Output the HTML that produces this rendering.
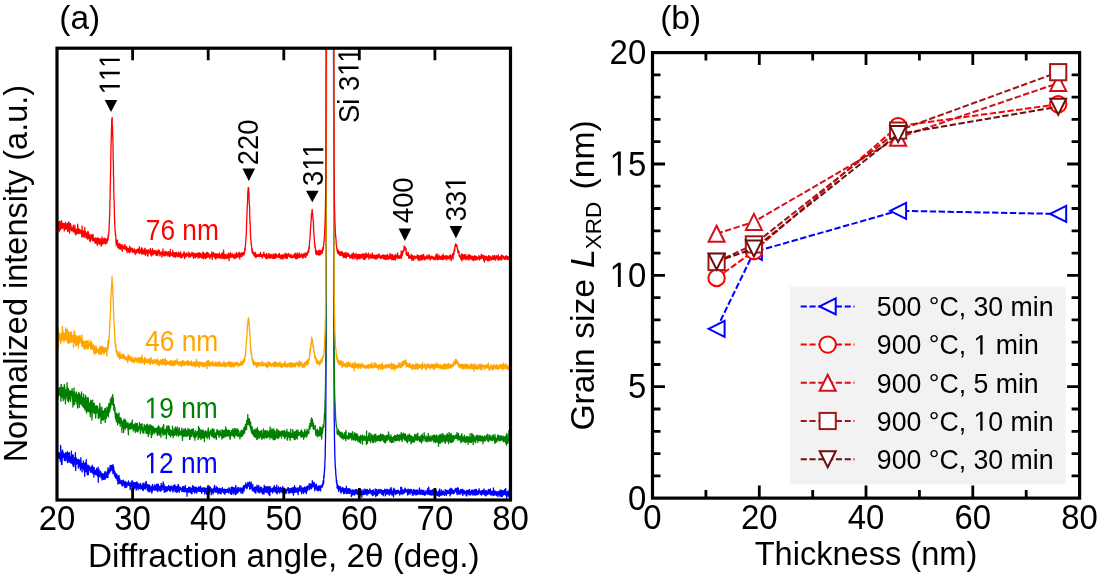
<!DOCTYPE html>
<html><head><meta charset="utf-8"><style>
html,body{margin:0;padding:0;background:#fff;width:1100px;height:577px;overflow:hidden}
svg{display:block;will-change:transform;font-family:"Liberation Sans", sans-serif}
</style></head><body>
<svg width="1100" height="577" viewBox="0 0 1100 577">
<defs><path id="one" d="M515 0H696V1409H530L197 1180V1010L515 1237Z"/><clipPath id="ca"><rect x="57.0" y="48.2" width="453.5" height="451.8"/></clipPath></defs>
<g clip-path="url(#ca)" fill="none" stroke-width="1.3" stroke-linejoin="round">
<path stroke="#0000ff" d="M57.0 457.0L57.2 458.9 57.3 457.0 57.5 450.5 57.6 459.3 57.8 457.5 57.9 453.6 58.1 458.0 58.2 457.2 58.4 456.9 58.5 455.9 58.7 458.0 58.8 452.9 59.0 455.2 59.1 454.0 59.3 458.3 59.4 456.1 59.6 454.8 59.7 452.9 59.9 455.0 60.0 456.1 60.2 455.0 60.3 461.2 60.5 460.1 60.6 445.5 60.8 448.8 60.9 455.5 61.1 454.6 61.2 457.1 61.4 457.2 61.5 464.6 61.7 452.0 61.8 454.9 62.0 464.4 62.1 459.0 62.3 459.1 62.4 454.5 62.6 450.1 62.7 457.2 62.9 457.0 63.0 451.9 63.2 454.0 63.3 456.4 63.5 453.1 63.7 456.4 63.8 457.2 64.0 457.0 64.1 454.9 64.3 459.2 64.4 460.4 64.6 458.3 64.7 453.9 64.9 459.9 65.0 455.2 65.2 460.6 65.3 453.1 65.5 460.8 65.6 457.3 65.8 452.6 65.9 456.2 66.1 457.7 66.2 458.6 66.4 453.8 66.5 453.4 66.7 458.4 66.8 456.0 67.0 458.7 67.1 460.7 67.3 451.6 67.4 458.9 67.6 462.6 67.7 456.9 67.9 455.1 68.0 461.0 68.2 459.2 68.3 461.7 68.5 457.1 68.6 452.9 68.8 458.1 68.9 456.9 69.1 461.5 69.2 459.4 69.4 452.6 69.5 454.3 69.7 462.1 69.8 461.4 70.0 456.6 70.2 459.0 70.3 460.7 70.5 460.9 70.6 462.5 70.8 460.2 70.9 459.0 71.1 458.4 71.2 463.3 71.4 451.2 71.5 459.1 71.7 459.8 71.8 454.5 72.0 461.0 72.1 457.4 72.3 463.0 72.4 459.5 72.6 462.4 72.7 464.5 72.9 461.5 73.0 457.0 73.2 454.8 73.3 466.7 73.5 460.0 73.6 458.0 73.8 461.1 73.9 459.9 74.1 463.8 74.2 460.9 74.4 460.9 74.5 458.4 74.7 462.7 74.8 457.4 75.0 463.5 75.1 466.7 75.3 455.9 75.4 452.7 75.6 463.7 75.7 470.6 75.9 458.1 76.0 457.3 76.2 463.9 76.3 459.0 76.5 460.2 76.7 460.9 76.8 464.0 77.0 460.8 77.1 463.3 77.3 461.8 77.4 459.6 77.6 461.5 77.7 459.4 77.9 462.8 78.0 459.1 78.2 459.3 78.3 468.1 78.5 463.0 78.6 463.1 78.8 465.2 78.9 462.1 79.1 462.8 79.2 465.1 79.4 464.8 79.5 460.0 79.7 466.8 79.8 462.1 80.0 460.7 80.1 461.3 80.3 463.1 80.4 469.9 80.6 460.7 80.7 465.2 80.9 457.7 81.0 464.9 81.2 467.9 81.3 464.3 81.5 463.1 81.6 466.0 81.8 467.7 81.9 467.6 82.1 472.0 82.2 466.3 82.4 463.8 82.5 465.4 82.7 465.7 82.8 466.4 83.0 466.0 83.2 466.8 83.3 461.0 83.5 469.1 83.6 464.7 83.8 462.9 83.9 468.7 84.1 471.0 84.2 468.4 84.4 467.5 84.5 464.1 84.7 476.2 84.8 470.0 85.0 463.7 85.1 465.0 85.3 467.8 85.4 462.7 85.6 468.2 85.7 466.3 85.9 471.6 86.0 470.9 86.2 459.6 86.3 468.2 86.5 463.2 86.6 471.6 86.8 468.8 86.9 470.1 87.1 465.2 87.2 474.1 87.4 474.8 87.5 465.5 87.7 469.9 87.8 466.8 88.0 468.9 88.1 465.2 88.3 474.7 88.4 466.2 88.6 468.3 88.7 470.8 88.9 467.4 89.0 468.7 89.2 467.8 89.3 469.2 89.5 466.2 89.7 468.4 89.8 469.2 90.0 468.9 90.1 470.1 90.3 469.2 90.4 472.3 90.6 469.2 90.7 469.9 90.9 468.4 91.0 468.9 91.2 466.8 91.3 472.1 91.5 467.3 91.6 468.5 91.8 471.8 91.9 472.0 92.1 469.8 92.2 465.2 92.4 472.3 92.5 471.9 92.7 467.2 92.8 473.5 93.0 469.4 93.1 468.2 93.3 471.8 93.4 471.1 93.6 472.3 93.7 467.2 93.9 477.0 94.0 470.2 94.2 467.6 94.3 473.8 94.5 471.1 94.6 473.1 94.8 471.3 94.9 472.2 95.1 473.1 95.2 470.4 95.4 474.5 95.5 471.3 95.7 470.3 95.8 473.0 96.0 474.1 96.2 472.3 96.3 470.6 96.5 474.8 96.6 468.3 96.8 470.4 96.9 473.4 97.1 469.6 97.2 473.5 97.4 473.4 97.5 476.0 97.7 471.2 97.8 472.0 98.0 474.7 98.1 467.2 98.3 482.3 98.4 472.1 98.6 472.1 98.7 476.4 98.9 474.1 99.0 469.5 99.2 476.0 99.3 476.6 99.5 473.2 99.6 473.7 99.8 475.8 99.9 472.2 100.1 475.8 100.2 475.2 100.4 473.0 100.5 471.2 100.7 474.3 100.8 472.6 101.0 477.6 101.1 475.4 101.3 477.1 101.4 475.5 101.6 475.9 101.7 473.2 101.9 477.0 102.0 480.0 102.2 474.6 102.3 473.9 102.5 475.0 102.7 474.2 102.8 473.7 103.0 475.9 103.1 474.8 103.3 479.3 103.4 475.6 103.6 476.5 103.7 478.1 103.9 474.9 104.0 479.4 104.2 474.1 104.3 473.7 104.5 474.8 104.6 475.5 104.8 472.2 104.9 475.7 105.1 471.5 105.2 479.2 105.4 475.5 105.5 474.0 105.7 473.3 105.8 474.6 106.0 474.9 106.1 472.8 106.3 473.0 106.4 474.8 106.6 473.8 106.7 477.4 106.9 477.7 107.0 474.8 107.2 475.8 107.3 471.1 107.5 475.8 107.6 474.0 107.8 475.0 107.9 477.6 108.1 467.7 108.2 473.8 108.4 470.1 108.5 474.1 108.7 469.1 108.9 470.8 109.0 472.2 109.2 472.9 109.3 471.3 109.5 468.9 109.6 469.1 109.8 472.3 109.9 469.9 110.1 465.5 110.2 471.3 110.4 470.0 110.5 470.9 110.7 467.7 110.8 470.3 111.0 465.5 111.1 469.3 111.3 466.6 111.4 469.3 111.6 470.0 111.7 465.7 111.9 467.4 112.0 467.6 112.2 470.5 112.3 469.4 112.5 465.0 112.6 469.1 112.8 470.0 112.9 473.6 113.1 464.8 113.2 467.9 113.4 472.6 113.5 466.6 113.7 467.4 113.8 471.8 114.0 473.4 114.1 469.8 114.3 473.1 114.4 472.5 114.6 476.2 114.7 473.0 114.9 475.8 115.0 471.8 115.2 473.8 115.4 474.4 115.5 477.7 115.7 476.8 115.8 474.1 116.0 477.7 116.1 478.3 116.3 476.6 116.4 476.5 116.6 477.0 116.7 473.8 116.9 478.4 117.0 478.8 117.2 476.5 117.3 480.4 117.5 475.9 117.6 477.9 117.8 478.3 117.9 484.1 118.1 476.1 118.2 481.2 118.4 482.2 118.5 481.1 118.7 483.0 118.8 478.2 119.0 475.5 119.1 482.4 119.3 478.2 119.4 480.2 119.6 478.4 119.7 483.5 119.9 483.1 120.0 479.7 120.2 483.4 120.3 481.7 120.5 481.2 120.6 481.7 120.8 481.2 120.9 483.1 121.1 482.5 121.2 481.1 121.4 484.1 121.5 480.6 121.7 482.7 121.9 483.0 122.0 485.4 122.2 481.1 122.3 486.1 122.5 482.7 122.6 481.9 122.8 480.9 122.9 483.7 123.1 482.6 123.2 480.1 123.4 480.1 123.5 481.4 123.7 481.2 123.8 485.1 124.0 485.7 124.1 484.7 124.3 483.6 124.4 481.9 124.6 483.0 124.7 484.9 124.9 487.6 125.0 485.0 125.2 482.5 125.3 483.2 125.5 482.1 125.6 481.5 125.8 482.9 125.9 483.7 126.1 487.3 126.2 483.5 126.4 486.3 126.5 487.2 126.7 483.7 126.8 487.0 127.0 485.1 127.1 482.7 127.3 484.2 127.4 483.8 127.6 483.3 127.7 483.4 127.9 484.1 128.0 484.8 128.2 482.0 128.4 483.9 128.5 480.8 128.7 484.6 128.8 485.4 129.0 484.5 129.1 484.7 129.3 485.4 129.4 482.8 129.6 483.8 129.7 485.4 129.9 486.4 130.0 485.2 130.2 489.7 130.3 484.3 130.5 486.6 130.6 487.2 130.8 484.3 130.9 482.9 131.1 482.2 131.2 485.0 131.4 487.0 131.5 485.3 131.7 485.1 131.8 484.0 132.0 486.0 132.1 480.5 132.3 485.4 132.4 485.0 132.6 482.1 132.7 489.5 132.9 482.2 133.0 482.8 133.2 482.6 133.3 487.4 133.5 483.3 133.6 486.5 133.8 486.4 133.9 485.8 134.1 482.6 134.2 484.0 134.4 488.7 134.5 482.7 134.7 483.7 134.9 485.1 135.0 487.1 135.2 486.0 135.3 487.0 135.5 483.3 135.6 487.4 135.8 486.7 135.9 482.4 136.1 488.7 136.2 490.3 136.4 484.1 136.5 485.8 136.7 488.5 136.8 482.8 137.0 481.8 137.1 483.2 137.3 484.7 137.4 484.7 137.6 487.1 137.7 486.4 137.9 483.4 138.0 487.1 138.2 489.7 138.3 488.4 138.5 488.0 138.6 486.1 138.8 488.0 138.9 484.2 139.1 487.6 139.2 486.0 139.4 488.4 139.5 487.1 139.7 484.1 139.8 486.5 140.0 488.7 140.1 484.1 140.3 485.2 140.4 484.8 140.6 483.4 140.7 488.3 140.9 489.0 141.0 488.0 141.2 487.0 141.4 486.4 141.5 487.0 141.7 485.1 141.8 488.3 142.0 488.7 142.1 488.5 142.3 485.6 142.4 486.8 142.6 486.4 142.7 490.2 142.9 487.1 143.0 483.1 143.2 487.6 143.3 490.5 143.5 488.2 143.6 488.6 143.8 487.0 143.9 483.1 144.1 483.4 144.2 484.6 144.4 486.8 144.5 487.6 144.7 488.4 144.8 486.4 145.0 489.0 145.1 486.6 145.3 485.8 145.4 488.8 145.6 485.5 145.7 482.0 145.9 485.2 146.0 487.5 146.2 481.4 146.3 486.7 146.5 486.7 146.6 484.7 146.8 484.6 146.9 486.6 147.1 486.4 147.2 489.9 147.4 488.2 147.5 484.5 147.7 485.9 147.9 488.9 148.0 491.2 148.2 488.4 148.3 488.3 148.5 491.2 148.6 487.7 148.8 487.1 148.9 485.0 149.1 486.8 149.2 491.9 149.4 485.1 149.5 487.8 149.7 485.1 149.8 488.1 150.0 489.5 150.1 487.4 150.3 489.3 150.4 489.3 150.6 488.8 150.7 491.2 150.9 489.4 151.0 487.4 151.2 486.7 151.3 486.4 151.5 488.9 151.6 487.4 151.8 493.2 151.9 491.5 152.1 487.6 152.2 487.4 152.4 491.3 152.5 484.5 152.7 487.2 152.8 489.9 153.0 486.4 153.1 487.2 153.3 487.4 153.4 489.4 153.6 488.4 153.7 488.9 153.9 489.2 154.0 488.2 154.2 490.2 154.4 486.8 154.5 485.4 154.7 484.8 154.8 485.1 155.0 487.1 155.1 490.1 155.3 488.5 155.4 487.1 155.6 486.2 155.7 487.2 155.9 487.4 156.0 487.1 156.2 485.5 156.3 487.3 156.5 490.1 156.6 484.1 156.8 487.8 156.9 484.3 157.1 488.6 157.2 486.9 157.4 484.3 157.5 488.5 157.7 491.7 157.8 488.5 158.0 490.5 158.1 488.2 158.3 484.2 158.4 489.2 158.6 487.5 158.7 485.6 158.9 489.8 159.0 488.9 159.2 487.4 159.3 490.0 159.5 486.7 159.6 489.6 159.8 486.6 159.9 489.4 160.1 486.3 160.2 491.2 160.4 488.9 160.5 491.1 160.7 486.9 160.9 487.5 161.0 490.0 161.2 483.3 161.3 486.4 161.5 490.4 161.6 489.3 161.8 490.3 161.9 487.9 162.1 489.5 162.2 487.1 162.4 485.9 162.5 485.3 162.7 487.4 162.8 487.5 163.0 487.3 163.1 481.9 163.3 484.8 163.4 487.5 163.6 489.1 163.7 487.4 163.9 486.9 164.0 484.2 164.2 492.3 164.3 486.5 164.5 491.7 164.6 491.5 164.8 489.1 164.9 487.5 165.1 488.8 165.2 486.4 165.4 489.1 165.5 488.6 165.7 489.6 165.8 490.4 166.0 491.8 166.1 487.9 166.3 490.6 166.4 487.2 166.6 487.0 166.7 487.5 166.9 486.8 167.0 490.5 167.2 490.4 167.4 491.0 167.5 488.6 167.7 489.2 167.8 487.6 168.0 486.6 168.1 489.5 168.3 489.2 168.4 486.7 168.6 489.8 168.7 485.5 168.9 488.4 169.0 487.6 169.2 487.8 169.3 486.7 169.5 490.5 169.6 489.8 169.8 491.0 169.9 489.0 170.1 486.4 170.2 488.1 170.4 486.6 170.5 489.6 170.7 491.0 170.8 489.4 171.0 487.7 171.1 488.1 171.3 489.2 171.4 486.1 171.6 489.1 171.7 489.2 171.9 487.8 172.0 488.1 172.2 489.1 172.3 487.3 172.5 487.3 172.6 490.3 172.8 489.3 172.9 492.0 173.1 487.0 173.2 485.6 173.4 490.6 173.5 490.6 173.7 487.5 173.9 486.2 174.0 488.8 174.2 485.7 174.3 488.3 174.5 484.9 174.6 488.5 174.8 485.0 174.9 488.5 175.1 491.7 175.2 488.4 175.4 490.3 175.5 487.7 175.7 487.3 175.8 486.2 176.0 490.9 176.1 488.8 176.3 491.9 176.4 486.8 176.6 488.5 176.7 489.1 176.9 491.6 177.0 492.3 177.2 487.8 177.3 486.9 177.5 485.8 177.6 491.5 177.8 488.8 177.9 487.8 178.1 488.9 178.2 484.3 178.4 485.8 178.5 490.7 178.7 489.8 178.8 489.3 179.0 487.2 179.1 490.1 179.3 492.3 179.4 486.8 179.6 489.1 179.7 488.3 179.9 489.7 180.0 489.1 180.2 488.8 180.4 487.5 180.5 489.1 180.7 488.0 180.8 488.8 181.0 489.0 181.1 490.3 181.3 488.1 181.4 488.5 181.6 491.1 181.7 488.7 181.9 488.7 182.0 490.7 182.2 489.7 182.3 489.3 182.5 489.6 182.6 486.9 182.8 490.0 182.9 491.6 183.1 490.3 183.2 486.4 183.4 489.7 183.5 487.6 183.7 488.8 183.8 489.5 184.0 487.1 184.1 491.7 184.3 489.1 184.4 490.7 184.6 490.4 184.7 491.7 184.9 491.5 185.0 486.6 185.2 489.4 185.3 485.4 185.5 488.5 185.6 490.6 185.8 491.0 185.9 491.7 186.1 488.7 186.2 489.9 186.4 489.5 186.5 491.7 186.7 492.3 186.9 488.7 187.0 496.3 187.2 489.4 187.3 488.7 187.5 490.5 187.6 490.8 187.8 490.4 187.9 488.3 188.1 492.1 188.2 489.5 188.4 492.3 188.5 492.0 188.7 487.2 188.8 487.7 189.0 487.7 189.1 489.9 189.3 489.6 189.4 490.0 189.6 488.0 189.7 490.3 189.9 492.1 190.0 487.1 190.2 489.2 190.3 490.0 190.5 489.3 190.6 489.2 190.8 492.8 190.9 491.9 191.1 491.1 191.2 488.2 191.4 493.7 191.5 490.3 191.7 488.6 191.8 489.0 192.0 488.7 192.1 493.5 192.3 490.0 192.4 489.8 192.6 485.7 192.7 491.0 192.9 487.7 193.0 487.6 193.2 490.8 193.4 488.1 193.5 491.2 193.7 491.7 193.8 486.5 194.0 489.5 194.1 486.9 194.3 489.6 194.4 491.4 194.6 487.3 194.7 493.0 194.9 489.2 195.0 487.6 195.2 489.5 195.3 491.2 195.5 487.3 195.6 489.8 195.8 487.3 195.9 492.0 196.1 490.1 196.2 489.0 196.4 491.7 196.5 487.5 196.7 489.1 196.8 493.1 197.0 489.6 197.1 492.3 197.3 490.2 197.4 488.6 197.6 489.4 197.7 490.0 197.9 489.1 198.0 488.4 198.2 488.4 198.3 487.2 198.5 490.1 198.6 490.6 198.8 491.2 198.9 486.6 199.1 491.3 199.2 489.9 199.4 487.3 199.6 490.1 199.7 491.4 199.9 490.9 200.0 491.2 200.2 491.6 200.3 491.5 200.5 489.9 200.6 486.2 200.8 488.6 200.9 490.6 201.1 489.1 201.2 491.2 201.4 491.4 201.5 490.1 201.7 493.4 201.8 488.2 202.0 491.7 202.1 489.1 202.3 488.6 202.4 491.1 202.6 488.9 202.7 491.6 202.9 487.9 203.0 490.1 203.2 488.5 203.3 489.6 203.5 489.4 203.6 488.0 203.8 491.2 203.9 487.8 204.1 488.3 204.2 491.7 204.4 491.8 204.5 491.3 204.7 490.7 204.8 494.2 205.0 487.9 205.1 488.8 205.3 488.3 205.4 491.7 205.6 490.6 205.7 492.1 205.9 491.9 206.1 489.7 206.2 488.7 206.4 488.4 206.5 494.1 206.7 491.9 206.8 491.2 207.0 489.6 207.1 489.8 207.3 489.6 207.4 489.6 207.6 485.9 207.7 490.1 207.9 489.5 208.0 490.7 208.2 490.6 208.3 491.7 208.5 490.2 208.6 491.6 208.8 485.6 208.9 488.3 209.1 493.3 209.2 488.1 209.4 489.7 209.5 491.5 209.7 488.7 209.8 491.5 210.0 487.7 210.1 486.8 210.3 487.9 210.4 487.3 210.6 490.2 210.7 489.7 210.9 490.9 211.0 488.4 211.2 494.8 211.3 490.1 211.5 490.2 211.6 491.1 211.8 489.9 211.9 489.2 212.1 490.5 212.2 492.0 212.4 491.5 212.6 492.0 212.7 489.3 212.9 489.0 213.0 493.9 213.2 489.9 213.3 491.2 213.5 491.7 213.6 492.9 213.8 488.0 213.9 489.5 214.1 489.6 214.2 489.9 214.4 486.1 214.5 490.2 214.7 485.3 214.8 490.9 215.0 491.4 215.1 491.5 215.3 488.3 215.4 492.1 215.6 488.9 215.7 488.3 215.9 488.7 216.0 488.9 216.2 490.8 216.3 491.9 216.5 486.7 216.6 489.5 216.8 492.1 216.9 490.8 217.1 491.4 217.2 487.8 217.4 492.2 217.5 487.7 217.7 490.9 217.8 492.9 218.0 493.9 218.1 491.4 218.3 492.1 218.4 489.5 218.6 489.7 218.7 492.6 218.9 490.6 219.1 490.3 219.2 488.1 219.4 490.8 219.5 491.7 219.7 489.2 219.8 489.7 220.0 493.4 220.1 490.9 220.3 490.1 220.4 488.6 220.6 489.5 220.7 490.2 220.9 493.0 221.0 489.5 221.2 493.8 221.3 489.0 221.5 490.0 221.6 492.1 221.8 490.2 221.9 489.2 222.1 490.4 222.2 491.4 222.4 487.6 222.5 490.2 222.7 490.5 222.8 490.0 223.0 492.0 223.1 489.7 223.3 490.0 223.4 490.7 223.6 492.0 223.7 490.3 223.9 493.4 224.0 489.1 224.2 493.0 224.3 489.2 224.5 490.4 224.6 491.3 224.8 494.3 224.9 492.3 225.1 490.0 225.2 493.0 225.4 490.3 225.6 489.3 225.7 491.5 225.9 490.8 226.0 492.4 226.2 489.7 226.3 491.4 226.5 491.8 226.6 491.2 226.8 490.6 226.9 489.4 227.1 492.3 227.2 490.9 227.4 491.5 227.5 490.0 227.7 490.7 227.8 488.8 228.0 490.8 228.1 492.0 228.3 490.8 228.4 492.2 228.6 491.2 228.7 493.0 228.9 490.3 229.0 487.7 229.2 491.4 229.3 490.3 229.5 488.9 229.6 491.7 229.8 491.1 229.9 491.4 230.1 490.0 230.2 490.9 230.4 491.0 230.5 493.7 230.7 489.4 230.8 490.5 231.0 491.2 231.1 487.5 231.3 487.7 231.4 494.4 231.6 487.4 231.7 491.5 231.9 489.0 232.1 489.2 232.2 487.0 232.4 488.9 232.5 491.9 232.7 488.0 232.8 491.6 233.0 491.0 233.1 494.1 233.3 489.6 233.4 492.7 233.6 492.0 233.7 490.0 233.9 487.5 234.0 493.1 234.2 488.0 234.3 489.6 234.5 492.0 234.6 492.4 234.8 488.9 234.9 490.4 235.1 490.0 235.2 492.5 235.4 494.8 235.5 487.2 235.7 492.0 235.8 485.3 236.0 490.4 236.1 488.4 236.3 493.9 236.4 490.7 236.6 489.0 236.7 489.5 236.9 489.3 237.0 490.7 237.2 490.0 237.3 491.5 237.5 493.0 237.6 491.5 237.8 488.1 237.9 487.4 238.1 488.9 238.2 492.1 238.4 489.6 238.6 489.0 238.7 490.5 238.9 487.7 239.0 488.2 239.2 491.1 239.3 489.6 239.5 489.3 239.6 490.7 239.8 489.1 239.9 488.9 240.1 489.2 240.2 491.1 240.4 490.1 240.5 487.9 240.7 489.4 240.8 491.1 241.0 493.2 241.1 487.8 241.3 490.4 241.4 489.3 241.6 491.2 241.7 490.4 241.9 492.2 242.0 490.4 242.2 488.5 242.3 488.4 242.5 490.0 242.6 489.9 242.8 493.4 242.9 492.0 243.1 486.8 243.2 489.4 243.4 486.3 243.5 485.6 243.7 489.8 243.8 489.3 244.0 486.4 244.1 491.0 244.3 486.2 244.4 485.7 244.6 488.8 244.7 487.8 244.9 487.0 245.1 487.0 245.2 487.3 245.4 486.5 245.5 486.3 245.7 483.0 245.8 483.8 246.0 487.1 246.1 484.6 246.3 486.7 246.4 487.7 246.6 484.7 246.7 485.7 246.9 488.7 247.0 486.1 247.2 488.1 247.3 487.4 247.5 485.9 247.6 484.2 247.8 482.9 247.9 482.3 248.1 485.1 248.2 485.1 248.4 483.9 248.5 485.7 248.7 483.2 248.8 486.3 249.0 484.4 249.1 484.3 249.3 484.5 249.4 484.4 249.6 489.2 249.7 482.0 249.9 485.3 250.0 487.3 250.2 486.5 250.3 484.9 250.5 488.7 250.6 483.8 250.8 483.6 250.9 487.1 251.1 483.7 251.2 482.2 251.4 488.2 251.6 488.1 251.7 488.3 251.9 486.2 252.0 487.6 252.2 485.7 252.3 490.7 252.5 489.1 252.6 489.2 252.8 484.5 252.9 489.6 253.1 490.9 253.2 490.5 253.4 489.9 253.5 488.6 253.7 488.1 253.8 489.8 254.0 489.5 254.1 489.4 254.3 488.5 254.4 492.1 254.6 487.1 254.7 489.2 254.9 488.2 255.0 491.2 255.2 491.9 255.3 491.6 255.5 490.8 255.6 487.0 255.8 493.3 255.9 490.5 256.1 489.4 256.2 489.6 256.4 489.0 256.5 490.4 256.7 490.2 256.8 489.0 257.0 485.1 257.1 489.6 257.3 490.6 257.4 490.7 257.6 489.5 257.7 490.6 257.9 491.6 258.1 488.9 258.2 492.4 258.4 486.3 258.5 487.5 258.7 488.2 258.8 485.4 259.0 488.0 259.1 492.0 259.3 492.0 259.4 490.0 259.6 492.9 259.7 490.2 259.9 488.9 260.0 490.2 260.2 489.6 260.3 491.1 260.5 487.1 260.6 491.6 260.8 489.0 260.9 491.4 261.1 487.1 261.2 489.1 261.4 490.0 261.5 491.5 261.7 487.7 261.8 492.8 262.0 490.7 262.1 488.9 262.3 492.0 262.4 490.0 262.6 491.9 262.7 494.0 262.9 491.2 263.0 488.9 263.2 489.1 263.3 490.9 263.5 490.4 263.6 488.4 263.8 488.7 263.9 491.1 264.1 494.1 264.2 485.2 264.4 491.2 264.6 489.5 264.7 491.3 264.9 491.5 265.0 490.0 265.2 488.1 265.3 487.4 265.5 486.6 265.6 492.1 265.8 489.5 265.9 489.0 266.1 489.4 266.2 487.5 266.4 490.5 266.5 492.3 266.7 492.0 266.8 487.1 267.0 492.4 267.1 488.6 267.3 486.5 267.4 487.7 267.6 488.2 267.7 489.9 267.9 488.1 268.0 487.2 268.2 489.5 268.3 493.4 268.5 488.7 268.6 490.8 268.8 490.1 268.9 494.7 269.1 486.6 269.2 491.9 269.4 487.7 269.5 488.9 269.7 489.8 269.8 495.7 270.0 488.6 270.1 486.6 270.3 492.3 270.4 488.5 270.6 489.6 270.7 490.0 270.9 490.2 271.1 489.7 271.2 490.5 271.4 490.7 271.5 491.5 271.7 489.2 271.8 488.7 272.0 488.1 272.1 491.1 272.3 489.9 272.4 491.0 272.6 491.0 272.7 493.0 272.9 490.4 273.0 491.4 273.2 487.9 273.3 488.1 273.5 489.5 273.6 487.9 273.8 491.3 273.9 487.6 274.1 490.2 274.2 485.6 274.4 488.1 274.5 489.4 274.7 489.6 274.8 486.8 275.0 490.2 275.1 491.8 275.3 491.2 275.4 488.9 275.6 489.0 275.7 487.9 275.9 491.2 276.0 492.6 276.2 489.1 276.3 487.0 276.5 490.4 276.6 491.3 276.8 485.2 276.9 490.3 277.1 493.9 277.2 491.5 277.4 491.1 277.6 490.8 277.7 492.0 277.9 488.4 278.0 488.6 278.2 490.8 278.3 488.9 278.5 490.5 278.6 486.7 278.8 491.4 278.9 491.6 279.1 490.2 279.2 490.4 279.4 493.0 279.5 488.2 279.7 488.5 279.8 488.1 280.0 489.3 280.1 488.3 280.3 490.2 280.4 488.9 280.6 487.5 280.7 487.3 280.9 492.3 281.0 490.0 281.2 489.7 281.3 490.2 281.5 490.0 281.6 491.5 281.8 491.1 281.9 489.1 282.1 488.6 282.2 488.2 282.4 487.9 282.5 492.6 282.7 488.5 282.8 486.5 283.0 488.6 283.1 488.7 283.3 490.7 283.4 488.5 283.6 491.1 283.7 490.8 283.9 492.4 284.1 494.0 284.2 495.2 284.4 492.5 284.5 488.1 284.7 489.4 284.8 490.6 285.0 493.8 285.1 491.3 285.3 492.3 285.4 489.8 285.6 491.2 285.7 491.4 285.9 489.3 286.0 491.5 286.2 492.0 286.3 489.9 286.5 491.9 286.6 493.1 286.8 490.3 286.9 490.1 287.1 489.6 287.2 489.0 287.4 490.4 287.5 489.4 287.7 489.6 287.8 488.8 288.0 487.4 288.1 488.5 288.3 490.7 288.4 488.0 288.6 489.0 288.7 493.1 288.9 492.1 289.0 488.9 289.2 491.2 289.3 489.0 289.5 493.0 289.6 489.1 289.8 490.3 289.9 492.6 290.1 488.7 290.3 492.5 290.4 488.7 290.6 490.6 290.7 489.6 290.9 490.0 291.0 490.4 291.2 490.0 291.3 488.3 291.5 491.7 291.6 491.4 291.8 492.4 291.9 492.6 292.1 487.8 292.2 492.4 292.4 492.4 292.5 489.2 292.7 492.0 292.8 492.8 293.0 489.2 293.1 487.7 293.3 489.5 293.4 495.1 293.6 490.6 293.7 488.0 293.9 489.7 294.0 488.4 294.2 489.4 294.3 490.3 294.5 485.6 294.6 490.8 294.8 492.6 294.9 489.8 295.1 489.4 295.2 492.1 295.4 487.9 295.5 487.9 295.7 487.7 295.8 489.8 296.0 490.8 296.1 490.0 296.3 491.1 296.4 491.6 296.6 491.0 296.8 488.7 296.9 489.6 297.1 492.3 297.2 488.2 297.4 489.7 297.5 489.4 297.7 489.8 297.8 488.2 298.0 487.7 298.1 494.6 298.3 491.8 298.4 488.8 298.6 490.0 298.7 491.3 298.9 489.5 299.0 491.2 299.2 489.0 299.3 489.4 299.5 489.9 299.6 489.3 299.8 485.7 299.9 490.1 300.1 490.5 300.2 490.9 300.4 488.3 300.5 490.7 300.7 490.4 300.8 486.9 301.0 486.1 301.1 490.9 301.3 488.3 301.4 491.8 301.6 493.8 301.7 489.0 301.9 488.8 302.0 490.0 302.2 491.2 302.3 488.0 302.5 492.2 302.6 491.7 302.8 491.1 302.9 489.0 303.1 491.6 303.3 491.5 303.4 487.8 303.6 493.6 303.7 489.4 303.9 490.5 304.0 488.9 304.2 490.5 304.3 491.9 304.5 488.4 304.6 486.8 304.8 488.9 304.9 487.4 305.1 488.3 305.2 489.4 305.4 489.5 305.5 491.8 305.7 487.7 305.8 490.1 306.0 488.5 306.1 491.7 306.3 493.7 306.4 489.7 306.6 492.1 306.7 488.1 306.9 486.1 307.0 486.6 307.2 486.0 307.3 487.0 307.5 488.1 307.6 490.5 307.8 489.6 307.9 489.0 308.1 487.3 308.2 486.7 308.4 487.9 308.5 487.9 308.7 488.0 308.8 488.0 309.0 487.0 309.1 483.7 309.3 485.0 309.4 485.3 309.6 489.6 309.8 485.7 309.9 487.5 310.1 488.8 310.2 486.6 310.4 485.2 310.5 485.3 310.7 483.8 310.8 486.1 311.0 487.4 311.1 486.3 311.3 486.6 311.4 486.4 311.6 488.6 311.7 483.9 311.9 485.3 312.0 486.2 312.2 487.2 312.3 480.7 312.5 484.1 312.6 484.6 312.8 483.3 312.9 486.6 313.1 485.6 313.2 484.6 313.4 482.5 313.5 483.1 313.7 483.8 313.8 486.5 314.0 483.6 314.1 482.3 314.3 483.5 314.4 485.1 314.6 489.2 314.7 490.8 314.9 485.7 315.0 488.3 315.2 489.2 315.3 489.2 315.5 486.8 315.6 484.9 315.8 486.4 315.9 484.1 316.1 487.9 316.3 488.9 316.4 484.3 316.6 487.6 316.7 488.3 316.9 490.1 317.0 490.3 317.2 489.4 317.3 486.8 317.5 487.4 317.6 490.2 317.8 487.1 317.9 488.1 318.1 490.9 318.2 488.5 318.4 485.8 318.5 487.7 318.7 489.4 318.8 487.9 319.0 490.2 319.1 490.4 319.3 487.0 319.4 487.3 319.6 487.9 319.7 486.0 319.9 488.7 320.0 487.6 320.2 489.3 320.3 486.8 320.5 486.2 320.6 490.9 320.8 486.0 320.9 486.5 321.1 486.1 321.2 486.7 321.4 485.5 321.5 486.9 321.7 485.6 321.8 485.9 322.0 487.0 322.1 487.3 322.3 486.6 322.4 484.2 322.6 485.8 322.8 484.5 322.9 484.0 323.1 480.6 323.2 484.0 323.4 481.8 323.5 484.1 323.7 481.1 323.8 476.8 324.0 474.8 324.1 477.5 324.3 472.0 324.4 472.4 324.6 468.1 324.7 469.3 324.9 462.3 325.0 460.9 325.2 455.9 325.3 447.2 325.5 440.3 325.6 433.4 325.8 415.5 325.9 388.3 326.1 345.9 326.2 263.6 326.4 101.9 326.5 28.2 326.7 28.2 326.8 28.2 327.0 28.2 327.1 28.2 327.3 28.2 327.4 28.2 327.6 28.2 327.7 28.2 327.9 28.2 328.0 28.2 328.2 28.2 328.3 28.2 328.5 28.2 328.6 28.2 328.8 28.2 328.9 28.2 329.1 28.2 329.3 28.2 329.4 28.2 329.6 28.2 329.7 28.2 329.9 28.2 330.0 28.2 330.2 28.2 330.3 28.2 330.5 28.2 330.6 28.2 330.8 28.2 330.9 28.2 331.1 28.2 331.2 28.2 331.4 28.2 331.5 28.2 331.7 28.2 331.8 28.2 332.0 28.2 332.1 28.2 332.3 28.2 332.4 28.2 332.6 28.2 332.7 28.2 332.9 28.2 333.0 28.2 333.2 28.2 333.3 28.2 333.5 28.2 333.6 103.6 333.8 257.2 333.9 343.6 334.1 389.4 334.2 415.8 334.4 431.6 334.5 440.1 334.7 448.1 334.8 455.1 335.0 458.6 335.1 462.2 335.3 465.6 335.4 468.9 335.6 468.4 335.8 474.3 335.9 474.3 336.1 478.0 336.2 476.7 336.4 482.2 336.5 482.1 336.7 480.3 336.8 483.9 337.0 482.9 337.1 487.9 337.3 486.2 337.4 484.4 337.6 486.6 337.7 486.5 337.9 488.9 338.0 487.7 338.2 488.2 338.3 485.6 338.5 489.1 338.6 491.5 338.8 489.2 338.9 488.2 339.1 488.6 339.2 486.8 339.4 488.9 339.5 486.8 339.7 488.9 339.8 488.2 340.0 487.6 340.1 490.1 340.3 486.6 340.4 489.2 340.6 487.0 340.7 492.5 340.9 492.9 341.0 491.0 341.2 492.9 341.3 490.7 341.5 490.6 341.6 489.0 341.8 488.3 341.9 490.1 342.1 489.0 342.3 489.2 342.4 491.3 342.6 489.9 342.7 487.4 342.9 489.8 343.0 488.9 343.2 489.7 343.3 488.4 343.5 492.4 343.6 493.6 343.8 488.5 343.9 491.6 344.1 491.5 344.2 488.7 344.4 490.7 344.5 493.0 344.7 492.1 344.8 493.4 345.0 488.7 345.1 489.4 345.3 491.2 345.4 491.4 345.6 490.8 345.7 490.1 345.9 490.1 346.0 489.8 346.2 491.6 346.3 486.2 346.5 493.7 346.6 490.0 346.8 488.5 346.9 491.9 347.1 488.6 347.2 491.7 347.4 490.4 347.5 492.1 347.7 492.4 347.8 493.3 348.0 490.3 348.1 490.6 348.3 491.1 348.4 488.7 348.6 492.2 348.8 491.4 348.9 488.9 349.1 493.3 349.2 493.6 349.4 489.0 349.5 492.3 349.7 493.4 349.8 492.7 350.0 489.6 350.1 489.0 350.3 491.2 350.4 490.5 350.6 491.4 350.7 491.2 350.9 492.3 351.0 490.5 351.2 491.2 351.3 496.5 351.5 491.2 351.6 492.7 351.8 492.0 351.9 491.9 352.1 489.9 352.2 492.4 352.4 491.4 352.5 492.9 352.7 495.0 352.8 491.9 353.0 492.9 353.1 489.8 353.3 491.8 353.4 494.2 353.6 491.5 353.7 490.5 353.9 492.0 354.0 491.3 354.2 491.2 354.3 491.0 354.5 495.1 354.6 490.2 354.8 491.0 354.9 490.7 355.1 493.8 355.3 491.3 355.4 494.0 355.6 492.0 355.7 491.7 355.9 489.3 356.0 493.8 356.2 492.7 356.3 492.5 356.5 491.6 356.6 491.1 356.8 489.7 356.9 493.4 357.1 492.3 357.2 491.2 357.4 490.8 357.5 492.1 357.7 491.7 357.8 494.7 358.0 493.2 358.1 490.9 358.3 490.0 358.4 491.5 358.6 490.4 358.7 492.1 358.9 492.6 359.0 493.0 359.2 492.7 359.3 491.6 359.5 493.0 359.6 490.5 359.8 491.8 359.9 493.4 360.1 492.5 360.2 489.8 360.4 490.0 360.5 489.3 360.7 495.1 360.8 489.4 361.0 491.8 361.1 495.1 361.3 493.9 361.4 494.3 361.6 491.2 361.8 493.3 361.9 497.2 362.1 492.0 362.2 492.8 362.4 491.5 362.5 492.1 362.7 492.7 362.8 494.4 363.0 490.6 363.1 489.7 363.3 492.1 363.4 492.4 363.6 494.5 363.7 493.3 363.9 491.1 364.0 493.1 364.2 494.0 364.3 492.6 364.5 491.5 364.6 493.3 364.8 491.5 364.9 489.0 365.1 494.4 365.2 489.9 365.4 491.6 365.5 491.6 365.7 491.6 365.8 491.7 366.0 489.7 366.1 493.0 366.3 492.2 366.4 492.2 366.6 494.0 366.7 494.0 366.9 494.4 367.0 495.3 367.2 492.9 367.3 489.5 367.5 492.5 367.6 492.2 367.8 492.3 367.9 491.1 368.1 490.7 368.3 493.5 368.4 493.8 368.6 490.3 368.7 493.1 368.9 491.9 369.0 491.5 369.2 493.3 369.3 492.1 369.5 491.2 369.6 492.3 369.8 488.8 369.9 491.2 370.1 491.4 370.2 489.8 370.4 492.5 370.5 492.6 370.7 491.2 370.8 491.9 371.0 493.3 371.1 494.0 371.3 490.9 371.4 492.8 371.6 493.9 371.7 492.1 371.9 490.9 372.0 490.9 372.2 491.6 372.3 490.4 372.5 495.6 372.6 491.2 372.8 492.8 372.9 492.5 373.1 493.3 373.2 491.5 373.4 490.0 373.5 495.0 373.7 492.0 373.8 492.4 374.0 492.5 374.1 494.3 374.3 493.5 374.4 494.2 374.6 493.6 374.8 492.5 374.9 492.6 375.1 490.9 375.2 488.9 375.4 491.8 375.5 490.4 375.7 496.6 375.8 494.8 376.0 494.2 376.1 491.3 376.3 495.7 376.4 489.3 376.6 490.2 376.7 490.9 376.9 490.6 377.0 492.4 377.2 492.5 377.3 495.4 377.5 493.9 377.6 494.3 377.8 492.9 377.9 492.0 378.1 491.1 378.2 489.7 378.4 490.8 378.5 491.6 378.7 493.5 378.8 489.4 379.0 489.9 379.1 492.6 379.3 490.5 379.4 492.8 379.6 491.5 379.7 491.0 379.9 490.0 380.0 492.1 380.2 491.0 380.3 491.2 380.5 491.2 380.6 492.6 380.8 492.5 381.0 489.3 381.1 492.0 381.3 492.9 381.4 494.0 381.6 493.6 381.7 492.6 381.9 490.3 382.0 490.9 382.2 493.8 382.3 491.1 382.5 494.0 382.6 494.4 382.8 490.5 382.9 493.0 383.1 492.1 383.2 495.7 383.4 493.7 383.5 491.4 383.7 492.9 383.8 490.7 384.0 492.0 384.1 492.6 384.3 492.5 384.4 492.8 384.6 490.7 384.7 489.1 384.9 491.7 385.0 490.8 385.2 491.1 385.3 495.9 385.5 494.2 385.6 492.0 385.8 489.8 385.9 490.1 386.1 492.9 386.2 494.1 386.4 491.8 386.5 492.5 386.7 492.7 386.8 494.1 387.0 489.1 387.1 492.5 387.3 493.0 387.5 493.9 387.6 492.9 387.8 490.4 387.9 491.3 388.1 489.7 388.2 492.6 388.4 492.6 388.5 493.1 388.7 490.6 388.8 490.4 389.0 494.9 389.1 492.6 389.3 495.2 389.4 493.0 389.6 489.8 389.7 493.6 389.9 494.4 390.0 491.5 390.2 489.0 390.3 493.4 390.5 492.1 390.6 492.8 390.8 487.8 390.9 493.1 391.1 487.6 391.2 490.8 391.4 493.8 391.5 489.2 391.7 489.1 391.8 491.5 392.0 495.1 392.1 495.0 392.3 491.3 392.4 494.0 392.6 493.3 392.7 492.7 392.9 492.9 393.0 491.1 393.2 493.6 393.3 494.1 393.5 496.9 393.6 493.8 393.8 488.1 394.0 490.3 394.1 492.8 394.3 492.4 394.4 489.1 394.6 492.0 394.7 491.7 394.9 492.2 395.0 492.1 395.2 493.8 395.3 494.7 395.5 493.4 395.6 490.4 395.8 490.8 395.9 491.1 396.1 492.2 396.2 491.5 396.4 491.7 396.5 490.7 396.7 493.8 396.8 493.7 397.0 493.8 397.1 492.1 397.3 493.0 397.4 490.7 397.6 490.5 397.7 491.3 397.9 493.2 398.0 491.9 398.2 490.2 398.3 492.3 398.5 492.8 398.6 492.4 398.8 491.0 398.9 492.2 399.1 491.3 399.2 491.5 399.4 491.9 399.5 493.3 399.7 495.0 399.8 494.6 400.0 493.0 400.1 491.2 400.3 491.3 400.5 491.4 400.6 493.7 400.8 487.1 400.9 492.1 401.1 488.3 401.2 491.6 401.4 493.8 401.5 490.0 401.7 487.6 401.8 493.6 402.0 493.9 402.1 492.2 402.3 493.4 402.4 489.9 402.6 493.2 402.7 494.1 402.9 492.2 403.0 491.6 403.2 493.2 403.3 493.0 403.5 489.8 403.6 493.3 403.8 492.2 403.9 491.2 404.1 493.1 404.2 492.5 404.4 492.2 404.5 490.0 404.7 492.3 404.8 489.0 405.0 490.7 405.1 488.1 405.3 488.1 405.4 491.7 405.6 490.8 405.7 491.1 405.9 492.0 406.0 491.7 406.2 489.6 406.3 491.3 406.5 491.1 406.6 490.3 406.8 491.0 407.0 490.7 407.1 490.2 407.3 490.8 407.4 491.8 407.6 495.0 407.7 490.1 407.9 492.4 408.0 489.1 408.2 494.3 408.3 491.1 408.5 492.0 408.6 493.9 408.8 493.5 408.9 489.3 409.1 492.8 409.2 491.5 409.4 493.0 409.5 492.2 409.7 493.3 409.8 492.5 410.0 491.8 410.1 494.1 410.3 489.5 410.4 491.4 410.6 490.5 410.7 491.9 410.9 491.5 411.0 492.0 411.2 491.4 411.3 491.4 411.5 489.5 411.6 492.2 411.8 492.8 411.9 491.3 412.1 491.2 412.2 491.2 412.4 495.1 412.5 492.6 412.7 493.0 412.8 491.8 413.0 491.5 413.1 490.9 413.3 495.0 413.5 489.5 413.6 492.9 413.8 492.3 413.9 491.9 414.1 489.7 414.2 490.3 414.4 494.0 414.5 491.2 414.7 493.9 414.8 493.5 415.0 493.4 415.1 493.7 415.3 490.3 415.4 491.6 415.6 493.5 415.7 490.3 415.9 495.2 416.0 491.5 416.2 492.3 416.3 490.7 416.5 493.0 416.6 491.2 416.8 492.0 416.9 490.5 417.1 494.4 417.2 489.7 417.4 493.2 417.5 492.8 417.7 493.2 417.8 490.7 418.0 494.2 418.1 494.0 418.3 492.7 418.4 492.9 418.6 492.2 418.7 493.5 418.9 491.0 419.0 493.4 419.2 493.1 419.3 490.1 419.5 488.0 419.6 492.2 419.8 492.2 420.0 494.5 420.1 492.5 420.3 491.6 420.4 490.1 420.6 492.3 420.7 491.5 420.9 490.6 421.0 492.2 421.2 494.2 421.3 492.6 421.5 490.7 421.6 493.0 421.8 490.6 421.9 489.8 422.1 493.3 422.2 491.5 422.4 494.3 422.5 493.0 422.7 491.1 422.8 492.8 423.0 494.6 423.1 492.1 423.3 490.7 423.4 491.3 423.6 491.1 423.7 490.5 423.9 490.3 424.0 493.2 424.2 494.3 424.3 491.8 424.5 493.8 424.6 494.0 424.8 495.3 424.9 492.1 425.1 491.9 425.2 493.2 425.4 492.6 425.5 493.0 425.7 494.6 425.8 491.7 426.0 492.8 426.1 490.8 426.3 492.2 426.5 491.3 426.6 491.2 426.8 492.1 426.9 491.7 427.1 493.1 427.2 493.8 427.4 490.0 427.5 494.2 427.7 488.7 427.8 492.9 428.0 493.7 428.1 491.4 428.3 492.1 428.4 491.2 428.6 494.0 428.7 487.1 428.9 490.8 429.0 489.2 429.2 492.8 429.3 494.7 429.5 494.5 429.6 493.6 429.8 492.9 429.9 491.2 430.1 494.5 430.2 493.5 430.4 491.1 430.5 490.3 430.7 491.4 430.8 494.3 431.0 494.6 431.1 495.2 431.3 491.2 431.4 491.9 431.6 494.8 431.7 492.9 431.9 493.8 432.0 490.3 432.2 491.9 432.3 492.5 432.5 491.9 432.6 491.8 432.8 489.7 433.0 495.2 433.1 492.7 433.3 490.0 433.4 494.3 433.6 492.6 433.7 493.7 433.9 492.2 434.0 491.2 434.2 491.2 434.3 493.1 434.5 493.8 434.6 493.3 434.8 493.6 434.9 494.6 435.1 493.0 435.2 494.2 435.4 494.4 435.5 493.0 435.7 492.4 435.8 491.8 436.0 490.5 436.1 489.9 436.3 494.8 436.4 492.5 436.6 491.6 436.7 495.2 436.9 494.2 437.0 492.7 437.2 494.3 437.3 492.3 437.5 493.2 437.6 495.6 437.8 494.4 437.9 492.1 438.1 493.8 438.2 494.6 438.4 492.4 438.5 491.9 438.7 495.8 438.8 492.1 439.0 490.4 439.1 492.9 439.3 496.5 439.5 493.7 439.6 494.3 439.8 489.0 439.9 491.7 440.1 494.7 440.2 492.0 440.4 494.9 440.5 493.5 440.7 493.4 440.8 495.5 441.0 491.9 441.1 491.9 441.3 492.9 441.4 493.1 441.6 489.9 441.7 494.8 441.9 493.1 442.0 492.5 442.2 493.8 442.3 492.1 442.5 494.8 442.6 492.8 442.8 494.0 442.9 491.2 443.1 492.3 443.2 493.4 443.4 491.1 443.5 491.6 443.7 492.6 443.8 494.6 444.0 494.0 444.1 494.2 444.3 493.2 444.4 494.2 444.6 495.3 444.7 493.0 444.9 493.4 445.0 493.7 445.2 489.3 445.3 492.5 445.5 493.4 445.6 494.0 445.8 492.2 446.0 494.3 446.1 491.6 446.3 492.4 446.4 495.5 446.6 490.4 446.7 492.5 446.9 492.4 447.0 492.5 447.2 491.8 447.3 493.7 447.5 490.8 447.6 490.4 447.8 493.4 447.9 490.6 448.1 493.2 448.2 492.6 448.4 491.4 448.5 492.0 448.7 492.4 448.8 493.3 449.0 491.5 449.1 492.1 449.3 490.1 449.4 492.0 449.6 489.2 449.7 492.3 449.9 491.6 450.0 495.9 450.2 494.5 450.3 492.0 450.5 493.9 450.6 492.7 450.8 490.3 450.9 488.1 451.1 494.0 451.2 492.7 451.4 488.8 451.5 493.1 451.7 493.5 451.8 490.8 452.0 493.2 452.1 488.9 452.3 491.4 452.5 491.7 452.6 492.9 452.8 492.2 452.9 491.9 453.1 492.4 453.2 490.3 453.4 493.8 453.5 490.7 453.7 492.6 453.8 491.2 454.0 490.7 454.1 492.0 454.3 491.8 454.4 493.2 454.6 492.7 454.7 489.9 454.9 491.7 455.0 490.9 455.2 489.4 455.3 488.9 455.5 491.1 455.6 489.8 455.8 488.3 455.9 490.5 456.1 491.0 456.2 490.8 456.4 488.6 456.5 489.7 456.7 493.0 456.8 489.4 457.0 490.2 457.1 494.6 457.3 491.4 457.4 490.0 457.6 487.6 457.7 491.5 457.9 488.7 458.0 491.0 458.2 489.7 458.3 488.4 458.5 494.0 458.6 491.1 458.8 492.9 459.0 492.6 459.1 490.2 459.3 491.7 459.4 491.0 459.6 493.2 459.7 492.4 459.9 491.1 460.0 494.6 460.2 492.7 460.3 492.6 460.5 490.6 460.6 492.6 460.8 489.5 460.9 492.8 461.1 490.5 461.2 492.4 461.4 491.7 461.5 492.6 461.7 492.8 461.8 492.1 462.0 492.2 462.1 489.8 462.3 489.1 462.4 494.5 462.6 493.3 462.7 489.9 462.9 495.6 463.0 491.2 463.2 493.3 463.3 493.2 463.5 492.6 463.6 493.5 463.8 490.2 463.9 492.4 464.1 492.1 464.2 492.6 464.4 492.0 464.5 491.4 464.7 491.3 464.8 494.0 465.0 491.1 465.1 493.1 465.3 493.1 465.5 492.4 465.6 493.3 465.8 493.5 465.9 491.7 466.1 493.1 466.2 495.8 466.4 490.8 466.5 492.1 466.7 491.3 466.8 495.9 467.0 490.2 467.1 492.6 467.3 494.1 467.4 491.1 467.6 492.4 467.7 491.4 467.9 490.3 468.0 492.5 468.2 493.4 468.3 491.9 468.5 492.9 468.6 493.7 468.8 494.6 468.9 490.5 469.1 493.6 469.2 491.6 469.4 489.4 469.5 491.3 469.7 493.7 469.8 493.1 470.0 490.8 470.1 495.3 470.3 493.3 470.4 492.5 470.6 491.7 470.7 493.3 470.9 492.0 471.0 494.5 471.2 493.1 471.3 493.7 471.5 492.1 471.7 490.1 471.8 493.5 472.0 490.9 472.1 492.5 472.3 492.6 472.4 491.3 472.6 494.1 472.7 490.2 472.9 495.1 473.0 491.6 473.2 494.2 473.3 494.8 473.5 491.2 473.6 491.4 473.8 494.2 473.9 493.0 474.1 492.8 474.2 489.6 474.4 489.9 474.5 493.5 474.7 495.0 474.8 491.5 475.0 491.2 475.1 493.0 475.3 493.4 475.4 493.6 475.6 491.9 475.7 489.4 475.9 495.1 476.0 491.8 476.2 494.8 476.3 489.3 476.5 493.3 476.6 491.8 476.8 490.8 476.9 494.3 477.1 494.8 477.2 491.7 477.4 493.7 477.5 490.9 477.7 491.6 477.8 492.3 478.0 492.1 478.2 493.7 478.3 490.7 478.5 494.3 478.6 494.3 478.8 492.3 478.9 490.7 479.1 488.7 479.2 492.6 479.4 491.5 479.5 492.8 479.7 490.9 479.8 492.7 480.0 492.6 480.1 492.7 480.3 493.1 480.4 493.2 480.6 494.3 480.7 491.4 480.9 493.9 481.0 492.9 481.2 492.0 481.3 491.0 481.5 495.1 481.6 493.1 481.8 491.8 481.9 492.8 482.1 492.7 482.2 491.8 482.4 490.4 482.5 492.9 482.7 492.4 482.8 492.2 483.0 494.3 483.1 490.5 483.3 491.1 483.4 493.0 483.6 494.1 483.7 493.7 483.9 493.9 484.0 489.0 484.2 493.5 484.3 493.4 484.5 493.8 484.7 491.6 484.8 493.5 485.0 494.4 485.1 495.4 485.3 493.1 485.4 490.5 485.6 492.8 485.7 493.8 485.9 493.6 486.0 495.9 486.2 492.4 486.3 491.0 486.5 491.7 486.6 493.8 486.8 491.4 486.9 491.0 487.1 491.3 487.2 494.7 487.4 493.1 487.5 492.2 487.7 494.1 487.8 493.9 488.0 491.1 488.1 494.1 488.3 493.1 488.4 489.3 488.6 490.8 488.7 493.2 488.9 493.5 489.0 492.3 489.2 491.1 489.3 493.1 489.5 489.7 489.6 493.7 489.8 492.5 489.9 492.7 490.1 491.7 490.2 494.1 490.4 488.9 490.5 491.3 490.7 493.7 490.8 491.6 491.0 495.2 491.2 493.5 491.3 491.5 491.5 494.6 491.6 492.6 491.8 493.7 491.9 491.7 492.1 491.8 492.2 493.9 492.4 492.9 492.5 491.5 492.7 491.3 492.8 493.9 493.0 495.7 493.1 491.4 493.3 493.9 493.4 488.0 493.6 490.5 493.7 493.9 493.9 495.4 494.0 492.9 494.2 493.7 494.3 493.2 494.5 494.5 494.6 491.0 494.8 493.9 494.9 492.1 495.1 492.3 495.2 492.8 495.4 492.5 495.5 491.5 495.7 492.4 495.8 491.3 496.0 495.3 496.1 494.0 496.3 492.1 496.4 495.5 496.6 495.0 496.7 493.6 496.9 491.9 497.0 493.3 497.2 493.8 497.3 495.1 497.5 492.5 497.7 491.9 497.8 496.6 498.0 495.1 498.1 493.3 498.3 491.3 498.4 493.6 498.6 494.7 498.7 494.1 498.9 494.2 499.0 492.9 499.2 494.7 499.3 491.8 499.5 492.1 499.6 492.0 499.8 491.8 499.9 496.1 500.1 490.0 500.2 493.2 500.4 491.2 500.5 490.8 500.7 493.0 500.8 490.2 501.0 492.7 501.1 496.6 501.3 492.6 501.4 493.6 501.6 491.4 501.7 493.6 501.9 490.4 502.0 493.1 502.2 492.6 502.3 496.4 502.5 492.7 502.6 492.2 502.8 491.9 502.9 490.8 503.1 494.1 503.2 495.2 503.4 492.2 503.5 494.0 503.7 492.2 503.8 493.5 504.0 493.6 504.2 490.4 504.3 491.5 504.5 494.4 504.6 489.6 504.8 492.8 504.9 492.2 505.1 491.2 505.2 492.9 505.4 493.3 505.5 493.7 505.7 488.4 505.8 495.6 506.0 492.0 506.1 494.5 506.3 492.6 506.4 491.8 506.6 492.7 506.7 498.1 506.9 495.4 507.0 492.2 507.2 493.2 507.3 494.7 507.5 493.8 507.6 492.9 507.8 492.5 507.9 491.0 508.1 494.0 508.2 494.6 508.4 496.5 508.5 491.9 508.7 493.9 508.8 492.7 509.0 494.9 509.1 492.6 509.3 491.7 509.4 490.0 509.6 494.0 509.7 493.1 509.9 494.7 510.0 491.9 510.2 497.1 510.3 491.6 510.5 493.7"/>
<path stroke="#008000" d="M57.0 392.0L57.2 388.9 57.3 389.4 57.5 380.3 57.6 399.4 57.8 396.4 57.9 389.9 58.1 394.8 58.2 392.6 58.4 388.9 58.5 395.8 58.7 390.1 58.8 390.0 59.0 388.0 59.1 393.6 59.3 391.2 59.4 394.1 59.6 388.9 59.7 392.3 59.9 387.7 60.0 395.6 60.2 392.7 60.3 393.4 60.5 393.8 60.6 387.4 60.8 395.5 60.9 401.3 61.1 384.7 61.2 384.3 61.4 385.4 61.5 396.0 61.7 392.8 61.8 397.1 62.0 395.6 62.1 393.3 62.3 393.7 62.4 391.7 62.6 396.4 62.7 387.4 62.9 390.7 63.0 393.7 63.2 400.7 63.3 389.2 63.5 387.9 63.7 390.2 63.8 397.2 64.0 391.8 64.1 398.8 64.3 384.5 64.4 398.0 64.6 397.7 64.7 386.7 64.9 393.8 65.0 398.6 65.2 393.6 65.3 397.7 65.5 403.9 65.6 394.5 65.8 392.1 65.9 389.9 66.1 396.3 66.2 392.6 66.4 392.7 66.5 393.1 66.7 396.5 66.8 388.8 67.0 386.8 67.1 382.7 67.3 399.1 67.4 394.1 67.6 400.6 67.7 393.8 67.9 390.6 68.0 396.1 68.2 393.7 68.3 388.4 68.5 390.1 68.6 402.1 68.8 395.8 68.9 396.2 69.1 393.1 69.2 391.3 69.4 398.5 69.5 394.0 69.7 391.1 69.8 394.0 70.0 390.6 70.2 395.6 70.3 399.9 70.5 391.1 70.6 401.4 70.8 392.0 70.9 395.8 71.1 391.4 71.2 394.2 71.4 395.5 71.5 393.4 71.7 392.3 71.8 392.4 72.0 391.9 72.1 388.6 72.3 394.5 72.4 397.6 72.6 400.0 72.7 398.9 72.9 407.1 73.0 397.6 73.2 394.2 73.3 404.7 73.5 391.7 73.6 400.8 73.8 392.2 73.9 398.2 74.1 387.8 74.2 400.8 74.4 396.2 74.5 392.6 74.7 404.6 74.8 400.6 75.0 397.4 75.1 393.9 75.3 397.2 75.4 396.7 75.6 400.8 75.7 401.2 75.9 394.7 76.0 395.3 76.2 395.5 76.3 391.9 76.5 395.4 76.7 397.7 76.8 401.3 77.0 404.2 77.1 394.7 77.3 400.9 77.4 396.5 77.6 408.0 77.7 398.5 77.9 401.1 78.0 394.7 78.2 395.3 78.3 400.0 78.5 397.4 78.6 400.8 78.8 392.3 78.9 402.4 79.1 395.5 79.2 407.4 79.4 398.4 79.5 404.7 79.7 393.6 79.8 401.9 80.0 396.1 80.1 398.0 80.3 400.4 80.4 399.0 80.6 401.7 80.7 403.9 80.9 403.6 81.0 400.4 81.2 394.8 81.3 397.4 81.5 400.2 81.6 391.8 81.8 404.6 81.9 400.4 82.1 400.4 82.2 405.8 82.4 404.7 82.5 402.8 82.7 397.6 82.8 403.4 83.0 403.7 83.2 398.4 83.3 407.0 83.5 404.7 83.6 394.1 83.8 403.3 83.9 397.4 84.1 407.9 84.2 406.6 84.4 398.5 84.5 399.5 84.7 403.9 84.8 402.5 85.0 410.2 85.1 406.9 85.3 402.7 85.4 406.4 85.6 395.5 85.7 405.5 85.9 408.0 86.0 403.7 86.2 401.6 86.3 407.1 86.5 413.0 86.6 405.8 86.8 400.3 86.9 411.2 87.1 397.4 87.2 407.4 87.4 403.0 87.5 409.4 87.7 402.1 87.8 411.3 88.0 407.1 88.1 398.9 88.3 398.0 88.4 404.9 88.6 411.7 88.7 407.0 88.9 406.8 89.0 405.7 89.2 409.8 89.3 408.4 89.5 408.1 89.7 403.1 89.8 412.0 90.0 412.8 90.1 402.1 90.3 416.8 90.4 410.5 90.6 405.7 90.7 400.1 90.9 410.5 91.0 410.2 91.2 405.7 91.3 401.0 91.5 412.8 91.6 406.1 91.8 406.6 91.9 419.9 92.1 417.2 92.2 412.6 92.4 407.1 92.5 411.6 92.7 400.1 92.8 409.6 93.0 406.3 93.1 404.3 93.3 403.3 93.4 411.6 93.6 410.0 93.7 410.4 93.9 413.2 94.0 406.7 94.2 405.3 94.3 403.3 94.5 409.0 94.6 413.3 94.8 409.9 94.9 413.0 95.1 406.1 95.2 408.9 95.4 407.9 95.5 406.1 95.7 418.1 95.8 414.4 96.0 408.3 96.2 408.4 96.3 411.2 96.5 406.0 96.6 413.2 96.8 406.8 96.9 410.4 97.1 408.0 97.2 410.2 97.4 407.0 97.5 406.2 97.7 408.6 97.8 409.8 98.0 411.3 98.1 412.7 98.3 418.3 98.4 415.7 98.6 411.8 98.7 415.5 98.9 410.3 99.0 418.3 99.2 415.1 99.3 408.1 99.5 416.0 99.6 416.3 99.8 403.4 99.9 410.6 100.1 411.7 100.2 406.5 100.4 409.7 100.5 410.2 100.7 415.6 100.8 414.9 101.0 423.4 101.1 412.5 101.3 418.1 101.4 414.3 101.6 415.0 101.7 409.9 101.9 407.2 102.0 411.4 102.2 417.0 102.3 420.0 102.5 416.5 102.7 416.2 102.8 411.4 103.0 419.9 103.1 419.3 103.3 412.6 103.4 414.3 103.6 411.0 103.7 419.8 103.9 416.0 104.0 414.2 104.2 416.1 104.3 416.2 104.5 413.1 104.6 410.2 104.8 410.0 104.9 408.4 105.1 416.2 105.2 422.4 105.4 408.5 105.5 415.0 105.7 415.9 105.8 410.9 106.0 415.0 106.1 410.3 106.3 418.3 106.4 411.8 106.6 414.1 106.7 416.0 106.9 411.9 107.0 406.9 107.2 411.1 107.3 415.4 107.5 412.2 107.6 413.0 107.8 408.1 107.9 412.0 108.1 413.7 108.2 410.9 108.4 417.0 108.5 409.2 108.7 405.8 108.9 403.4 109.0 412.4 109.2 407.7 109.3 410.9 109.5 408.5 109.6 411.9 109.8 410.1 109.9 404.0 110.1 405.7 110.2 407.9 110.4 399.4 110.5 408.1 110.7 406.9 110.8 405.6 111.0 401.2 111.1 402.6 111.3 397.5 111.4 401.2 111.6 398.9 111.7 401.1 111.9 399.0 112.0 401.7 112.2 404.8 112.3 396.6 112.5 404.4 112.6 394.9 112.8 394.7 112.9 402.0 113.1 402.9 113.2 404.9 113.4 398.5 113.5 404.4 113.7 405.6 113.8 410.0 114.0 406.2 114.1 408.9 114.3 404.6 114.4 407.9 114.6 407.8 114.7 412.2 114.9 407.3 115.0 408.5 115.2 413.8 115.4 418.4 115.5 414.3 115.7 414.6 115.8 413.1 116.0 418.3 116.1 417.0 116.3 421.4 116.4 417.3 116.6 413.5 116.7 415.2 116.9 414.2 117.0 413.7 117.2 422.2 117.3 421.1 117.5 414.8 117.6 424.8 117.8 420.1 117.9 416.5 118.1 421.0 118.2 419.8 118.4 417.8 118.5 414.2 118.7 420.7 118.8 421.7 119.0 412.8 119.1 422.9 119.3 423.2 119.4 419.9 119.6 421.9 119.7 420.8 119.9 419.2 120.0 420.8 120.2 426.3 120.3 417.6 120.5 423.0 120.6 423.0 120.8 420.3 120.9 421.2 121.1 418.4 121.2 420.2 121.4 423.0 121.5 424.0 121.7 420.4 121.9 432.6 122.0 421.6 122.2 423.8 122.3 422.8 122.5 422.4 122.6 427.7 122.8 422.3 122.9 427.9 123.1 427.4 123.2 420.9 123.4 427.3 123.5 422.3 123.7 432.6 123.8 423.2 124.0 421.6 124.1 418.8 124.3 420.7 124.4 422.9 124.6 421.7 124.7 421.1 124.9 422.8 125.0 424.3 125.2 429.3 125.3 420.0 125.5 423.5 125.6 422.3 125.8 420.7 125.9 421.5 126.1 422.7 126.2 427.5 126.4 424.9 126.5 423.9 126.7 427.4 126.8 426.4 127.0 425.0 127.1 426.8 127.3 423.3 127.4 427.6 127.6 427.2 127.7 424.6 127.9 422.3 128.0 430.4 128.2 426.2 128.4 434.9 128.5 424.1 128.7 428.5 128.8 424.8 129.0 426.9 129.1 428.6 129.3 423.8 129.4 425.9 129.6 426.7 129.7 426.6 129.9 428.1 130.0 429.3 130.2 428.8 130.3 427.2 130.5 425.4 130.6 423.2 130.8 424.4 130.9 425.0 131.1 428.6 131.2 425.6 131.4 423.0 131.5 428.5 131.7 424.4 131.8 424.5 132.0 426.1 132.1 428.2 132.3 419.9 132.4 423.6 132.6 427.4 132.7 425.9 132.9 424.5 133.0 425.4 133.2 431.0 133.3 425.7 133.5 429.1 133.6 429.4 133.8 425.9 133.9 428.4 134.1 425.9 134.2 425.5 134.4 424.1 134.5 429.8 134.7 426.2 134.9 425.8 135.0 424.2 135.2 432.6 135.3 429.6 135.5 427.1 135.6 425.5 135.8 423.2 135.9 428.4 136.1 428.4 136.2 423.7 136.4 431.0 136.5 429.9 136.7 425.0 136.8 426.2 137.0 426.6 137.1 428.3 137.3 427.5 137.4 423.3 137.6 432.1 137.7 428.8 137.9 431.5 138.0 431.5 138.2 427.5 138.3 429.0 138.5 430.2 138.6 430.3 138.8 427.7 138.9 426.4 139.1 428.3 139.2 426.0 139.4 426.7 139.5 422.6 139.7 428.5 139.8 425.5 140.0 426.8 140.1 428.2 140.3 429.3 140.4 433.7 140.6 429.0 140.7 424.5 140.9 428.9 141.0 426.9 141.2 429.7 141.4 426.7 141.5 426.6 141.7 427.2 141.8 426.9 142.0 423.6 142.1 426.8 142.3 428.7 142.4 432.0 142.6 427.9 142.7 427.7 142.9 430.4 143.0 430.3 143.2 433.2 143.3 430.4 143.5 428.8 143.6 432.6 143.8 433.1 143.9 427.6 144.1 429.4 144.2 424.3 144.4 427.9 144.5 426.5 144.7 428.4 144.8 427.7 145.0 428.6 145.1 428.8 145.3 430.4 145.4 429.7 145.6 427.6 145.7 425.6 145.9 432.5 146.0 433.0 146.2 427.9 146.3 430.7 146.5 425.0 146.6 424.9 146.8 428.5 146.9 433.3 147.1 426.4 147.2 427.0 147.4 433.7 147.5 424.1 147.7 431.1 147.9 430.7 148.0 428.8 148.2 429.9 148.3 436.6 148.5 426.4 148.6 428.6 148.8 428.8 148.9 427.6 149.1 425.9 149.2 433.9 149.4 430.1 149.5 424.8 149.7 427.7 149.8 430.7 150.0 430.7 150.1 425.7 150.3 429.4 150.4 430.4 150.6 430.8 150.7 430.8 150.9 424.8 151.0 434.8 151.2 430.3 151.3 434.7 151.5 437.6 151.6 429.4 151.8 426.5 151.9 432.2 152.1 429.4 152.2 428.7 152.4 427.1 152.5 434.5 152.7 428.7 152.8 426.2 153.0 428.8 153.1 426.9 153.3 430.4 153.4 428.9 153.6 427.2 153.7 431.7 153.9 428.3 154.0 432.0 154.2 433.5 154.4 429.2 154.5 428.4 154.7 430.7 154.8 432.6 155.0 430.2 155.1 430.6 155.3 430.2 155.4 431.1 155.6 432.0 155.7 428.4 155.9 429.0 156.0 430.4 156.2 428.6 156.3 430.7 156.5 431.8 156.6 430.3 156.8 428.8 156.9 428.4 157.1 435.1 157.2 432.8 157.4 427.5 157.5 428.3 157.7 435.5 157.8 434.6 158.0 430.9 158.1 433.7 158.3 426.6 158.4 430.6 158.6 432.6 158.7 425.7 158.9 428.6 159.0 432.8 159.2 433.7 159.3 429.1 159.5 431.5 159.6 435.0 159.8 429.8 159.9 427.3 160.1 430.6 160.2 429.8 160.4 434.3 160.5 431.3 160.7 428.8 160.9 437.2 161.0 429.6 161.2 432.2 161.3 432.7 161.5 433.0 161.6 431.4 161.8 432.6 161.9 430.8 162.1 427.3 162.2 430.5 162.4 430.6 162.5 430.6 162.7 431.5 162.8 429.5 163.0 434.6 163.1 435.3 163.3 425.4 163.4 431.2 163.6 429.4 163.7 424.4 163.9 432.3 164.0 429.6 164.2 430.3 164.3 429.6 164.5 434.2 164.6 434.6 164.8 432.1 164.9 433.2 165.1 431.1 165.2 431.8 165.4 429.5 165.5 431.5 165.7 429.6 165.8 432.5 166.0 433.7 166.1 432.3 166.3 434.6 166.4 438.6 166.6 426.1 166.7 431.6 166.9 430.1 167.0 430.4 167.2 428.1 167.4 431.8 167.5 431.0 167.7 430.0 167.8 431.0 168.0 430.2 168.1 425.7 168.3 434.6 168.4 431.0 168.6 429.3 168.7 432.6 168.9 430.1 169.0 426.2 169.2 434.1 169.3 427.5 169.5 431.3 169.6 432.2 169.8 435.4 169.9 435.0 170.1 432.4 170.2 430.0 170.4 430.9 170.5 434.8 170.7 436.6 170.8 433.4 171.0 430.4 171.1 434.7 171.3 431.1 171.4 431.0 171.6 431.3 171.7 433.6 171.9 432.8 172.0 434.7 172.2 435.4 172.3 433.4 172.5 426.1 172.6 427.8 172.8 432.6 172.9 432.0 173.1 437.7 173.2 432.1 173.4 431.8 173.5 434.6 173.7 434.9 173.9 431.6 174.0 433.4 174.2 429.3 174.3 429.8 174.5 435.4 174.6 428.7 174.8 434.6 174.9 434.0 175.1 434.3 175.2 434.7 175.4 433.8 175.5 426.9 175.7 429.8 175.8 430.8 176.0 434.7 176.1 429.5 176.3 430.6 176.4 431.5 176.6 435.8 176.7 428.7 176.9 429.0 177.0 434.0 177.2 427.0 177.3 433.3 177.5 431.3 177.6 428.5 177.8 431.4 177.9 429.9 178.1 432.9 178.2 433.4 178.4 436.3 178.5 432.5 178.7 432.8 178.8 431.1 179.0 432.5 179.1 435.2 179.3 427.7 179.4 434.3 179.6 431.2 179.7 432.8 179.9 433.5 180.0 434.8 180.2 433.3 180.4 431.7 180.5 433.5 180.7 432.7 180.8 432.2 181.0 433.2 181.1 434.9 181.3 433.1 181.4 433.1 181.6 429.5 181.7 432.4 181.9 428.1 182.0 434.6 182.2 430.4 182.3 436.1 182.5 440.4 182.6 431.8 182.8 436.2 182.9 433.9 183.1 431.4 183.2 430.7 183.4 434.3 183.5 436.4 183.7 433.8 183.8 429.1 184.0 430.3 184.1 432.3 184.3 436.3 184.4 433.6 184.6 433.8 184.7 436.0 184.9 432.4 185.0 432.7 185.2 432.5 185.3 428.5 185.5 434.2 185.6 434.0 185.8 435.5 185.9 430.0 186.1 431.0 186.2 435.4 186.4 433.9 186.5 436.5 186.7 430.9 186.9 433.6 187.0 431.4 187.2 433.9 187.3 431.9 187.5 434.5 187.6 435.9 187.8 434.8 187.9 428.6 188.1 435.5 188.2 434.3 188.4 430.6 188.5 431.0 188.7 433.2 188.8 434.7 189.0 432.1 189.1 429.2 189.3 434.0 189.4 433.7 189.6 439.4 189.7 430.1 189.9 439.6 190.0 437.7 190.2 434.1 190.3 437.5 190.5 433.6 190.6 435.8 190.8 431.5 190.9 433.6 191.1 430.8 191.2 429.5 191.4 432.7 191.5 431.8 191.7 434.8 191.8 436.6 192.0 433.0 192.1 433.6 192.3 433.9 192.4 429.3 192.6 434.1 192.7 433.5 192.9 433.4 193.0 430.8 193.2 428.6 193.4 432.9 193.5 434.3 193.7 436.9 193.8 436.4 194.0 437.2 194.1 434.5 194.3 436.5 194.4 433.1 194.6 435.2 194.7 435.9 194.9 440.3 195.0 434.2 195.2 430.5 195.3 437.1 195.5 431.7 195.6 433.5 195.8 433.0 195.9 431.4 196.1 437.0 196.2 435.2 196.4 432.2 196.5 433.9 196.7 432.7 196.8 435.3 197.0 432.8 197.1 431.9 197.3 432.2 197.4 432.7 197.6 434.5 197.7 431.5 197.9 433.6 198.0 434.9 198.2 439.6 198.3 436.0 198.5 426.5 198.6 432.6 198.8 432.9 198.9 434.7 199.1 437.7 199.2 435.7 199.4 428.2 199.6 434.7 199.7 434.2 199.9 434.9 200.0 437.3 200.2 431.2 200.3 436.6 200.5 429.9 200.6 434.1 200.8 434.9 200.9 439.6 201.1 432.2 201.2 429.8 201.4 435.7 201.5 432.3 201.7 437.8 201.8 432.2 202.0 431.8 202.1 437.0 202.3 434.2 202.4 436.4 202.6 430.5 202.7 438.0 202.9 432.5 203.0 436.0 203.2 431.5 203.3 430.2 203.5 433.4 203.6 434.4 203.8 437.9 203.9 434.9 204.1 435.8 204.2 435.6 204.4 441.6 204.5 432.0 204.7 437.1 204.8 433.6 205.0 434.6 205.1 432.7 205.3 436.9 205.4 430.9 205.6 430.8 205.7 433.5 205.9 431.2 206.1 435.7 206.2 436.3 206.4 432.2 206.5 435.9 206.7 432.4 206.8 433.9 207.0 434.0 207.1 438.6 207.3 434.0 207.4 431.8 207.6 431.8 207.7 437.0 207.9 429.9 208.0 432.9 208.2 433.1 208.3 428.0 208.5 432.9 208.6 436.5 208.8 434.6 208.9 431.8 209.1 435.7 209.2 435.3 209.4 439.0 209.5 432.2 209.7 433.1 209.8 434.1 210.0 433.7 210.1 434.3 210.3 433.8 210.4 432.3 210.6 430.1 210.7 432.7 210.9 430.6 211.0 431.5 211.2 432.7 211.3 435.3 211.5 436.1 211.6 431.5 211.8 434.8 211.9 436.0 212.1 433.9 212.2 430.0 212.4 428.7 212.6 436.0 212.7 436.3 212.9 434.7 213.0 431.4 213.2 437.6 213.3 437.0 213.5 433.9 213.6 433.5 213.8 429.2 213.9 435.8 214.1 430.0 214.2 435.7 214.4 435.8 214.5 434.2 214.7 437.9 214.8 433.2 215.0 435.5 215.1 436.0 215.3 434.6 215.4 433.0 215.6 437.0 215.7 435.1 215.9 433.5 216.0 433.6 216.2 434.3 216.3 439.6 216.5 434.3 216.6 433.4 216.8 431.4 216.9 431.0 217.1 429.4 217.2 434.6 217.4 434.1 217.5 431.5 217.7 430.4 217.8 433.2 218.0 432.7 218.1 430.8 218.3 434.8 218.4 434.4 218.6 433.9 218.7 435.9 218.9 432.4 219.1 437.4 219.2 431.5 219.4 435.3 219.5 435.6 219.7 433.4 219.8 434.9 220.0 430.9 220.1 430.3 220.3 433.5 220.4 432.2 220.6 435.5 220.7 434.1 220.9 435.5 221.0 434.8 221.2 434.5 221.3 434.3 221.5 433.1 221.6 432.9 221.8 439.0 221.9 429.7 222.1 433.6 222.2 436.5 222.4 435.1 222.5 437.5 222.7 435.4 222.8 430.9 223.0 433.2 223.1 430.6 223.3 436.4 223.4 437.6 223.6 433.0 223.7 435.4 223.9 433.0 224.0 430.5 224.2 432.9 224.3 430.2 224.5 432.6 224.6 434.5 224.8 435.8 224.9 437.2 225.1 433.2 225.2 434.6 225.4 435.1 225.6 435.4 225.7 427.0 225.9 432.1 226.0 436.0 226.2 431.3 226.3 434.6 226.5 436.1 226.6 429.4 226.8 433.5 226.9 434.6 227.1 434.0 227.2 430.3 227.4 434.9 227.5 432.6 227.7 436.0 227.8 435.1 228.0 432.7 228.1 434.4 228.3 432.3 228.4 432.3 228.6 430.1 228.7 433.4 228.9 435.9 229.0 434.2 229.2 433.9 229.3 432.4 229.5 432.7 229.6 435.8 229.8 430.3 229.9 439.0 230.1 433.8 230.2 439.2 230.4 436.8 230.5 432.9 230.7 435.7 230.8 434.5 231.0 435.0 231.1 435.8 231.3 432.5 231.4 432.4 231.6 432.9 231.7 430.5 231.9 433.2 232.1 434.4 232.2 434.5 232.4 434.3 232.5 432.9 232.7 435.8 232.8 428.8 233.0 432.9 233.1 433.0 233.3 436.0 233.4 435.4 233.6 435.8 233.7 433.8 233.9 436.1 234.0 431.3 234.2 434.0 234.3 428.6 234.5 438.0 234.6 437.6 234.8 432.3 234.9 431.7 235.1 428.6 235.2 430.0 235.4 434.0 235.5 433.4 235.7 430.1 235.8 432.5 236.0 432.1 236.1 434.9 236.3 435.5 236.4 433.2 236.6 434.0 236.7 433.7 236.9 428.6 237.0 434.2 237.2 433.6 237.3 435.5 237.5 429.2 237.6 435.6 237.8 432.1 237.9 434.3 238.1 436.6 238.2 430.1 238.4 430.5 238.6 436.1 238.7 430.9 238.9 431.3 239.0 435.1 239.2 433.2 239.3 435.5 239.5 434.4 239.6 433.6 239.8 436.0 239.9 438.9 240.1 433.4 240.2 437.2 240.4 436.3 240.5 433.8 240.7 434.7 240.8 431.2 241.0 432.0 241.1 434.2 241.3 433.4 241.4 436.6 241.6 430.2 241.7 432.7 241.9 431.8 242.0 432.9 242.2 436.1 242.3 430.3 242.5 435.2 242.6 431.6 242.8 432.2 242.9 435.3 243.1 432.1 243.2 434.3 243.4 432.8 243.5 432.0 243.7 431.3 243.8 427.8 244.0 430.0 244.1 432.0 244.3 431.8 244.4 427.4 244.6 433.2 244.7 431.8 244.9 426.9 245.1 427.1 245.2 430.5 245.4 424.5 245.5 426.5 245.7 427.7 245.8 427.0 246.0 426.6 246.1 427.2 246.3 423.7 246.4 423.9 246.6 429.5 246.7 420.5 246.9 422.3 247.0 423.1 247.2 420.8 247.3 424.8 247.5 421.6 247.6 422.9 247.8 414.3 247.9 423.3 248.1 423.0 248.2 418.3 248.4 423.3 248.5 420.8 248.7 422.5 248.8 424.9 249.0 421.0 249.1 418.6 249.3 421.4 249.4 418.8 249.6 420.4 249.7 421.0 249.9 421.7 250.0 426.9 250.2 426.6 250.3 423.0 250.5 428.5 250.6 422.2 250.8 425.3 250.9 427.1 251.1 430.8 251.2 430.2 251.4 430.0 251.6 432.5 251.7 431.5 251.9 433.5 252.0 428.7 252.2 426.8 252.3 430.2 252.5 433.5 252.6 432.4 252.8 434.2 252.9 434.0 253.1 433.7 253.2 434.6 253.4 431.0 253.5 435.6 253.7 430.6 253.8 432.9 254.0 429.8 254.1 434.5 254.3 429.6 254.4 436.9 254.6 430.2 254.7 434.2 254.9 433.3 255.0 431.5 255.2 436.7 255.3 432.7 255.5 437.3 255.6 431.3 255.8 431.8 255.9 428.9 256.1 435.2 256.2 436.1 256.4 434.4 256.5 433.5 256.7 431.7 256.8 439.6 257.0 435.7 257.1 429.5 257.3 433.2 257.4 427.6 257.6 437.8 257.7 438.8 257.9 437.6 258.1 433.9 258.2 432.6 258.4 430.6 258.5 435.3 258.7 432.2 258.8 433.1 259.0 432.5 259.1 433.3 259.3 436.3 259.4 438.2 259.6 434.5 259.7 434.1 259.9 431.4 260.0 431.1 260.2 431.5 260.3 436.3 260.5 434.7 260.6 436.5 260.8 435.2 260.9 433.2 261.1 431.1 261.2 433.3 261.4 430.7 261.5 439.1 261.7 434.8 261.8 433.3 262.0 439.1 262.1 433.3 262.3 435.6 262.4 433.8 262.6 435.1 262.7 433.3 262.9 435.4 263.0 437.7 263.2 431.1 263.3 428.8 263.5 437.5 263.6 434.7 263.8 436.4 263.9 433.5 264.1 438.0 264.2 438.7 264.4 431.4 264.6 435.9 264.7 432.8 264.9 430.3 265.0 433.5 265.2 435.7 265.3 430.9 265.5 431.1 265.6 437.3 265.8 434.3 265.9 435.2 266.1 431.5 266.2 432.7 266.4 434.5 266.5 434.7 266.7 434.6 266.8 438.1 267.0 434.6 267.1 430.5 267.3 432.1 267.4 434.1 267.6 437.3 267.7 432.5 267.9 433.2 268.0 434.1 268.2 432.5 268.3 432.2 268.5 433.6 268.6 436.6 268.8 435.4 268.9 433.5 269.1 435.2 269.2 431.0 269.4 436.6 269.5 436.0 269.7 434.9 269.8 430.2 270.0 439.1 270.1 427.0 270.3 431.7 270.4 431.9 270.6 435.9 270.7 430.5 270.9 434.8 271.1 433.8 271.2 433.5 271.4 436.3 271.5 437.7 271.7 435.2 271.8 433.5 272.0 428.6 272.1 437.8 272.3 433.5 272.4 429.7 272.6 434.6 272.7 437.8 272.9 433.9 273.0 431.4 273.2 439.7 273.3 435.7 273.5 435.1 273.6 436.7 273.8 428.9 273.9 434.1 274.1 433.9 274.2 439.8 274.4 432.9 274.5 432.9 274.7 430.9 274.8 432.3 275.0 433.8 275.1 434.9 275.3 433.8 275.4 439.2 275.6 435.5 275.7 435.9 275.9 437.7 276.0 435.9 276.2 433.0 276.3 430.5 276.5 435.2 276.6 432.3 276.8 437.5 276.9 432.4 277.1 428.9 277.2 434.4 277.4 437.0 277.6 433.8 277.7 434.8 277.9 434.7 278.0 438.6 278.2 435.1 278.3 434.2 278.5 432.8 278.6 430.3 278.8 437.8 278.9 437.2 279.1 432.0 279.2 435.8 279.4 435.1 279.5 433.4 279.7 433.6 279.8 436.2 280.0 431.4 280.1 433.1 280.3 434.2 280.4 434.3 280.6 433.8 280.7 434.9 280.9 435.6 281.0 432.2 281.2 434.6 281.3 433.1 281.5 438.0 281.6 430.9 281.8 433.8 281.9 436.1 282.1 433.7 282.2 433.5 282.4 433.0 282.5 435.1 282.7 431.5 282.8 434.2 283.0 434.1 283.1 430.8 283.3 435.1 283.4 433.2 283.6 435.1 283.7 436.5 283.9 435.2 284.1 431.5 284.2 435.2 284.4 430.5 284.5 432.5 284.7 438.5 284.8 434.4 285.0 438.2 285.1 434.0 285.3 434.5 285.4 431.7 285.6 436.8 285.7 434.0 285.9 436.0 286.0 435.5 286.2 435.8 286.3 435.3 286.5 434.4 286.6 434.5 286.8 432.8 286.9 429.3 287.1 435.7 287.2 439.6 287.4 437.2 287.5 440.2 287.7 435.7 287.8 432.2 288.0 432.2 288.1 436.4 288.3 435.4 288.4 434.2 288.6 436.4 288.7 432.5 288.9 435.9 289.0 433.9 289.2 435.0 289.3 437.5 289.5 434.3 289.6 438.0 289.8 437.9 289.9 432.8 290.1 440.3 290.3 431.6 290.4 434.4 290.6 436.4 290.7 429.1 290.9 437.2 291.0 437.4 291.2 434.4 291.3 435.3 291.5 435.2 291.6 434.1 291.8 437.3 291.9 433.7 292.1 434.5 292.2 435.5 292.4 436.7 292.5 437.3 292.7 431.0 292.8 429.7 293.0 434.3 293.1 434.5 293.3 432.0 293.4 435.4 293.6 436.2 293.7 435.6 293.9 438.7 294.0 432.1 294.2 434.7 294.3 439.3 294.5 436.3 294.6 431.9 294.8 435.1 294.9 437.5 295.1 439.7 295.2 436.2 295.4 437.5 295.5 431.9 295.7 434.0 295.8 437.5 296.0 432.3 296.1 434.5 296.3 430.1 296.4 438.2 296.6 434.3 296.8 436.0 296.9 430.9 297.1 431.4 297.2 439.0 297.4 433.7 297.5 433.3 297.7 435.8 297.8 435.9 298.0 429.8 298.1 432.2 298.3 434.7 298.4 434.6 298.6 435.4 298.7 433.5 298.9 433.9 299.0 435.1 299.2 432.9 299.3 432.5 299.5 433.2 299.6 434.6 299.8 434.2 299.9 433.4 300.1 433.9 300.2 434.4 300.4 435.3 300.5 435.4 300.7 431.4 300.8 436.9 301.0 430.6 301.1 435.9 301.3 432.8 301.4 435.9 301.6 437.1 301.7 430.0 301.9 436.0 302.0 435.2 302.2 433.4 302.3 435.4 302.5 433.3 302.6 434.8 302.8 431.9 302.9 436.4 303.1 435.9 303.3 436.3 303.4 432.9 303.6 438.9 303.7 439.2 303.9 434.2 304.0 433.4 304.2 433.4 304.3 436.1 304.5 436.9 304.6 432.6 304.8 429.5 304.9 435.4 305.1 434.2 305.2 434.7 305.4 435.5 305.5 431.6 305.7 434.4 305.8 433.5 306.0 435.0 306.1 437.0 306.3 434.0 306.4 431.9 306.6 436.9 306.7 435.5 306.9 433.2 307.0 429.2 307.2 431.3 307.3 433.6 307.5 434.5 307.6 431.7 307.8 433.8 307.9 431.0 308.1 431.3 308.2 433.3 308.4 431.1 308.5 431.8 308.7 433.2 308.8 433.5 309.0 429.0 309.1 429.4 309.3 426.4 309.4 426.0 309.6 429.4 309.8 427.0 309.9 423.3 310.1 428.5 310.2 424.8 310.4 425.5 310.5 426.8 310.7 426.2 310.8 424.7 311.0 419.7 311.1 425.3 311.3 422.2 311.4 420.0 311.6 417.8 311.7 426.0 311.9 423.1 312.0 422.9 312.2 424.1 312.3 422.5 312.5 419.3 312.6 424.6 312.8 425.6 312.9 424.8 313.1 427.6 313.2 428.8 313.4 422.8 313.5 424.1 313.7 427.7 313.8 426.5 314.0 427.1 314.1 429.3 314.3 429.3 314.4 427.0 314.6 428.8 314.7 427.2 314.9 428.9 315.0 427.1 315.2 425.5 315.3 429.3 315.5 429.4 315.6 433.2 315.8 435.1 315.9 431.7 316.1 433.0 316.3 430.6 316.4 430.1 316.6 431.8 316.7 431.9 316.9 433.4 317.0 433.1 317.2 436.8 317.3 432.5 317.5 429.2 317.6 433.4 317.8 431.6 317.9 433.7 318.1 435.9 318.2 431.8 318.4 433.1 318.5 434.5 318.7 431.0 318.8 433.7 319.0 434.5 319.1 435.1 319.3 435.7 319.4 434.4 319.6 434.0 319.7 429.8 319.9 426.7 320.0 430.7 320.2 436.2 320.3 433.1 320.5 427.5 320.6 431.6 320.8 433.4 320.9 428.1 321.1 433.7 321.2 429.5 321.4 434.5 321.5 432.0 321.7 439.0 321.8 428.5 322.0 432.0 322.1 427.7 322.3 433.5 322.4 430.8 322.6 432.3 322.8 429.9 322.9 426.4 323.1 427.1 323.2 425.0 323.4 424.6 323.5 426.5 323.7 427.5 323.8 425.7 324.0 423.5 324.1 419.2 324.3 419.7 324.4 414.3 324.6 414.2 324.7 412.6 324.9 406.8 325.0 402.2 325.2 397.7 325.3 394.5 325.5 385.2 325.6 372.7 325.8 359.7 325.9 332.5 326.1 292.4 326.2 204.2 326.4 43.7 326.5 28.2 326.7 28.2 326.8 28.2 327.0 28.2 327.1 28.2 327.3 28.2 327.4 28.2 327.6 28.2 327.7 28.2 327.9 28.2 328.0 28.2 328.2 28.2 328.3 28.2 328.5 28.2 328.6 28.2 328.8 28.2 328.9 28.2 329.1 28.2 329.3 28.2 329.4 28.2 329.6 28.2 329.7 28.2 329.9 28.2 330.0 28.2 330.2 28.2 330.3 28.2 330.5 28.2 330.6 28.2 330.8 28.2 330.9 28.2 331.1 28.2 331.2 28.2 331.4 28.2 331.5 28.2 331.7 28.2 331.8 28.2 332.0 28.2 332.1 28.2 332.3 28.2 332.4 28.2 332.6 28.2 332.7 28.2 332.9 28.2 333.0 28.2 333.2 28.2 333.3 28.2 333.5 28.2 333.6 49.2 333.8 207.2 333.9 286.4 334.1 334.8 334.2 361.2 334.4 376.2 334.5 384.5 334.7 395.2 334.8 398.1 335.0 403.4 335.1 402.8 335.3 411.1 335.4 410.0 335.6 418.6 335.8 420.4 335.9 420.2 336.1 423.4 336.2 424.8 336.4 425.5 336.5 427.8 336.7 427.7 336.8 427.7 337.0 427.7 337.1 433.9 337.3 431.1 337.4 431.1 337.6 433.1 337.7 431.0 337.9 431.3 338.0 433.9 338.2 435.0 338.3 434.4 338.5 429.7 338.6 433.4 338.8 433.4 338.9 434.6 339.1 431.7 339.2 431.5 339.4 433.7 339.5 432.1 339.7 431.8 339.8 434.1 340.0 436.4 340.1 434.8 340.3 437.0 340.4 432.4 340.6 436.3 340.7 434.7 340.9 432.9 341.0 434.0 341.2 433.1 341.3 434.6 341.5 433.4 341.6 438.0 341.8 434.4 341.9 432.1 342.1 434.9 342.3 436.3 342.4 434.7 342.6 437.4 342.7 433.5 342.9 433.7 343.0 439.3 343.2 435.7 343.3 436.9 343.5 436.9 343.6 437.1 343.8 436.0 343.9 435.5 344.1 438.4 344.2 434.9 344.4 436.3 344.5 437.6 344.7 435.2 344.8 432.7 345.0 437.2 345.1 438.6 345.3 436.8 345.4 432.5 345.6 437.7 345.7 440.7 345.9 432.9 346.0 430.4 346.2 435.9 346.3 436.6 346.5 438.2 346.6 438.3 346.8 436.7 346.9 437.7 347.1 437.3 347.2 436.9 347.4 436.5 347.5 436.3 347.7 438.2 347.8 437.6 348.0 435.8 348.1 439.2 348.3 435.2 348.4 436.3 348.6 437.1 348.8 432.7 348.9 436.0 349.1 438.8 349.2 438.7 349.4 434.3 349.5 435.1 349.7 434.6 349.8 436.5 350.0 436.9 350.1 433.5 350.3 437.7 350.4 437.2 350.6 436.9 350.7 435.6 350.9 436.7 351.0 433.3 351.2 437.7 351.3 437.6 351.5 437.0 351.6 434.6 351.8 440.0 351.9 439.7 352.1 433.2 352.2 438.2 352.4 437.6 352.5 431.7 352.7 438.4 352.8 438.7 353.0 438.9 353.1 437.7 353.3 436.0 353.4 436.3 353.6 438.5 353.7 440.0 353.9 436.4 354.0 436.9 354.2 439.0 354.3 432.8 354.5 438.5 354.6 437.0 354.8 432.8 354.9 439.2 355.1 435.6 355.3 439.3 355.4 440.6 355.6 434.9 355.7 435.0 355.9 437.6 356.0 433.9 356.2 439.2 356.3 438.1 356.5 439.8 356.6 433.8 356.8 438.2 356.9 438.7 357.1 433.9 357.2 439.7 357.4 434.8 357.5 438.2 357.7 435.0 357.8 439.5 358.0 441.5 358.1 438.0 358.3 437.9 358.4 440.7 358.6 436.9 358.7 438.0 358.9 439.7 359.0 438.8 359.2 441.3 359.3 440.5 359.5 442.1 359.6 438.0 359.8 440.4 359.9 436.3 360.1 440.0 360.2 441.9 360.4 443.2 360.5 435.4 360.7 437.8 360.8 439.7 361.0 436.3 361.1 439.3 361.3 439.3 361.4 437.1 361.6 437.0 361.8 436.2 361.9 438.9 362.1 440.9 362.2 438.8 362.4 444.2 362.5 435.0 362.7 437.0 362.8 439.7 363.0 435.8 363.1 439.0 363.3 440.0 363.4 438.6 363.6 437.8 363.7 440.3 363.9 439.2 364.0 439.8 364.2 439.4 364.3 436.8 364.5 435.9 364.6 437.4 364.8 438.7 364.9 437.9 365.1 440.3 365.2 438.8 365.4 440.4 365.5 438.5 365.7 436.7 365.8 440.1 366.0 439.3 366.1 436.5 366.3 437.4 366.4 444.3 366.6 431.0 366.7 440.7 366.9 438.4 367.0 438.1 367.2 437.6 367.3 437.2 367.5 443.4 367.6 437.3 367.8 437.6 367.9 440.0 368.1 439.1 368.3 437.9 368.4 437.6 368.6 435.3 368.7 440.6 368.9 435.9 369.0 433.0 369.2 440.5 369.3 439.9 369.5 439.0 369.6 437.1 369.8 440.8 369.9 435.9 370.1 433.5 370.2 438.6 370.4 440.0 370.5 439.6 370.7 442.7 370.8 440.0 371.0 437.7 371.1 437.8 371.3 440.2 371.4 438.1 371.6 437.9 371.7 434.4 371.9 437.5 372.0 435.4 372.2 438.7 372.3 438.5 372.5 439.8 372.6 442.1 372.8 437.8 372.9 441.4 373.1 435.8 373.2 438.6 373.4 440.3 373.5 442.5 373.7 435.8 373.8 437.7 374.0 438.5 374.1 438.0 374.3 436.1 374.4 434.7 374.6 435.5 374.8 438.1 374.9 435.3 375.1 442.1 375.2 440.9 375.4 434.1 375.5 437.2 375.7 441.1 375.8 441.4 376.0 440.7 376.1 435.1 376.3 437.4 376.4 441.0 376.6 438.5 376.7 437.2 376.9 439.4 377.0 440.4 377.2 438.6 377.3 438.8 377.5 440.6 377.6 437.0 377.8 436.2 377.9 439.9 378.1 435.6 378.2 439.3 378.4 436.7 378.5 440.1 378.7 435.6 378.8 440.7 379.0 438.9 379.1 437.6 379.3 436.4 379.4 437.9 379.6 436.2 379.7 435.6 379.9 440.6 380.0 439.6 380.2 441.0 380.3 435.3 380.5 434.0 380.6 434.8 380.8 439.7 381.0 440.0 381.1 434.2 381.3 440.5 381.4 437.3 381.6 435.6 381.7 438.1 381.9 439.5 382.0 437.8 382.2 437.9 382.3 436.4 382.5 435.1 382.6 437.4 382.8 434.7 382.9 439.6 383.1 436.4 383.2 441.1 383.4 434.8 383.5 441.3 383.7 436.3 383.8 436.3 384.0 438.9 384.1 440.2 384.3 438.2 384.4 437.5 384.6 442.6 384.7 439.4 384.9 435.6 385.0 437.7 385.2 442.0 385.3 439.0 385.5 440.1 385.6 442.7 385.8 437.0 385.9 439.1 386.1 436.8 386.2 438.3 386.4 439.5 386.5 435.3 386.7 438.6 386.8 438.6 387.0 440.6 387.1 437.0 387.3 435.5 387.5 439.1 387.6 435.8 387.8 438.7 387.9 439.5 388.1 436.3 388.2 438.0 388.4 436.0 388.5 432.0 388.7 435.1 388.8 433.7 389.0 438.3 389.1 435.9 389.3 437.9 389.4 438.1 389.6 440.6 389.7 437.5 389.9 437.4 390.0 439.4 390.2 441.8 390.3 438.1 390.5 439.0 390.6 437.8 390.8 436.7 390.9 434.9 391.1 438.1 391.2 437.7 391.4 437.7 391.5 442.6 391.7 437.5 391.8 439.0 392.0 437.5 392.1 440.9 392.3 437.6 392.4 442.4 392.6 437.7 392.7 440.0 392.9 440.5 393.0 437.8 393.2 440.2 393.3 438.4 393.5 436.6 393.6 436.8 393.8 439.0 394.0 442.2 394.1 437.2 394.3 439.5 394.4 436.5 394.6 438.8 394.7 435.4 394.9 436.5 395.0 438.3 395.2 436.6 395.3 437.7 395.5 440.5 395.6 438.0 395.8 436.7 395.9 435.5 396.1 437.1 396.2 440.8 396.4 438.1 396.5 437.9 396.7 439.8 396.8 440.1 397.0 440.4 397.1 437.4 397.3 436.2 397.4 434.5 397.6 436.7 397.7 437.4 397.9 439.8 398.0 438.9 398.2 436.9 398.3 440.1 398.5 435.4 398.6 435.8 398.8 435.5 398.9 435.7 399.1 437.5 399.2 436.2 399.4 436.3 399.5 440.9 399.7 434.7 399.8 435.6 400.0 437.4 400.1 438.8 400.3 438.9 400.5 437.2 400.6 436.9 400.8 437.1 400.9 439.3 401.1 435.6 401.2 432.4 401.4 438.0 401.5 434.9 401.7 437.3 401.8 440.5 402.0 437.6 402.1 441.4 402.3 433.8 402.4 437.8 402.6 438.1 402.7 439.0 402.9 435.5 403.0 437.4 403.2 437.3 403.3 437.2 403.5 434.0 403.6 433.2 403.8 438.1 403.9 437.7 404.1 437.0 404.2 438.3 404.4 439.3 404.5 434.3 404.7 438.6 404.8 440.2 405.0 439.1 405.1 438.2 405.3 438.5 405.4 433.8 405.6 435.9 405.7 439.3 405.9 440.3 406.0 438.1 406.2 436.1 406.3 436.9 406.5 439.1 406.6 441.7 406.8 439.1 407.0 436.2 407.1 438.8 407.3 438.4 407.4 442.8 407.6 438.9 407.7 437.7 407.9 437.5 408.0 435.0 408.2 435.4 408.3 436.7 408.5 436.0 408.6 438.3 408.8 438.1 408.9 440.0 409.1 441.3 409.2 438.4 409.4 437.6 409.5 434.0 409.7 438.9 409.8 439.6 410.0 436.5 410.1 437.3 410.3 436.7 410.4 440.6 410.6 439.6 410.7 440.9 410.9 435.6 411.0 444.1 411.2 436.4 411.3 436.1 411.5 438.8 411.6 437.1 411.8 442.3 411.9 437.5 412.1 436.9 412.2 440.5 412.4 441.1 412.5 436.6 412.7 437.4 412.8 437.6 413.0 438.1 413.1 442.2 413.3 441.2 413.5 440.8 413.6 441.2 413.8 438.5 413.9 440.3 414.1 438.3 414.2 436.8 414.4 442.1 414.5 434.6 414.7 438.4 414.8 437.2 415.0 434.8 415.1 437.6 415.3 438.6 415.4 439.4 415.6 436.6 415.7 440.1 415.9 439.1 416.0 440.2 416.2 434.2 416.3 437.4 416.5 437.1 416.6 439.7 416.8 436.8 416.9 437.3 417.1 435.9 417.2 435.8 417.4 436.4 417.5 440.5 417.7 436.1 417.8 433.1 418.0 439.0 418.1 437.4 418.3 439.6 418.4 439.6 418.6 437.7 418.7 437.5 418.9 437.2 419.0 438.4 419.2 436.7 419.3 438.8 419.5 441.4 419.6 436.9 419.8 437.0 420.0 437.0 420.1 439.7 420.3 439.8 420.4 441.5 420.6 440.0 420.7 438.7 420.9 439.4 421.0 435.6 421.2 439.7 421.3 438.8 421.5 443.0 421.6 441.4 421.8 436.6 421.9 437.2 422.1 440.4 422.2 433.9 422.4 436.4 422.5 439.2 422.7 439.9 422.8 438.8 423.0 441.0 423.1 437.9 423.3 438.7 423.4 438.0 423.6 436.1 423.7 438.6 423.9 437.2 424.0 438.6 424.2 432.7 424.3 438.7 424.5 437.3 424.6 437.1 424.8 438.6 424.9 437.4 425.1 440.5 425.2 441.2 425.4 440.4 425.5 440.6 425.7 439.3 425.8 438.5 426.0 435.7 426.1 437.7 426.3 441.1 426.5 440.1 426.6 437.4 426.8 438.7 426.9 440.8 427.1 438.1 427.2 442.0 427.4 436.8 427.5 440.2 427.7 440.0 427.8 438.9 428.0 439.1 428.1 439.7 428.3 433.5 428.4 439.5 428.6 441.0 428.7 439.4 428.9 441.0 429.0 435.9 429.2 438.3 429.3 439.2 429.5 437.9 429.6 441.1 429.8 439.6 429.9 437.4 430.1 440.3 430.2 440.3 430.4 437.5 430.5 439.9 430.7 439.3 430.8 439.3 431.0 435.8 431.1 441.3 431.3 439.9 431.4 438.4 431.6 439.3 431.7 439.2 431.9 437.8 432.0 437.2 432.2 438.7 432.3 437.2 432.5 437.4 432.6 436.0 432.8 437.9 433.0 440.7 433.1 439.0 433.3 438.6 433.4 437.8 433.6 437.6 433.7 435.2 433.9 442.1 434.0 436.9 434.2 435.2 434.3 439.4 434.5 439.1 434.6 437.4 434.8 435.3 434.9 435.5 435.1 441.9 435.2 438.2 435.4 437.1 435.5 442.6 435.7 437.3 435.8 436.5 436.0 439.7 436.1 439.3 436.3 441.9 436.4 435.1 436.6 439.1 436.7 434.8 436.9 439.5 437.0 437.1 437.2 437.5 437.3 436.9 437.5 440.3 437.6 442.1 437.8 438.3 437.9 437.9 438.1 437.4 438.2 439.7 438.4 436.3 438.5 446.3 438.7 438.0 438.8 442.3 439.0 438.8 439.1 435.5 439.3 435.1 439.5 437.6 439.6 436.9 439.8 438.0 439.9 436.0 440.1 443.6 440.2 443.2 440.4 434.5 440.5 439.5 440.7 441.1 440.8 437.8 441.0 438.0 441.1 440.9 441.3 439.7 441.4 435.8 441.6 441.2 441.7 437.4 441.9 442.5 442.0 436.4 442.2 433.5 442.3 438.7 442.5 441.1 442.6 439.6 442.8 438.8 442.9 436.4 443.1 440.5 443.2 434.4 443.4 440.2 443.5 435.8 443.7 437.1 443.8 435.5 444.0 436.4 444.1 441.7 444.3 435.8 444.4 438.8 444.6 436.6 444.7 440.7 444.9 435.4 445.0 438.4 445.2 440.4 445.3 443.4 445.5 435.8 445.6 436.5 445.8 438.3 446.0 441.6 446.1 436.1 446.3 440.2 446.4 437.0 446.6 436.1 446.7 434.8 446.9 438.6 447.0 440.5 447.2 438.1 447.3 433.6 447.5 437.1 447.6 440.5 447.8 440.2 447.9 438.9 448.1 441.6 448.2 435.5 448.4 435.6 448.5 443.6 448.7 439.8 448.8 437.8 449.0 437.2 449.1 432.5 449.3 440.1 449.4 433.6 449.6 433.8 449.7 438.1 449.9 441.5 450.0 437.3 450.2 439.0 450.3 437.2 450.5 439.0 450.6 434.4 450.8 442.7 450.9 435.9 451.1 439.2 451.2 433.4 451.4 441.9 451.5 438.9 451.7 442.3 451.8 436.4 452.0 440.1 452.1 437.4 452.3 437.7 452.5 440.6 452.6 435.7 452.8 439.3 452.9 441.9 453.1 441.5 453.2 439.9 453.4 438.2 453.5 435.3 453.7 440.6 453.8 435.9 454.0 440.0 454.1 436.6 454.3 437.3 454.4 437.2 454.6 438.5 454.7 436.2 454.9 437.5 455.0 435.9 455.2 438.2 455.3 437.7 455.5 438.0 455.6 435.1 455.8 437.7 455.9 437.1 456.1 438.3 456.2 437.1 456.4 434.8 456.5 438.6 456.7 435.5 456.8 437.7 457.0 432.5 457.1 438.2 457.3 438.6 457.4 435.1 457.6 438.5 457.7 436.4 457.9 440.3 458.0 438.8 458.2 434.6 458.3 436.9 458.5 433.5 458.6 436.8 458.8 438.7 459.0 439.4 459.1 437.4 459.3 437.1 459.4 438.1 459.6 436.4 459.7 438.5 459.9 440.3 460.0 438.3 460.2 439.8 460.3 436.2 460.5 436.9 460.6 438.8 460.8 442.6 460.9 440.4 461.1 441.9 461.2 438.3 461.4 441.0 461.5 434.5 461.7 439.4 461.8 433.7 462.0 441.0 462.1 439.4 462.3 441.0 462.4 439.3 462.6 437.3 462.7 436.8 462.9 438.9 463.0 441.8 463.2 439.9 463.3 437.3 463.5 437.2 463.6 436.9 463.8 438.0 463.9 438.3 464.1 437.5 464.2 438.6 464.4 435.1 464.5 442.0 464.7 439.1 464.8 441.9 465.0 439.2 465.1 438.1 465.3 438.8 465.5 439.1 465.6 437.1 465.8 437.8 465.9 442.8 466.1 440.7 466.2 437.5 466.4 439.8 466.5 436.8 466.7 441.7 466.8 436.4 467.0 440.6 467.1 438.7 467.3 438.7 467.4 436.9 467.6 438.1 467.7 437.0 467.9 436.8 468.0 439.7 468.2 444.2 468.3 437.9 468.5 440.9 468.6 438.6 468.8 437.1 468.9 441.6 469.1 440.1 469.2 441.2 469.4 438.9 469.5 439.0 469.7 436.9 469.8 438.1 470.0 442.4 470.1 433.7 470.3 439.5 470.4 441.9 470.6 440.4 470.7 440.6 470.9 438.1 471.0 441.2 471.2 441.2 471.3 438.6 471.5 442.4 471.7 437.6 471.8 433.3 472.0 438.7 472.1 438.5 472.3 436.8 472.4 437.7 472.6 437.5 472.7 434.7 472.9 441.4 473.0 438.7 473.2 444.6 473.3 438.7 473.5 439.6 473.6 435.4 473.8 440.9 473.9 436.3 474.1 439.9 474.2 440.7 474.4 440.4 474.5 436.9 474.7 437.0 474.8 440.4 475.0 441.3 475.1 441.9 475.3 438.7 475.4 438.5 475.6 442.7 475.7 437.4 475.9 440.4 476.0 438.0 476.2 435.6 476.3 436.3 476.5 439.7 476.6 439.2 476.8 439.8 476.9 437.9 477.1 437.6 477.2 439.3 477.4 438.3 477.5 435.2 477.7 437.8 477.8 442.4 478.0 437.0 478.2 439.9 478.3 438.5 478.5 440.3 478.6 436.8 478.8 435.9 478.9 439.7 479.1 437.2 479.2 438.6 479.4 438.0 479.5 440.8 479.7 439.3 479.8 439.0 480.0 436.6 480.1 435.3 480.3 436.9 480.4 440.5 480.6 440.2 480.7 440.0 480.9 437.8 481.0 436.5 481.2 441.2 481.3 439.1 481.5 439.9 481.6 436.6 481.8 437.2 481.9 440.1 482.1 440.3 482.2 436.5 482.4 439.3 482.5 436.1 482.7 441.4 482.8 440.1 483.0 443.6 483.1 442.0 483.3 437.3 483.4 439.1 483.6 437.7 483.7 439.0 483.9 440.4 484.0 438.7 484.2 438.8 484.3 435.8 484.5 440.0 484.7 438.7 484.8 440.1 485.0 441.0 485.1 438.8 485.3 440.2 485.4 437.4 485.6 440.8 485.7 438.7 485.9 437.4 486.0 438.2 486.2 435.6 486.3 437.3 486.5 437.8 486.6 438.8 486.8 438.5 486.9 437.3 487.1 438.3 487.2 434.1 487.4 438.9 487.5 439.9 487.7 440.4 487.8 441.0 488.0 438.2 488.1 438.5 488.3 437.7 488.4 437.6 488.6 439.0 488.7 441.6 488.9 435.0 489.0 437.6 489.2 439.3 489.3 436.5 489.5 439.6 489.6 435.7 489.8 437.9 489.9 435.1 490.1 439.3 490.2 437.0 490.4 440.1 490.5 438.0 490.7 436.6 490.8 437.8 491.0 438.9 491.2 438.6 491.3 438.1 491.5 437.9 491.6 438.7 491.8 440.5 491.9 437.4 492.1 439.6 492.2 435.8 492.4 440.6 492.5 439.4 492.7 437.9 492.8 437.9 493.0 435.0 493.1 438.9 493.3 438.1 493.4 435.6 493.6 437.7 493.7 439.9 493.9 439.0 494.0 439.2 494.2 437.5 494.3 440.5 494.5 438.6 494.6 440.5 494.8 443.4 494.9 434.4 495.1 437.6 495.2 438.7 495.4 437.1 495.5 440.9 495.7 437.9 495.8 442.3 496.0 440.3 496.1 439.6 496.3 438.7 496.4 440.5 496.6 439.8 496.7 441.9 496.9 439.6 497.0 440.9 497.2 439.6 497.3 439.5 497.5 435.4 497.7 438.8 497.8 439.6 498.0 436.2 498.1 435.8 498.3 438.1 498.4 439.4 498.6 435.1 498.7 439.4 498.9 440.8 499.0 438.2 499.2 439.3 499.3 439.8 499.5 437.3 499.6 440.1 499.8 439.7 499.9 436.1 500.1 439.9 500.2 440.6 500.4 436.4 500.5 440.6 500.7 438.2 500.8 435.9 501.0 436.5 501.1 436.9 501.3 439.9 501.4 437.7 501.6 437.9 501.7 436.0 501.9 438.8 502.0 436.1 502.2 437.3 502.3 440.1 502.5 440.2 502.6 437.6 502.8 438.7 502.9 439.9 503.1 438.7 503.2 441.4 503.4 441.7 503.5 438.6 503.7 436.1 503.8 438.4 504.0 441.7 504.2 441.2 504.3 441.3 504.5 441.2 504.6 437.7 504.8 439.4 504.9 441.1 505.1 439.4 505.2 440.7 505.4 436.6 505.5 436.2 505.7 443.1 505.8 440.4 506.0 440.1 506.1 442.0 506.3 443.6 506.4 445.0 506.6 433.6 506.7 439.6 506.9 441.0 507.0 434.7 507.2 434.9 507.3 438.4 507.5 442.9 507.6 440.9 507.8 443.5 507.9 439.4 508.1 441.1 508.2 442.1 508.4 439.8 508.5 438.8 508.7 439.1 508.8 430.8 509.0 439.5 509.1 434.8 509.3 437.0 509.4 440.3 509.6 439.7 509.7 434.5 509.9 439.9 510.0 440.4 510.2 439.2 510.3 440.3 510.5 440.0"/>
<path stroke="#ffa500" d="M57.0 343.6L57.2 326.6 57.3 337.6 57.5 334.0 57.6 334.4 57.8 335.3 57.9 328.7 58.1 335.3 58.2 333.0 58.4 348.4 58.5 337.0 58.7 334.9 58.8 335.2 59.0 333.8 59.1 332.3 59.3 334.8 59.4 338.0 59.6 335.4 59.7 339.8 59.9 335.6 60.0 336.4 60.2 342.0 60.3 338.3 60.5 334.5 60.6 335.7 60.8 338.4 60.9 343.5 61.1 335.5 61.2 335.6 61.4 340.1 61.5 333.3 61.7 335.4 61.8 339.7 62.0 338.6 62.1 336.9 62.3 339.0 62.4 326.3 62.6 340.3 62.7 333.1 62.9 330.6 63.0 337.7 63.2 339.2 63.3 335.1 63.5 332.8 63.7 336.8 63.8 336.6 64.0 341.8 64.1 339.5 64.3 337.5 64.4 340.8 64.6 336.1 64.7 333.5 64.9 339.0 65.0 339.0 65.2 336.1 65.3 334.1 65.5 337.8 65.6 328.0 65.8 339.4 65.9 338.7 66.1 331.1 66.2 337.2 66.4 333.6 66.5 339.8 66.7 329.8 66.8 333.8 67.0 339.6 67.1 341.3 67.3 329.4 67.4 335.4 67.6 338.3 67.7 335.0 67.9 342.9 68.0 333.0 68.2 338.5 68.3 333.6 68.5 342.3 68.6 337.3 68.8 336.0 68.9 331.3 69.1 343.4 69.2 340.1 69.4 340.1 69.5 341.5 69.7 338.7 69.8 335.3 70.0 334.8 70.2 334.8 70.3 342.4 70.5 332.5 70.6 335.6 70.8 336.6 70.9 338.6 71.1 339.8 71.2 333.5 71.4 331.8 71.5 337.9 71.7 342.2 71.8 340.6 72.0 338.8 72.1 336.9 72.3 339.1 72.4 337.3 72.6 341.0 72.7 335.5 72.9 338.7 73.0 337.9 73.2 340.2 73.3 339.1 73.5 347.2 73.6 343.6 73.8 343.6 73.9 331.6 74.1 337.4 74.2 336.6 74.4 340.5 74.5 331.0 74.7 342.7 74.8 342.4 75.0 334.4 75.1 335.6 75.3 336.2 75.4 339.1 75.6 341.2 75.7 345.9 75.9 338.4 76.0 341.7 76.2 339.7 76.3 345.1 76.5 341.7 76.7 343.9 76.8 335.7 77.0 338.7 77.1 336.7 77.3 344.4 77.4 341.7 77.6 338.5 77.7 338.1 77.9 341.2 78.0 337.4 78.2 336.7 78.3 341.4 78.5 347.9 78.6 339.1 78.8 338.2 78.9 336.2 79.1 335.8 79.2 341.9 79.4 343.0 79.5 340.3 79.7 341.4 79.8 340.8 80.0 340.9 80.1 335.7 80.3 339.1 80.4 341.0 80.6 338.3 80.7 339.3 80.9 338.3 81.0 339.9 81.2 343.7 81.3 339.8 81.5 340.7 81.6 343.8 81.8 343.4 81.9 346.7 82.1 335.1 82.2 344.3 82.4 340.2 82.5 342.2 82.7 344.4 82.8 345.3 83.0 345.2 83.2 342.6 83.3 347.1 83.5 341.5 83.6 342.0 83.8 344.9 83.9 341.0 84.1 349.1 84.2 345.8 84.4 349.3 84.5 342.9 84.7 342.0 84.8 343.7 85.0 345.4 85.1 341.6 85.3 344.6 85.4 343.5 85.6 348.3 85.7 341.8 85.9 346.8 86.0 342.1 86.2 341.3 86.3 342.1 86.5 340.8 86.6 344.7 86.8 347.3 86.9 344.9 87.1 346.3 87.2 349.2 87.4 345.5 87.5 345.4 87.7 344.2 87.8 340.6 88.0 347.2 88.1 340.4 88.3 347.0 88.4 345.3 88.6 348.5 88.7 345.3 88.9 343.4 89.0 346.7 89.2 344.3 89.3 345.4 89.5 346.0 89.7 345.7 89.8 345.6 90.0 344.0 90.1 345.8 90.3 340.7 90.4 346.0 90.6 343.4 90.7 349.5 90.9 349.9 91.0 341.7 91.2 347.2 91.3 346.5 91.5 344.2 91.6 348.4 91.8 345.9 91.9 342.6 92.1 346.5 92.2 346.9 92.4 347.6 92.5 344.3 92.7 349.0 92.8 349.4 93.0 344.8 93.1 346.0 93.3 347.5 93.4 346.4 93.6 352.2 93.7 348.5 93.9 345.5 94.0 346.1 94.2 348.0 94.3 353.8 94.5 347.8 94.6 348.6 94.8 349.6 94.9 348.4 95.1 354.0 95.2 347.3 95.4 350.4 95.5 349.1 95.7 350.3 95.8 346.0 96.0 353.1 96.2 348.7 96.3 349.1 96.5 346.9 96.6 347.4 96.8 350.5 96.9 351.6 97.1 351.1 97.2 352.2 97.4 351.1 97.5 349.6 97.7 351.5 97.8 351.0 98.0 349.4 98.1 351.4 98.3 352.7 98.4 350.4 98.6 349.1 98.7 351.6 98.9 354.3 99.0 349.5 99.2 349.9 99.3 349.8 99.5 352.9 99.6 346.1 99.8 351.1 99.9 353.0 100.1 348.5 100.2 353.7 100.4 351.6 100.5 349.2 100.7 350.9 100.8 347.1 101.0 349.3 101.1 354.6 101.3 348.6 101.4 354.7 101.6 350.5 101.7 352.9 101.9 350.8 102.0 345.8 102.2 349.5 102.3 351.2 102.5 348.3 102.7 347.9 102.8 351.6 103.0 349.4 103.1 347.1 103.3 349.4 103.4 352.7 103.6 349.8 103.7 352.9 103.9 354.1 104.0 350.9 104.2 348.4 104.3 348.0 104.5 350.8 104.6 352.7 104.8 351.4 104.9 351.9 105.1 349.8 105.2 351.4 105.4 349.7 105.5 350.0 105.7 347.9 105.8 347.3 106.0 349.5 106.1 348.1 106.3 348.4 106.4 351.7 106.6 349.9 106.7 356.1 106.9 351.8 107.0 348.3 107.2 351.0 107.3 349.8 107.5 347.3 107.6 350.6 107.8 346.1 107.9 340.8 108.1 348.0 108.2 344.2 108.4 347.5 108.5 341.9 108.7 339.4 108.9 343.4 109.0 336.2 109.2 336.8 109.3 337.0 109.5 331.8 109.6 328.6 109.8 325.9 109.9 324.1 110.1 317.4 110.2 316.6 110.4 312.8 110.5 312.4 110.7 303.2 110.8 298.3 111.0 297.9 111.1 292.1 111.3 290.3 111.4 287.3 111.6 287.1 111.7 281.8 111.9 281.9 112.0 276.7 112.2 280.4 112.3 286.3 112.5 283.7 112.6 286.0 112.8 287.8 112.9 294.6 113.1 297.4 113.2 298.5 113.4 306.0 113.5 309.1 113.7 314.0 113.8 315.2 114.0 323.5 114.1 324.5 114.3 326.8 114.4 329.1 114.6 332.6 114.7 337.3 114.9 337.5 115.0 342.3 115.2 343.2 115.4 346.4 115.5 346.8 115.7 346.5 115.8 344.1 116.0 349.2 116.1 351.0 116.3 350.5 116.4 351.9 116.6 350.5 116.7 351.1 116.9 350.4 117.0 355.1 117.2 353.1 117.3 352.2 117.5 350.8 117.6 353.2 117.8 356.4 117.9 354.7 118.1 352.7 118.2 356.8 118.4 357.0 118.5 356.3 118.7 356.0 118.8 356.8 119.0 355.8 119.1 356.3 119.3 353.6 119.4 357.9 119.6 355.6 119.7 359.0 119.9 351.7 120.0 356.8 120.2 357.4 120.3 355.1 120.5 356.6 120.6 357.2 120.8 357.0 120.9 355.0 121.1 355.8 121.2 358.0 121.4 358.5 121.5 356.5 121.7 356.5 121.9 356.8 122.0 358.4 122.2 354.8 122.3 354.3 122.5 357.0 122.6 354.9 122.8 355.9 122.9 357.1 123.1 357.8 123.2 355.2 123.4 358.5 123.5 354.1 123.7 358.2 123.8 354.6 124.0 355.1 124.1 358.5 124.3 356.7 124.4 356.1 124.6 356.8 124.7 358.4 124.9 357.5 125.0 357.6 125.2 359.5 125.3 356.6 125.5 357.0 125.6 357.0 125.8 359.9 125.9 359.6 126.1 360.2 126.2 358.0 126.4 357.8 126.5 359.5 126.7 357.5 126.8 359.6 127.0 359.4 127.1 357.0 127.3 358.1 127.4 358.1 127.6 361.2 127.7 362.7 127.9 358.2 128.0 358.4 128.2 354.6 128.4 358.8 128.5 358.5 128.7 356.7 128.8 359.8 129.0 355.9 129.1 358.2 129.3 358.8 129.4 356.5 129.6 360.1 129.7 360.4 129.9 356.4 130.0 356.4 130.2 359.7 130.3 358.7 130.5 356.8 130.6 358.3 130.8 358.7 130.9 358.6 131.1 360.2 131.2 359.5 131.4 361.8 131.5 361.2 131.7 360.1 131.8 360.8 132.0 361.2 132.1 360.2 132.3 357.1 132.4 360.5 132.6 359.2 132.7 361.8 132.9 359.3 133.0 360.0 133.2 359.7 133.3 362.0 133.5 359.5 133.6 358.8 133.8 359.8 133.9 358.6 134.1 359.6 134.2 359.3 134.4 359.8 134.5 362.5 134.7 358.8 134.9 359.5 135.0 359.1 135.2 360.6 135.3 357.6 135.5 358.4 135.6 359.5 135.8 360.5 135.9 359.5 136.1 358.8 136.2 358.3 136.4 360.5 136.5 362.0 136.7 360.2 136.8 360.0 137.0 360.5 137.1 358.3 137.3 359.3 137.4 359.4 137.6 360.3 137.7 359.8 137.9 357.9 138.0 361.7 138.2 362.6 138.3 359.5 138.5 360.6 138.6 360.4 138.8 361.3 138.9 357.7 139.1 362.6 139.2 359.3 139.4 362.1 139.5 360.2 139.7 359.5 139.8 359.9 140.0 361.6 140.1 358.8 140.3 359.6 140.4 359.4 140.6 357.5 140.7 362.3 140.9 361.2 141.0 360.2 141.2 362.1 141.4 358.8 141.5 360.2 141.7 363.1 141.8 361.9 142.0 356.9 142.1 355.1 142.3 358.8 142.4 362.1 142.6 359.7 142.7 360.1 142.9 361.4 143.0 359.1 143.2 360.8 143.3 361.7 143.5 361.2 143.6 361.2 143.8 359.6 143.9 361.4 144.1 359.9 144.2 362.6 144.4 364.6 144.5 359.5 144.7 357.2 144.8 360.0 145.0 361.2 145.1 362.3 145.3 362.4 145.4 359.5 145.6 359.5 145.7 362.7 145.9 359.0 146.0 362.5 146.2 360.4 146.3 362.0 146.5 361.9 146.6 362.0 146.8 362.1 146.9 359.3 147.1 361.3 147.2 360.9 147.4 361.4 147.5 362.8 147.7 360.5 147.9 359.8 148.0 359.8 148.2 360.5 148.3 362.1 148.5 359.7 148.6 362.8 148.8 361.5 148.9 360.7 149.1 359.0 149.2 361.4 149.4 362.1 149.5 358.4 149.7 362.9 149.8 363.6 150.0 361.6 150.1 361.9 150.3 364.9 150.4 363.1 150.6 359.8 150.7 361.2 150.9 361.0 151.0 361.0 151.2 357.6 151.3 362.4 151.5 360.3 151.6 361.5 151.8 361.1 151.9 362.6 152.1 360.9 152.2 360.1 152.4 362.2 152.5 363.5 152.7 360.9 152.8 363.5 153.0 361.8 153.1 360.6 153.3 363.8 153.4 360.2 153.6 363.0 153.7 360.7 153.9 362.2 154.0 359.6 154.2 360.2 154.4 363.1 154.5 361.8 154.7 361.6 154.8 360.9 155.0 362.3 155.1 359.5 155.3 359.9 155.4 361.4 155.6 360.4 155.7 360.6 155.9 361.6 156.0 361.5 156.2 361.4 156.3 364.2 156.5 363.2 156.6 363.6 156.8 361.7 156.9 361.0 157.1 359.6 157.2 361.3 157.4 358.7 157.5 360.9 157.7 363.0 157.8 364.3 158.0 363.3 158.1 360.6 158.3 362.6 158.4 360.7 158.6 363.1 158.7 361.8 158.9 363.2 159.0 365.8 159.2 363.4 159.3 365.5 159.5 362.3 159.6 361.5 159.8 364.0 159.9 364.6 160.1 361.2 160.2 362.2 160.4 359.9 160.5 361.8 160.7 363.4 160.9 362.0 161.0 361.3 161.2 360.1 161.3 362.7 161.5 363.4 161.6 363.1 161.8 362.6 161.9 360.3 162.1 364.8 162.2 362.2 162.4 362.0 162.5 363.4 162.7 359.1 162.8 362.2 163.0 362.1 163.1 362.9 163.3 364.3 163.4 363.1 163.6 359.7 163.7 361.9 163.9 362.7 164.0 362.6 164.2 360.5 164.3 360.0 164.5 363.3 164.6 363.0 164.8 362.5 164.9 360.0 165.1 365.1 165.2 358.3 165.4 362.0 165.5 365.6 165.7 362.3 165.8 362.9 166.0 360.9 166.1 364.6 166.3 360.7 166.4 363.0 166.6 362.8 166.7 361.1 166.9 364.0 167.0 360.6 167.2 361.7 167.4 362.7 167.5 362.1 167.7 363.4 167.8 364.1 168.0 362.3 168.1 362.0 168.3 362.0 168.4 362.3 168.6 364.0 168.7 362.5 168.9 363.4 169.0 362.7 169.2 361.6 169.3 364.1 169.5 361.4 169.6 362.9 169.8 365.1 169.9 361.3 170.1 362.8 170.2 360.6 170.4 362.2 170.5 360.8 170.7 362.4 170.8 362.2 171.0 363.2 171.1 365.3 171.3 363.4 171.4 363.9 171.6 362.9 171.7 362.6 171.9 361.8 172.0 360.4 172.2 363.1 172.3 365.4 172.5 363.7 172.6 362.3 172.8 365.4 172.9 362.4 173.1 362.2 173.2 361.3 173.4 361.7 173.5 362.7 173.7 366.0 173.9 362.8 174.0 361.6 174.2 362.2 174.3 362.8 174.5 360.6 174.6 363.3 174.8 364.1 174.9 363.6 175.1 364.0 175.2 361.3 175.4 360.7 175.5 365.0 175.7 364.7 175.8 360.9 176.0 363.4 176.1 363.2 176.3 363.9 176.4 363.4 176.6 362.4 176.7 363.4 176.9 363.4 177.0 363.1 177.2 360.5 177.3 358.9 177.5 362.0 177.6 360.8 177.8 363.6 177.9 364.2 178.1 363.6 178.2 362.7 178.4 363.3 178.5 364.9 178.7 362.2 178.8 364.5 179.0 364.2 179.1 363.6 179.3 365.3 179.4 362.2 179.6 364.6 179.7 361.9 179.9 362.2 180.0 361.7 180.2 363.9 180.4 361.9 180.5 363.3 180.7 361.6 180.8 364.8 181.0 365.9 181.1 363.6 181.3 365.6 181.4 364.1 181.6 366.4 181.7 363.5 181.9 361.1 182.0 365.5 182.2 363.1 182.3 361.8 182.5 362.4 182.6 361.0 182.8 363.1 182.9 361.8 183.1 365.5 183.2 364.3 183.4 361.0 183.5 361.2 183.7 362.6 183.8 360.6 184.0 363.2 184.1 363.3 184.3 362.3 184.4 362.6 184.6 364.1 184.7 365.4 184.9 365.5 185.0 363.5 185.2 364.6 185.3 362.4 185.5 364.0 185.6 362.1 185.8 364.5 185.9 361.7 186.1 362.1 186.2 363.4 186.4 364.2 186.5 361.4 186.7 362.7 186.9 363.7 187.0 363.8 187.2 362.3 187.3 363.6 187.5 363.1 187.6 365.5 187.8 364.3 187.9 361.6 188.1 360.4 188.2 363.6 188.4 365.2 188.5 363.8 188.7 364.8 188.8 362.8 189.0 361.6 189.1 364.6 189.3 363.7 189.4 364.5 189.6 361.6 189.7 363.8 189.9 362.7 190.0 364.7 190.2 362.7 190.3 362.7 190.5 362.7 190.6 365.4 190.8 363.6 190.9 362.5 191.1 362.1 191.2 362.1 191.4 365.7 191.5 361.0 191.7 362.4 191.8 364.5 192.0 365.3 192.1 363.4 192.3 364.7 192.4 364.7 192.6 365.0 192.7 363.7 192.9 366.0 193.0 364.0 193.2 365.8 193.4 362.1 193.5 365.0 193.7 361.9 193.8 361.6 194.0 364.4 194.1 362.5 194.3 364.4 194.4 362.2 194.6 366.0 194.7 363.8 194.9 362.1 195.0 364.0 195.2 365.0 195.3 362.7 195.5 364.5 195.6 366.7 195.8 365.0 195.9 363.8 196.1 363.0 196.2 364.6 196.4 361.7 196.5 359.5 196.7 362.9 196.8 362.3 197.0 366.3 197.1 364.0 197.3 362.5 197.4 362.2 197.6 364.6 197.7 362.7 197.9 363.0 198.0 363.7 198.2 364.0 198.3 364.0 198.5 364.1 198.6 365.7 198.8 366.3 198.9 361.6 199.1 367.6 199.2 364.1 199.4 365.7 199.6 362.9 199.7 364.4 199.9 364.2 200.0 364.1 200.2 365.2 200.3 364.9 200.5 362.5 200.6 363.8 200.8 365.0 200.9 364.9 201.1 363.5 201.2 363.6 201.4 363.8 201.5 362.4 201.7 362.2 201.8 366.2 202.0 363.5 202.1 364.1 202.3 363.0 202.4 365.8 202.6 366.5 202.7 363.7 202.9 364.8 203.0 363.0 203.2 366.5 203.3 365.4 203.5 362.9 203.6 365.8 203.8 364.6 203.9 364.6 204.1 364.6 204.2 363.1 204.4 363.3 204.5 365.0 204.7 364.0 204.8 362.8 205.0 366.9 205.1 363.8 205.3 363.3 205.4 363.1 205.6 365.1 205.7 365.5 205.9 364.5 206.1 365.3 206.2 362.0 206.4 363.6 206.5 363.5 206.7 364.1 206.8 364.8 207.0 361.3 207.1 368.5 207.3 362.9 207.4 364.6 207.6 365.3 207.7 365.3 207.9 364.5 208.0 360.1 208.2 362.6 208.3 365.2 208.5 362.9 208.6 362.7 208.8 360.9 208.9 365.9 209.1 364.9 209.2 362.9 209.4 364.0 209.5 364.0 209.7 362.6 209.8 363.8 210.0 364.5 210.1 365.0 210.3 366.0 210.4 364.2 210.6 363.5 210.7 364.8 210.9 363.3 211.0 362.4 211.2 365.8 211.3 363.7 211.5 364.4 211.6 365.1 211.8 362.7 211.9 365.1 212.1 364.8 212.2 364.1 212.4 364.8 212.6 363.2 212.7 361.2 212.9 363.8 213.0 363.0 213.2 365.5 213.3 364.6 213.5 363.5 213.6 364.3 213.8 366.1 213.9 365.8 214.1 364.8 214.2 364.9 214.4 363.9 214.5 364.1 214.7 365.1 214.8 364.1 215.0 364.7 215.1 362.7 215.3 362.0 215.4 361.9 215.6 363.7 215.7 366.2 215.9 366.0 216.0 362.9 216.2 362.2 216.3 365.4 216.5 365.0 216.6 362.4 216.8 365.8 216.9 364.6 217.1 366.2 217.2 364.8 217.4 365.6 217.5 364.8 217.7 363.0 217.8 364.0 218.0 363.4 218.1 365.5 218.3 363.0 218.4 362.2 218.6 365.3 218.7 366.0 218.9 366.4 219.1 365.9 219.2 362.3 219.4 363.4 219.5 363.6 219.7 364.4 219.8 361.4 220.0 364.4 220.1 364.8 220.3 363.1 220.4 364.6 220.6 366.1 220.7 364.5 220.9 365.9 221.0 365.8 221.2 365.0 221.3 364.9 221.5 363.9 221.6 366.1 221.8 363.8 221.9 363.4 222.1 365.4 222.2 363.4 222.4 365.0 222.5 365.9 222.7 364.5 222.8 364.6 223.0 365.7 223.1 365.5 223.3 362.3 223.4 362.6 223.6 366.3 223.7 365.0 223.9 361.5 224.0 362.5 224.2 364.5 224.3 363.1 224.5 365.1 224.6 364.5 224.8 365.1 224.9 362.8 225.1 365.3 225.2 367.1 225.4 363.3 225.6 366.2 225.7 365.8 225.9 365.3 226.0 364.3 226.2 362.8 226.3 363.2 226.5 365.5 226.6 365.8 226.8 366.1 226.9 365.8 227.1 365.7 227.2 363.8 227.4 362.7 227.5 364.7 227.7 365.1 227.8 364.5 228.0 362.3 228.1 363.7 228.3 362.4 228.4 364.6 228.6 363.0 228.7 364.2 228.9 364.9 229.0 364.6 229.2 366.3 229.3 362.9 229.5 361.4 229.6 365.7 229.8 366.3 229.9 366.4 230.1 364.8 230.2 365.1 230.4 364.6 230.5 362.6 230.7 363.6 230.8 365.1 231.0 363.6 231.1 367.0 231.3 362.3 231.4 363.8 231.6 365.9 231.7 363.5 231.9 362.8 232.1 362.5 232.2 363.4 232.4 366.5 232.5 364.9 232.7 365.1 232.8 363.6 233.0 365.5 233.1 364.5 233.3 363.1 233.4 363.7 233.6 364.6 233.7 366.0 233.9 364.3 234.0 365.0 234.2 367.1 234.3 363.2 234.5 362.6 234.6 365.7 234.8 364.9 234.9 364.2 235.1 364.7 235.2 363.8 235.4 365.0 235.5 363.8 235.7 365.4 235.8 362.6 236.0 363.1 236.1 364.4 236.3 363.6 236.4 365.2 236.6 364.2 236.7 363.5 236.9 364.5 237.0 363.5 237.2 362.0 237.3 362.6 237.5 363.1 237.6 363.5 237.8 364.3 237.9 365.4 238.1 364.9 238.2 366.6 238.4 365.9 238.6 363.8 238.7 366.4 238.9 365.7 239.0 363.4 239.2 364.5 239.3 365.5 239.5 364.3 239.6 365.4 239.8 364.5 239.9 364.9 240.1 363.5 240.2 364.4 240.4 363.3 240.5 364.8 240.7 361.5 240.8 364.2 241.0 365.5 241.1 364.5 241.3 363.6 241.4 364.4 241.6 362.4 241.7 362.4 241.9 363.0 242.0 363.2 242.2 364.7 242.3 362.0 242.5 364.6 242.6 360.9 242.8 361.9 242.9 362.8 243.1 364.3 243.2 361.7 243.4 359.4 243.5 362.7 243.7 361.8 243.8 360.1 244.0 359.8 244.1 359.8 244.3 360.4 244.4 360.6 244.6 357.0 244.7 361.5 244.9 357.4 245.1 355.9 245.2 356.3 245.4 354.2 245.5 355.9 245.7 352.7 245.8 349.0 246.0 347.2 246.1 345.2 246.3 343.3 246.4 342.6 246.6 338.6 246.7 339.4 246.9 334.8 247.0 332.4 247.2 331.7 247.3 325.5 247.5 324.9 247.6 325.2 247.8 322.8 247.9 321.4 248.1 321.0 248.2 319.1 248.4 319.4 248.5 318.0 248.7 317.9 248.8 323.2 249.0 321.5 249.1 323.4 249.3 328.1 249.4 329.7 249.6 329.6 249.7 331.9 249.9 334.8 250.0 335.9 250.2 340.2 250.3 341.9 250.5 344.0 250.6 346.9 250.8 348.8 250.9 352.1 251.1 353.3 251.2 350.4 251.4 355.4 251.6 353.8 251.7 354.5 251.9 358.4 252.0 357.4 252.2 358.7 252.3 361.2 252.5 359.4 252.6 359.6 252.8 361.7 252.9 363.3 253.1 362.6 253.2 360.0 253.4 361.5 253.5 362.4 253.7 365.4 253.8 364.1 254.0 364.2 254.1 364.8 254.3 362.8 254.4 364.0 254.6 364.1 254.7 362.1 254.9 363.5 255.0 364.3 255.2 362.1 255.3 364.8 255.5 364.8 255.6 365.2 255.8 362.7 255.9 364.0 256.1 365.9 256.2 365.0 256.4 362.8 256.5 364.3 256.7 365.9 256.8 363.9 257.0 364.5 257.1 367.6 257.3 364.0 257.4 363.9 257.6 362.7 257.7 363.2 257.9 366.2 258.1 364.0 258.2 362.5 258.4 362.9 258.5 364.2 258.7 365.3 258.8 363.2 259.0 365.2 259.1 363.6 259.3 364.8 259.4 365.0 259.6 365.1 259.7 363.7 259.9 364.1 260.0 365.0 260.2 362.5 260.3 364.6 260.5 365.0 260.6 365.8 260.8 364.3 260.9 364.1 261.1 364.6 261.2 363.4 261.4 364.1 261.5 364.9 261.7 364.8 261.8 363.0 262.0 364.0 262.1 361.5 262.3 365.5 262.4 363.7 262.6 364.7 262.7 362.9 262.9 364.3 263.0 365.0 263.2 365.8 263.3 362.6 263.5 365.6 263.6 364.2 263.8 363.4 263.9 365.1 264.1 364.1 264.2 364.1 264.4 363.5 264.6 364.8 264.7 364.5 264.9 364.2 265.0 363.2 265.2 363.8 265.3 365.0 265.5 366.2 265.6 364.5 265.8 366.4 265.9 364.5 266.1 363.0 266.2 365.4 266.4 363.2 266.5 365.1 266.7 366.0 266.8 364.1 267.0 364.4 267.1 367.9 267.3 364.9 267.4 364.9 267.6 365.6 267.7 364.4 267.9 364.4 268.0 365.1 268.2 361.3 268.3 366.5 268.5 363.1 268.6 363.1 268.8 365.3 268.9 364.6 269.1 362.8 269.2 364.9 269.4 363.0 269.5 363.6 269.7 362.5 269.8 363.4 270.0 365.1 270.1 364.7 270.3 365.0 270.4 365.8 270.6 364.5 270.7 363.7 270.9 364.2 271.1 366.8 271.2 364.6 271.4 365.0 271.5 364.5 271.7 364.9 271.8 365.2 272.0 364.6 272.1 364.4 272.3 363.5 272.4 363.4 272.6 365.2 272.7 365.6 272.9 365.9 273.0 364.7 273.2 363.5 273.3 365.5 273.5 365.5 273.6 362.5 273.8 365.7 273.9 365.4 274.1 366.9 274.2 363.1 274.4 362.9 274.5 365.7 274.7 362.2 274.8 363.6 275.0 363.1 275.1 363.2 275.3 362.0 275.4 364.3 275.6 366.0 275.7 365.2 275.9 365.2 276.0 364.1 276.2 366.6 276.3 365.4 276.5 366.1 276.6 362.5 276.8 365.1 276.9 363.1 277.1 365.1 277.2 364.9 277.4 363.1 277.6 364.9 277.7 366.2 277.9 365.3 278.0 365.5 278.2 363.5 278.3 363.7 278.5 363.1 278.6 364.8 278.8 366.3 278.9 365.3 279.1 364.7 279.2 363.1 279.4 365.3 279.5 364.3 279.7 362.1 279.8 362.3 280.0 364.2 280.1 363.4 280.3 366.9 280.4 364.7 280.6 363.3 280.7 364.0 280.9 366.9 281.0 363.4 281.2 365.7 281.3 365.3 281.5 366.7 281.6 365.4 281.8 364.1 281.9 365.4 282.1 364.8 282.2 366.0 282.4 364.6 282.5 367.4 282.7 364.5 282.8 365.3 283.0 363.8 283.1 364.9 283.3 364.7 283.4 364.9 283.6 365.9 283.7 364.0 283.9 363.5 284.1 366.2 284.2 364.3 284.4 363.8 284.5 366.3 284.7 365.8 284.8 361.1 285.0 364.2 285.1 365.8 285.3 365.8 285.4 364.0 285.6 366.8 285.7 363.6 285.9 364.4 286.0 364.9 286.2 364.7 286.3 365.8 286.5 366.1 286.6 364.6 286.8 366.6 286.9 363.8 287.1 364.4 287.2 367.1 287.4 364.8 287.5 366.2 287.7 364.1 287.8 364.3 288.0 364.6 288.1 364.9 288.3 364.2 288.4 364.7 288.6 365.6 288.7 366.4 288.9 364.9 289.0 365.6 289.2 366.0 289.3 363.2 289.5 362.6 289.6 366.9 289.8 366.5 289.9 364.8 290.1 365.2 290.3 363.4 290.4 362.8 290.6 365.1 290.7 362.7 290.9 365.9 291.0 363.8 291.2 365.1 291.3 367.3 291.5 367.3 291.6 364.3 291.8 366.1 291.9 363.3 292.1 363.9 292.2 365.2 292.4 366.6 292.5 363.9 292.7 365.4 292.8 364.8 293.0 362.9 293.1 364.5 293.3 366.7 293.4 364.5 293.6 365.3 293.7 365.8 293.9 363.6 294.0 366.3 294.2 366.7 294.3 366.8 294.5 366.4 294.6 364.0 294.8 363.8 294.9 363.6 295.1 363.4 295.2 363.5 295.4 366.0 295.5 366.6 295.7 363.7 295.8 365.7 296.0 362.9 296.1 364.2 296.3 363.2 296.4 362.4 296.6 364.7 296.8 364.7 296.9 364.0 297.1 363.9 297.2 363.2 297.4 364.4 297.5 363.7 297.7 364.9 297.8 362.9 298.0 364.9 298.1 365.2 298.3 366.2 298.4 366.0 298.6 364.8 298.7 363.6 298.9 362.0 299.0 364.5 299.2 366.4 299.3 366.8 299.5 361.0 299.6 363.4 299.8 364.0 299.9 363.0 300.1 364.7 300.2 364.5 300.4 363.7 300.5 364.4 300.7 362.3 300.8 363.1 301.0 363.2 301.1 365.6 301.3 362.2 301.4 364.1 301.6 365.4 301.7 364.3 301.9 365.5 302.0 363.5 302.2 364.9 302.3 365.6 302.5 367.4 302.6 365.3 302.8 366.3 302.9 364.3 303.1 364.4 303.3 366.4 303.4 365.1 303.6 366.2 303.7 365.2 303.9 367.1 304.0 367.4 304.2 363.0 304.3 366.7 304.5 364.7 304.6 364.8 304.8 363.9 304.9 365.1 305.1 362.5 305.2 363.0 305.4 362.9 305.5 364.4 305.7 365.2 305.8 364.9 306.0 364.3 306.1 363.0 306.3 361.3 306.4 364.2 306.6 363.8 306.7 364.0 306.9 365.3 307.0 363.0 307.2 362.8 307.3 359.8 307.5 363.5 307.6 362.5 307.8 361.3 307.9 362.5 308.1 360.3 308.2 360.6 308.4 363.6 308.5 361.4 308.7 361.1 308.8 360.3 309.0 359.4 309.1 358.1 309.3 360.1 309.4 356.1 309.6 356.2 309.8 353.9 309.9 352.7 310.1 348.7 310.2 348.3 310.4 351.9 310.5 350.6 310.7 346.8 310.8 346.2 311.0 346.0 311.1 342.7 311.3 345.5 311.4 340.9 311.6 340.6 311.7 337.2 311.9 342.7 312.0 340.5 312.2 342.6 312.3 339.2 312.5 341.4 312.6 341.6 312.8 342.4 312.9 345.8 313.1 347.0 313.2 346.8 313.4 345.5 313.5 348.4 313.7 350.1 313.8 350.2 314.0 351.4 314.1 352.4 314.3 351.6 314.4 354.2 314.6 357.0 314.7 354.3 314.9 356.7 315.0 358.5 315.2 356.2 315.3 358.5 315.5 356.9 315.6 358.9 315.8 358.3 315.9 359.4 316.1 360.3 316.3 360.9 316.4 361.2 316.6 358.4 316.7 364.1 316.9 361.7 317.0 360.7 317.2 361.4 317.3 362.8 317.5 361.0 317.6 361.9 317.8 361.9 317.9 363.2 318.1 361.5 318.2 363.1 318.4 363.0 318.5 362.3 318.7 364.2 318.8 362.5 319.0 360.8 319.1 362.8 319.3 362.5 319.4 362.3 319.6 362.6 319.7 365.4 319.9 362.5 320.0 362.7 320.2 361.7 320.3 363.8 320.5 361.8 320.6 360.7 320.8 360.1 320.9 362.3 321.1 362.5 321.2 359.2 321.4 360.3 321.5 362.0 321.7 362.3 321.8 358.9 322.0 360.0 322.1 361.4 322.3 359.3 322.4 359.0 322.6 358.5 322.8 357.0 322.9 358.4 323.1 358.1 323.2 355.1 323.4 356.3 323.5 356.7 323.7 354.4 323.8 354.1 324.0 350.6 324.1 351.5 324.3 346.6 324.4 347.9 324.6 342.2 324.7 338.8 324.9 335.1 325.0 331.8 325.2 327.1 325.3 321.2 325.5 314.5 325.6 305.9 325.8 290.9 325.9 263.5 326.1 219.6 326.2 131.9 326.4 28.2 326.5 28.2 326.7 28.2 326.8 28.2 327.0 28.2 327.1 28.2 327.3 28.2 327.4 28.2 327.6 28.2 327.7 28.2 327.9 28.2 328.0 28.2 328.2 28.2 328.3 28.2 328.5 28.2 328.6 28.2 328.8 28.2 328.9 28.2 329.1 28.2 329.3 28.2 329.4 28.2 329.6 28.2 329.7 28.2 329.9 28.2 330.0 28.2 330.2 28.2 330.3 28.2 330.5 28.2 330.6 28.2 330.8 28.2 330.9 28.2 331.1 28.2 331.2 28.2 331.4 28.2 331.5 28.2 331.7 28.2 331.8 28.2 332.0 28.2 332.1 28.2 332.3 28.2 332.4 28.2 332.6 28.2 332.7 28.2 332.9 28.2 333.0 28.2 333.2 28.2 333.3 28.2 333.5 28.2 333.6 28.2 333.8 133.8 333.9 217.6 334.1 263.2 334.2 289.4 334.4 302.6 334.5 315.2 334.7 322.0 334.8 330.9 335.0 333.9 335.1 336.2 335.3 340.1 335.4 345.4 335.6 347.9 335.8 348.3 335.9 349.8 336.1 349.8 336.2 352.8 336.4 354.3 336.5 354.7 336.7 359.0 336.8 354.9 337.0 358.0 337.1 359.3 337.3 359.9 337.4 362.0 337.6 358.3 337.7 359.5 337.9 360.9 338.0 361.3 338.2 360.8 338.3 360.5 338.5 363.2 338.6 360.5 338.8 361.3 338.9 364.1 339.1 364.6 339.2 363.6 339.4 361.4 339.5 361.5 339.7 361.5 339.8 361.3 340.0 362.4 340.1 364.7 340.3 363.4 340.4 362.2 340.6 362.2 340.7 361.7 340.9 365.0 341.0 360.7 341.2 363.9 341.3 361.6 341.5 362.2 341.6 361.7 341.8 365.0 341.9 363.7 342.1 367.5 342.3 362.5 342.4 362.5 342.6 364.8 342.7 364.8 342.9 363.7 343.0 361.4 343.2 366.1 343.3 364.9 343.5 364.8 343.6 363.5 343.8 365.1 343.9 363.6 344.1 364.4 344.2 364.1 344.4 366.1 344.5 363.8 344.7 364.0 344.8 366.0 345.0 364.8 345.1 364.5 345.3 364.3 345.4 365.9 345.6 363.8 345.7 365.3 345.9 367.4 346.0 365.2 346.2 363.7 346.3 363.1 346.5 365.0 346.6 363.1 346.8 362.7 346.9 363.8 347.1 363.4 347.2 366.0 347.4 362.9 347.5 367.0 347.7 363.9 347.8 365.1 348.0 365.9 348.1 365.3 348.3 366.0 348.4 363.7 348.6 362.0 348.8 364.8 348.9 362.8 349.1 364.3 349.2 366.3 349.4 364.8 349.5 364.3 349.7 363.6 349.8 364.7 350.0 364.9 350.1 363.0 350.3 365.6 350.4 363.7 350.6 365.5 350.7 364.6 350.9 366.5 351.0 366.4 351.2 365.3 351.3 365.1 351.5 365.9 351.6 367.1 351.8 366.7 351.9 365.5 352.1 365.8 352.2 367.5 352.4 363.2 352.5 366.1 352.7 364.2 352.8 367.2 353.0 364.8 353.1 365.3 353.3 364.0 353.4 365.5 353.6 366.5 353.7 367.7 353.9 363.8 354.0 364.9 354.2 370.8 354.3 366.8 354.5 365.5 354.6 366.3 354.8 362.0 354.9 367.7 355.1 365.8 355.3 363.7 355.4 367.2 355.6 364.8 355.7 364.3 355.9 366.4 356.0 366.2 356.2 365.1 356.3 365.6 356.5 363.9 356.6 363.8 356.8 366.9 356.9 367.5 357.1 366.3 357.2 366.2 357.4 365.2 357.5 365.6 357.7 364.5 357.8 368.1 358.0 365.0 358.1 366.3 358.3 365.8 358.4 363.9 358.6 368.4 358.7 365.3 358.9 364.8 359.0 366.0 359.2 364.6 359.3 365.9 359.5 364.5 359.6 366.6 359.8 365.9 359.9 364.0 360.1 367.2 360.2 366.1 360.4 364.4 360.5 366.3 360.7 366.4 360.8 368.4 361.0 364.7 361.1 367.0 361.3 365.8 361.4 366.7 361.6 365.6 361.8 365.8 361.9 366.6 362.1 364.3 362.2 363.1 362.4 365.9 362.5 365.3 362.7 366.1 362.8 366.8 363.0 365.7 363.1 367.5 363.3 365.9 363.4 366.1 363.6 367.1 363.7 366.8 363.9 365.9 364.0 366.2 364.2 365.0 364.3 365.2 364.5 366.1 364.6 367.1 364.8 365.4 364.9 367.1 365.1 368.6 365.2 368.9 365.4 366.1 365.5 367.4 365.7 366.9 365.8 367.1 366.0 367.2 366.1 366.7 366.3 367.2 366.4 366.3 366.6 365.7 366.7 366.4 366.9 366.7 367.0 367.7 367.2 366.6 367.3 367.1 367.5 368.0 367.6 364.8 367.8 365.7 367.9 366.8 368.1 366.1 368.3 364.7 368.4 367.4 368.6 366.0 368.7 364.8 368.9 368.6 369.0 364.4 369.2 366.1 369.3 365.2 369.5 366.3 369.6 366.9 369.8 365.0 369.9 366.0 370.1 365.9 370.2 364.8 370.4 367.7 370.5 366.4 370.7 365.7 370.8 365.2 371.0 365.7 371.1 366.3 371.3 365.5 371.4 367.8 371.6 362.7 371.7 363.3 371.9 365.8 372.0 363.7 372.2 366.0 372.3 365.3 372.5 366.9 372.6 366.7 372.8 367.9 372.9 367.4 373.1 367.8 373.2 366.9 373.4 367.6 373.5 366.8 373.7 365.4 373.8 364.5 374.0 364.6 374.1 366.8 374.3 363.0 374.4 366.4 374.6 365.2 374.8 367.2 374.9 366.4 375.1 365.2 375.2 366.2 375.4 363.1 375.5 366.5 375.7 366.8 375.8 363.7 376.0 367.3 376.1 366.0 376.3 366.4 376.4 364.3 376.6 367.0 376.7 367.0 376.9 366.2 377.0 364.9 377.2 367.2 377.3 367.9 377.5 366.7 377.6 367.5 377.8 365.4 377.9 366.4 378.1 366.7 378.2 366.4 378.4 370.0 378.5 366.8 378.7 365.5 378.8 367.4 379.0 364.8 379.1 366.8 379.3 367.3 379.4 365.6 379.6 365.8 379.7 365.0 379.9 366.5 380.0 365.4 380.2 368.6 380.3 367.2 380.5 366.0 380.6 364.4 380.8 369.0 381.0 368.0 381.1 366.9 381.3 366.6 381.4 366.5 381.6 365.7 381.7 368.8 381.9 366.6 382.0 364.4 382.2 365.5 382.3 362.9 382.5 367.2 382.6 367.3 382.8 368.7 382.9 369.1 383.1 365.3 383.2 366.9 383.4 367.7 383.5 367.4 383.7 365.7 383.8 367.4 384.0 367.0 384.1 368.1 384.3 366.3 384.4 366.0 384.6 365.7 384.7 365.8 384.9 365.3 385.0 365.9 385.2 367.0 385.3 366.9 385.5 368.1 385.6 367.8 385.8 367.2 385.9 364.8 386.1 367.1 386.2 367.9 386.4 364.6 386.5 364.8 386.7 365.1 386.8 364.9 387.0 365.9 387.1 365.1 387.3 366.8 387.5 364.7 387.6 366.1 387.8 365.6 387.9 365.0 388.1 367.7 388.2 366.3 388.4 367.0 388.5 365.9 388.7 367.2 388.8 367.1 389.0 366.1 389.1 364.0 389.3 367.4 389.4 367.2 389.6 366.6 389.7 366.6 389.9 366.5 390.0 366.6 390.2 365.0 390.3 366.2 390.5 366.7 390.6 365.5 390.8 365.0 390.9 368.8 391.1 367.1 391.2 365.9 391.4 365.7 391.5 362.8 391.7 364.4 391.8 366.0 392.0 368.0 392.1 363.6 392.3 365.4 392.4 368.9 392.6 367.2 392.7 366.9 392.9 367.9 393.0 366.2 393.2 366.1 393.3 367.3 393.5 367.5 393.6 364.9 393.8 368.4 394.0 364.0 394.1 365.4 394.3 370.4 394.4 365.6 394.6 367.2 394.7 365.0 394.9 365.9 395.0 365.4 395.2 365.8 395.3 367.2 395.5 368.6 395.6 367.5 395.8 368.4 395.9 365.6 396.1 368.3 396.2 367.1 396.4 368.1 396.5 365.8 396.7 366.0 396.8 368.1 397.0 367.1 397.1 366.4 397.3 365.4 397.4 366.1 397.6 366.9 397.7 367.2 397.9 365.5 398.0 365.8 398.2 366.8 398.3 364.8 398.5 367.5 398.6 366.2 398.8 366.0 398.9 362.9 399.1 364.0 399.2 364.7 399.4 365.3 399.5 364.6 399.7 366.5 399.8 366.1 400.0 365.5 400.1 363.2 400.3 367.7 400.5 365.4 400.6 366.5 400.8 364.7 400.9 365.5 401.1 366.4 401.2 365.7 401.4 366.5 401.5 364.9 401.7 367.7 401.8 362.4 402.0 364.1 402.1 366.0 402.3 364.2 402.4 363.8 402.6 361.9 402.7 365.7 402.9 361.4 403.0 364.5 403.2 363.9 403.3 364.7 403.5 365.4 403.6 362.4 403.8 362.1 403.9 362.7 404.1 360.7 404.2 364.0 404.4 362.4 404.5 363.1 404.7 361.3 404.8 362.9 405.0 362.1 405.1 362.8 405.3 361.5 405.4 364.4 405.6 362.3 405.7 359.9 405.9 364.3 406.0 363.1 406.2 362.5 406.3 367.1 406.5 363.9 406.6 362.3 406.8 363.4 407.0 364.9 407.1 364.2 407.3 366.3 407.4 366.2 407.6 363.9 407.7 365.1 407.9 366.0 408.0 364.7 408.2 364.7 408.3 366.6 408.5 366.1 408.6 363.7 408.8 364.9 408.9 365.2 409.1 365.6 409.2 364.9 409.4 367.7 409.5 364.7 409.7 364.5 409.8 366.3 410.0 363.1 410.1 364.7 410.3 366.9 410.4 364.4 410.6 365.0 410.7 367.6 410.9 366.8 411.0 366.3 411.2 366.5 411.3 365.3 411.5 366.6 411.6 366.0 411.8 369.6 411.9 367.0 412.1 365.8 412.2 366.2 412.4 366.4 412.5 364.5 412.7 365.2 412.8 368.3 413.0 364.4 413.1 365.5 413.3 367.7 413.5 368.3 413.6 365.0 413.8 368.3 413.9 365.9 414.1 368.5 414.2 367.0 414.4 366.0 414.5 367.3 414.7 367.1 414.8 365.3 415.0 369.2 415.1 365.9 415.3 367.9 415.4 365.7 415.6 364.0 415.7 364.9 415.9 366.2 416.0 367.3 416.2 368.7 416.3 366.5 416.5 366.0 416.6 364.8 416.8 366.3 416.9 366.8 417.1 363.5 417.2 368.1 417.4 367.9 417.5 369.4 417.7 365.2 417.8 366.5 418.0 366.4 418.1 364.6 418.3 365.3 418.4 365.1 418.6 367.1 418.7 367.0 418.9 368.2 419.0 365.9 419.2 364.6 419.3 367.0 419.5 366.9 419.6 367.3 419.8 368.1 420.0 365.6 420.1 367.5 420.3 365.1 420.4 366.6 420.6 367.3 420.7 366.3 420.9 366.7 421.0 364.6 421.2 365.6 421.3 366.6 421.5 364.8 421.6 365.3 421.8 369.7 421.9 366.8 422.1 365.3 422.2 365.1 422.4 368.3 422.5 362.7 422.7 365.9 422.8 367.2 423.0 365.6 423.1 367.0 423.3 364.9 423.4 366.3 423.6 366.4 423.7 366.3 423.9 366.5 424.0 366.4 424.2 367.8 424.3 366.0 424.5 365.5 424.6 365.9 424.8 365.9 424.9 364.3 425.1 363.8 425.2 364.5 425.4 366.7 425.5 365.4 425.7 365.8 425.8 370.1 426.0 367.8 426.1 366.0 426.3 365.5 426.5 368.1 426.6 365.3 426.8 368.0 426.9 367.1 427.1 368.2 427.2 365.4 427.4 367.5 427.5 363.9 427.7 366.1 427.8 367.8 428.0 367.2 428.1 363.9 428.3 367.2 428.4 366.9 428.6 366.2 428.7 365.4 428.9 366.0 429.0 365.6 429.2 367.6 429.3 366.9 429.5 367.7 429.6 367.2 429.8 364.6 429.9 366.5 430.1 369.2 430.2 364.9 430.4 366.7 430.5 365.3 430.7 365.2 430.8 366.6 431.0 367.6 431.1 367.4 431.3 366.9 431.4 367.6 431.6 364.2 431.7 367.4 431.9 366.9 432.0 366.1 432.2 366.3 432.3 365.2 432.5 367.9 432.6 365.3 432.8 364.4 433.0 366.3 433.1 365.6 433.3 366.3 433.4 368.3 433.6 366.2 433.7 366.5 433.9 369.3 434.0 364.5 434.2 366.8 434.3 367.9 434.5 368.4 434.6 369.3 434.8 365.5 434.9 367.2 435.1 366.2 435.2 365.8 435.4 365.4 435.5 364.4 435.7 366.8 435.8 367.4 436.0 365.0 436.1 367.4 436.3 365.6 436.4 365.0 436.6 362.9 436.7 367.8 436.9 367.3 437.0 366.0 437.2 365.9 437.3 364.7 437.5 367.1 437.6 366.3 437.8 367.1 437.9 366.6 438.1 364.5 438.2 364.3 438.4 367.0 438.5 364.1 438.7 366.8 438.8 367.6 439.0 364.7 439.1 367.3 439.3 366.5 439.5 367.1 439.6 365.6 439.8 366.4 439.9 367.0 440.1 368.9 440.2 367.4 440.4 367.1 440.5 364.7 440.7 366.9 440.8 365.6 441.0 366.4 441.1 366.8 441.3 367.8 441.4 367.3 441.6 366.7 441.7 366.4 441.9 368.3 442.0 365.3 442.2 366.5 442.3 368.3 442.5 366.2 442.6 367.6 442.8 367.7 442.9 369.1 443.1 368.0 443.2 364.3 443.4 366.5 443.5 366.9 443.7 367.6 443.8 367.0 444.0 369.0 444.1 367.9 444.3 364.9 444.4 365.6 444.6 363.7 444.7 368.8 444.9 366.3 445.0 366.3 445.2 364.3 445.3 365.8 445.5 367.0 445.6 365.9 445.8 365.9 446.0 365.5 446.1 369.0 446.3 365.6 446.4 364.4 446.6 365.6 446.7 365.9 446.9 366.2 447.0 366.0 447.2 364.8 447.3 366.0 447.5 366.8 447.6 364.4 447.8 368.9 447.9 368.5 448.1 363.8 448.2 365.8 448.4 367.6 448.5 368.0 448.7 368.6 448.8 363.7 449.0 364.7 449.1 365.5 449.3 366.9 449.4 364.7 449.6 366.8 449.7 366.8 449.9 367.1 450.0 364.4 450.2 366.4 450.3 366.2 450.5 365.5 450.6 367.8 450.8 365.6 450.9 367.9 451.1 365.1 451.2 368.2 451.4 368.0 451.5 364.7 451.7 366.2 451.8 366.0 452.0 364.2 452.1 366.5 452.3 366.1 452.5 364.1 452.6 365.2 452.8 366.2 452.9 364.6 453.1 363.7 453.2 366.7 453.4 363.0 453.5 364.6 453.7 365.5 453.8 364.8 454.0 361.1 454.1 362.9 454.3 363.0 454.4 362.7 454.6 363.6 454.7 363.3 454.9 362.6 455.0 362.6 455.2 363.5 455.3 363.6 455.5 359.3 455.6 364.7 455.8 361.0 455.9 362.7 456.1 359.5 456.2 361.0 456.4 360.0 456.5 363.2 456.7 363.1 456.8 362.0 457.0 361.9 457.1 362.8 457.3 361.2 457.4 361.9 457.6 361.8 457.7 364.2 457.9 363.3 458.0 361.8 458.2 364.1 458.3 364.6 458.5 365.9 458.6 363.5 458.8 365.0 459.0 367.4 459.1 364.4 459.3 364.5 459.4 365.8 459.6 364.6 459.7 365.4 459.9 364.8 460.0 364.6 460.2 366.9 460.3 365.3 460.5 364.6 460.6 365.6 460.8 365.9 460.9 366.5 461.1 367.4 461.2 368.6 461.4 364.6 461.5 366.0 461.7 363.9 461.8 366.6 462.0 367.1 462.1 365.5 462.3 365.2 462.4 365.1 462.6 364.4 462.7 367.3 462.9 369.0 463.0 365.0 463.2 368.7 463.3 366.3 463.5 364.6 463.6 367.3 463.8 367.5 463.9 367.0 464.1 366.2 464.2 368.7 464.4 366.1 464.5 367.4 464.7 367.4 464.8 365.3 465.0 364.1 465.1 364.2 465.3 366.0 465.5 367.0 465.6 364.2 465.8 365.6 465.9 368.6 466.1 364.1 466.2 367.2 466.4 367.0 466.5 367.6 466.7 364.6 466.8 367.0 467.0 364.7 467.1 368.3 467.3 365.4 467.4 367.1 467.6 365.5 467.7 366.7 467.9 364.5 468.0 366.9 468.2 367.4 468.3 366.6 468.5 368.7 468.6 367.1 468.8 367.6 468.9 367.3 469.1 369.1 469.2 365.7 469.4 366.2 469.5 366.3 469.7 367.4 469.8 366.9 470.0 367.7 470.1 367.0 470.3 365.9 470.4 366.5 470.6 367.2 470.7 363.6 470.9 368.5 471.0 365.9 471.2 366.2 471.3 367.0 471.5 366.3 471.7 364.7 471.8 366.3 472.0 368.5 472.1 368.1 472.3 368.3 472.4 365.9 472.6 366.4 472.7 368.1 472.9 368.7 473.0 366.7 473.2 365.4 473.3 364.1 473.5 368.6 473.6 364.7 473.8 367.3 473.9 367.9 474.1 371.1 474.2 367.0 474.4 366.6 474.5 367.4 474.7 367.4 474.8 368.6 475.0 367.7 475.1 365.7 475.3 363.9 475.4 367.2 475.6 365.8 475.7 368.7 475.9 365.0 476.0 367.0 476.2 365.8 476.3 365.6 476.5 369.0 476.6 367.0 476.8 366.5 476.9 367.8 477.1 365.7 477.2 366.3 477.4 365.9 477.5 369.5 477.7 367.2 477.8 367.6 478.0 368.3 478.2 366.5 478.3 366.6 478.5 364.6 478.6 367.4 478.8 367.1 478.9 366.2 479.1 368.4 479.2 364.4 479.4 367.4 479.5 364.9 479.7 365.2 479.8 366.5 480.0 368.6 480.1 365.2 480.3 365.4 480.4 365.2 480.6 369.5 480.7 367.5 480.9 367.4 481.0 369.6 481.2 367.1 481.3 363.9 481.5 366.1 481.6 365.2 481.8 369.6 481.9 364.9 482.1 367.2 482.2 366.1 482.4 366.2 482.5 366.8 482.7 366.6 482.8 365.9 483.0 365.1 483.1 365.9 483.3 365.4 483.4 365.6 483.6 367.0 483.7 366.6 483.9 367.5 484.0 366.5 484.2 369.5 484.3 365.8 484.5 365.5 484.7 368.2 484.8 365.9 485.0 367.0 485.1 368.2 485.3 366.7 485.4 366.3 485.6 368.2 485.7 367.3 485.9 366.1 486.0 365.2 486.2 366.3 486.3 364.6 486.5 365.6 486.6 365.3 486.8 367.2 486.9 367.9 487.1 365.9 487.2 366.2 487.4 365.3 487.5 364.9 487.7 366.2 487.8 367.6 488.0 367.5 488.1 367.6 488.3 366.5 488.4 363.1 488.6 368.1 488.7 368.6 488.9 368.1 489.0 368.1 489.2 368.3 489.3 370.5 489.5 367.3 489.6 369.0 489.8 368.0 489.9 367.8 490.1 366.7 490.2 366.4 490.4 365.3 490.5 367.7 490.7 366.4 490.8 365.2 491.0 365.8 491.2 365.2 491.3 369.1 491.5 366.5 491.6 367.0 491.8 365.2 491.9 365.5 492.1 368.3 492.2 366.6 492.4 367.2 492.5 369.4 492.7 369.7 492.8 367.8 493.0 367.6 493.1 367.2 493.3 366.5 493.4 369.7 493.6 365.2 493.7 366.8 493.9 364.3 494.0 365.2 494.2 367.4 494.3 367.5 494.5 367.4 494.6 366.5 494.8 365.9 494.9 366.2 495.1 366.4 495.2 368.4 495.4 368.9 495.5 367.5 495.7 366.2 495.8 365.6 496.0 367.3 496.1 366.6 496.3 364.4 496.4 368.8 496.6 366.9 496.7 366.5 496.9 365.7 497.0 365.7 497.2 368.1 497.3 365.6 497.5 367.0 497.7 367.8 497.8 369.4 498.0 367.7 498.1 366.9 498.3 366.3 498.4 368.1 498.6 368.3 498.7 366.3 498.9 367.7 499.0 366.7 499.2 364.7 499.3 365.5 499.5 368.0 499.6 368.9 499.8 367.9 499.9 366.7 500.1 366.0 500.2 367.7 500.4 367.4 500.5 364.7 500.7 367.8 500.8 366.0 501.0 367.9 501.1 367.7 501.3 367.9 501.4 368.4 501.6 367.9 501.7 365.5 501.9 365.5 502.0 368.4 502.2 367.6 502.3 364.8 502.5 364.2 502.6 368.2 502.8 370.0 502.9 368.1 503.1 366.6 503.2 367.3 503.4 363.2 503.5 365.6 503.7 368.3 503.8 368.1 504.0 364.1 504.2 368.6 504.3 367.7 504.5 368.2 504.6 366.7 504.8 367.0 504.9 365.5 505.1 367.4 505.2 368.2 505.4 365.7 505.5 367.5 505.7 366.2 505.8 368.4 506.0 368.3 506.1 363.7 506.3 367.6 506.4 368.4 506.6 366.2 506.7 366.7 506.9 366.8 507.0 365.4 507.2 366.8 507.3 369.1 507.5 367.6 507.6 369.1 507.8 368.3 507.9 368.6 508.1 367.1 508.2 368.0 508.4 369.7 508.5 369.0 508.7 367.4 508.8 366.0 509.0 365.7 509.1 367.3 509.3 367.6 509.4 364.5 509.6 367.3 509.7 367.5 509.9 367.4 510.0 366.2 510.2 370.1 510.3 368.2 510.5 365.1"/>
<path stroke="#ff0000" d="M57.0 224.8L57.2 225.9 57.3 230.5 57.5 228.0 57.6 222.2 57.8 226.3 57.9 224.8 58.1 226.7 58.2 222.3 58.4 226.9 58.5 226.9 58.7 230.2 58.8 227.1 59.0 227.5 59.1 222.5 59.3 231.8 59.4 221.4 59.6 228.9 59.7 225.3 59.9 224.0 60.0 224.5 60.2 224.4 60.3 227.1 60.5 225.8 60.6 229.8 60.8 221.5 60.9 226.0 61.1 223.8 61.2 227.9 61.4 220.7 61.5 225.1 61.7 226.5 61.8 222.2 62.0 228.4 62.1 226.3 62.3 228.4 62.4 228.3 62.6 223.4 62.7 223.8 62.9 225.3 63.0 227.7 63.2 227.9 63.3 224.0 63.5 224.2 63.7 223.8 63.8 224.3 64.0 225.2 64.1 225.4 64.3 230.9 64.4 224.5 64.6 225.0 64.7 226.9 64.9 223.4 65.0 224.9 65.2 225.8 65.3 227.7 65.5 222.5 65.6 229.3 65.8 225.0 65.9 226.3 66.1 228.0 66.2 227.6 66.4 228.6 66.5 226.4 66.7 226.0 66.8 226.8 67.0 223.6 67.1 229.2 67.3 224.2 67.4 223.1 67.6 231.4 67.7 225.9 67.9 223.4 68.0 231.0 68.2 225.6 68.3 229.1 68.5 224.5 68.6 226.0 68.8 222.4 68.9 222.0 69.1 224.3 69.2 226.7 69.4 228.9 69.5 233.0 69.7 224.5 69.8 229.6 70.0 225.7 70.2 226.9 70.3 223.6 70.5 223.7 70.6 225.5 70.8 224.5 70.9 227.6 71.1 225.9 71.2 230.8 71.4 228.1 71.5 228.2 71.7 230.7 71.8 229.2 72.0 227.9 72.1 227.9 72.3 227.8 72.4 230.9 72.6 230.2 72.7 229.2 72.9 230.4 73.0 227.1 73.2 229.8 73.3 225.2 73.5 231.9 73.6 228.9 73.8 229.2 73.9 230.3 74.1 228.9 74.2 228.4 74.4 231.9 74.5 229.4 74.7 227.0 74.8 230.3 75.0 225.2 75.1 233.4 75.3 229.0 75.4 229.6 75.6 235.0 75.7 234.8 75.9 230.0 76.0 231.3 76.2 232.4 76.3 233.9 76.5 229.6 76.7 230.3 76.8 233.0 77.0 230.8 77.1 232.0 77.3 231.7 77.4 227.6 77.6 228.4 77.7 224.2 77.9 229.9 78.0 233.8 78.2 228.1 78.3 233.7 78.5 233.2 78.6 230.8 78.8 230.9 78.9 231.2 79.1 229.1 79.2 230.5 79.4 231.1 79.5 232.7 79.7 233.2 79.8 229.7 80.0 233.4 80.1 229.8 80.3 231.3 80.4 232.6 80.6 231.8 80.7 231.6 80.9 232.6 81.0 230.8 81.2 230.6 81.3 231.7 81.5 234.5 81.6 232.1 81.8 236.8 81.9 233.0 82.1 225.8 82.2 231.7 82.4 236.6 82.5 232.9 82.7 231.9 82.8 231.0 83.0 236.1 83.2 235.4 83.3 234.8 83.5 234.3 83.6 236.7 83.8 235.3 83.9 230.8 84.1 235.4 84.2 234.1 84.4 233.6 84.5 235.6 84.7 234.1 84.8 227.5 85.0 237.6 85.1 236.5 85.3 234.0 85.4 233.6 85.6 235.0 85.7 231.7 85.9 235.3 86.0 234.2 86.2 234.0 86.3 232.9 86.5 233.5 86.6 237.5 86.8 238.1 86.9 236.3 87.1 235.2 87.2 233.5 87.4 237.0 87.5 239.1 87.7 232.1 87.8 238.3 88.0 231.1 88.1 235.1 88.3 236.8 88.4 233.1 88.6 232.8 88.7 236.6 88.9 238.1 89.0 235.3 89.2 239.3 89.3 234.8 89.5 240.3 89.7 236.9 89.8 237.2 90.0 238.1 90.1 237.5 90.3 240.9 90.4 241.7 90.6 238.2 90.7 236.8 90.9 234.7 91.0 235.7 91.2 237.4 91.3 237.2 91.5 237.4 91.6 237.6 91.8 238.7 91.9 234.9 92.1 235.6 92.2 240.2 92.4 239.7 92.5 236.9 92.7 240.8 92.8 236.7 93.0 237.7 93.1 234.5 93.3 240.1 93.4 238.4 93.6 240.7 93.7 240.0 93.9 238.8 94.0 239.0 94.2 241.2 94.3 238.5 94.5 238.6 94.6 239.1 94.8 240.7 94.9 241.0 95.1 243.1 95.2 239.1 95.4 241.9 95.5 238.0 95.7 240.7 95.8 239.8 96.0 243.1 96.2 240.9 96.3 238.8 96.5 240.9 96.6 240.5 96.8 239.3 96.9 239.4 97.1 238.1 97.2 245.6 97.4 240.4 97.5 242.2 97.7 237.9 97.8 238.2 98.0 240.1 98.1 240.1 98.3 242.1 98.4 238.5 98.6 241.7 98.7 243.6 98.9 238.9 99.0 242.5 99.2 238.9 99.3 241.5 99.5 241.6 99.6 244.3 99.8 239.5 99.9 241.3 100.1 243.0 100.2 238.7 100.4 241.0 100.5 239.4 100.7 239.7 100.8 242.4 101.0 242.5 101.1 246.2 101.3 243.9 101.4 243.7 101.6 240.9 101.7 240.6 101.9 241.5 102.0 236.8 102.2 244.5 102.3 239.9 102.5 239.2 102.7 240.3 102.8 242.9 103.0 243.6 103.1 240.5 103.3 242.0 103.4 241.1 103.6 239.2 103.7 241.5 103.9 241.2 104.0 238.2 104.2 243.3 104.3 238.1 104.5 241.6 104.6 239.1 104.8 239.5 104.9 239.7 105.1 242.4 105.2 238.6 105.4 240.7 105.5 244.0 105.7 239.6 105.8 240.9 106.0 242.2 106.1 239.8 106.3 241.8 106.4 239.5 106.6 242.1 106.7 240.8 106.9 238.8 107.0 243.2 107.2 240.1 107.3 239.6 107.5 238.1 107.6 238.7 107.8 239.0 107.9 238.9 108.1 240.0 108.2 234.6 108.4 235.3 108.5 236.9 108.7 233.3 108.9 231.7 109.0 231.5 109.2 226.2 109.3 223.0 109.5 218.0 109.6 216.8 109.8 210.2 109.9 201.1 110.1 197.1 110.2 187.0 110.4 183.8 110.5 175.4 110.7 166.0 110.8 157.6 111.0 147.3 111.1 144.8 111.3 136.4 111.4 130.1 111.6 127.2 111.7 121.0 111.9 118.9 112.0 118.0 112.2 117.6 112.3 126.9 112.5 125.8 112.6 130.5 112.8 138.8 112.9 138.2 113.1 151.4 113.2 159.3 113.4 165.5 113.5 176.1 113.7 179.3 113.8 190.5 114.0 199.1 114.1 199.9 114.3 207.2 114.4 214.9 114.6 219.8 114.7 222.8 114.9 228.2 115.0 231.0 115.2 230.6 115.4 235.0 115.5 234.7 115.7 234.7 115.8 235.2 116.0 242.4 116.1 241.1 116.3 245.5 116.4 239.8 116.6 242.3 116.7 243.8 116.9 243.3 117.0 244.7 117.2 244.3 117.3 243.1 117.5 240.2 117.6 242.8 117.8 247.7 117.9 246.2 118.1 247.4 118.2 244.0 118.4 244.9 118.5 243.8 118.7 246.1 118.8 245.6 119.0 246.4 119.1 248.8 119.3 244.4 119.4 247.2 119.6 243.6 119.7 248.1 119.9 245.4 120.0 246.2 120.2 246.6 120.3 249.3 120.5 246.5 120.6 245.8 120.8 244.7 120.9 247.3 121.1 245.4 121.2 246.1 121.4 247.0 121.5 248.3 121.7 245.9 121.9 248.4 122.0 250.4 122.2 244.8 122.3 249.8 122.5 251.2 122.6 246.6 122.8 248.7 122.9 245.4 123.1 248.4 123.2 247.3 123.4 248.4 123.5 246.4 123.7 246.6 123.8 247.3 124.0 246.9 124.1 247.1 124.3 247.9 124.4 246.4 124.6 248.1 124.7 249.2 124.9 244.5 125.0 248.8 125.2 247.3 125.3 246.7 125.5 246.3 125.6 247.2 125.8 247.4 125.9 249.3 126.1 246.6 126.2 250.5 126.4 247.5 126.5 250.0 126.7 250.7 126.8 246.9 127.0 250.8 127.1 252.7 127.3 248.4 127.4 250.1 127.6 249.0 127.7 249.4 127.9 249.0 128.0 248.5 128.2 250.6 128.4 250.9 128.5 249.5 128.7 252.0 128.8 251.3 129.0 250.7 129.1 248.4 129.3 252.8 129.4 251.9 129.6 246.2 129.7 247.9 129.9 249.0 130.0 251.3 130.2 251.9 130.3 249.4 130.5 250.3 130.6 251.1 130.8 247.9 130.9 251.0 131.1 249.5 131.2 250.3 131.4 250.0 131.5 248.2 131.7 248.5 131.8 250.2 132.0 250.4 132.1 249.8 132.3 252.0 132.4 249.7 132.6 248.3 132.7 249.7 132.9 250.0 133.0 250.1 133.2 252.3 133.3 251.2 133.5 252.1 133.6 251.5 133.8 250.2 133.9 252.2 134.1 250.1 134.2 250.9 134.4 248.9 134.5 250.7 134.7 250.1 134.9 251.2 135.0 253.6 135.2 254.5 135.3 252.3 135.5 250.7 135.6 252.1 135.8 251.1 135.9 249.8 136.1 250.7 136.2 250.4 136.4 249.9 136.5 253.1 136.7 250.0 136.8 250.1 137.0 252.0 137.1 249.8 137.3 249.1 137.4 249.6 137.6 251.8 137.7 251.6 137.9 251.5 138.0 250.3 138.2 249.6 138.3 252.5 138.5 248.8 138.6 250.8 138.8 249.0 138.9 250.5 139.1 250.9 139.2 253.1 139.4 246.6 139.5 253.4 139.7 249.8 139.8 251.7 140.0 252.5 140.1 250.0 140.3 251.1 140.4 252.1 140.6 251.1 140.7 250.2 140.9 251.7 141.0 251.5 141.2 249.0 141.4 253.6 141.5 251.8 141.7 247.6 141.8 250.1 142.0 254.2 142.1 254.0 142.3 251.9 142.4 248.8 142.6 251.2 142.7 253.2 142.9 252.2 143.0 251.1 143.2 250.4 143.3 252.9 143.5 251.3 143.6 252.2 143.8 252.5 143.9 254.3 144.1 252.0 144.2 252.1 144.4 248.9 144.5 253.5 144.7 253.2 144.8 251.8 145.0 248.2 145.1 250.9 145.3 252.0 145.4 255.2 145.6 252.8 145.7 253.1 145.9 253.2 146.0 254.0 146.2 250.1 146.3 250.6 146.5 250.1 146.6 251.5 146.8 251.4 146.9 252.2 147.1 250.4 147.2 252.2 147.4 250.7 147.5 255.4 147.7 251.2 147.9 256.1 148.0 254.7 148.2 250.2 148.3 253.6 148.5 253.1 148.6 249.7 148.8 253.1 148.9 252.0 149.1 252.7 149.2 250.9 149.4 252.1 149.5 252.9 149.7 252.0 149.8 251.3 150.0 252.0 150.1 250.8 150.3 252.9 150.4 248.3 150.6 254.7 150.7 252.5 150.9 253.1 151.0 253.7 151.2 250.5 151.3 256.0 151.5 250.7 151.6 253.2 151.8 253.0 151.9 254.5 152.1 252.5 152.2 250.3 152.4 253.0 152.5 248.7 152.7 252.2 152.8 251.9 153.0 255.0 153.1 252.2 153.3 251.9 153.4 251.5 153.6 251.3 153.7 251.8 153.9 253.6 154.0 250.6 154.2 252.4 154.4 250.4 154.5 252.5 154.7 253.0 154.8 250.8 155.0 251.9 155.1 252.9 155.3 254.0 155.4 254.3 155.6 252.6 155.7 251.3 155.9 250.3 156.0 254.1 156.2 255.0 156.3 253.5 156.5 255.3 156.6 252.2 156.8 252.3 156.9 255.4 157.1 251.4 157.2 253.9 157.4 253.6 157.5 253.2 157.7 255.7 157.8 251.7 158.0 252.4 158.1 249.9 158.3 251.5 158.4 252.3 158.6 252.5 158.7 252.8 158.9 253.6 159.0 252.1 159.2 250.1 159.3 253.4 159.5 253.9 159.6 251.4 159.8 252.0 159.9 255.9 160.1 254.8 160.2 254.9 160.4 254.3 160.5 253.5 160.7 252.5 160.9 254.2 161.0 253.1 161.2 252.7 161.3 253.4 161.5 253.3 161.6 254.8 161.8 252.0 161.9 257.2 162.1 251.9 162.2 252.8 162.4 254.9 162.5 252.2 162.7 252.8 162.8 253.6 163.0 249.0 163.1 252.8 163.3 252.1 163.4 253.2 163.6 254.4 163.7 254.6 163.9 255.9 164.0 255.9 164.2 255.2 164.3 253.6 164.5 255.3 164.6 252.2 164.8 253.6 164.9 255.9 165.1 255.0 165.2 251.7 165.4 252.9 165.5 255.2 165.7 254.8 165.8 255.5 166.0 251.2 166.1 252.0 166.3 253.5 166.4 252.4 166.6 253.9 166.7 254.0 166.9 254.5 167.0 253.8 167.2 254.9 167.4 255.2 167.5 254.3 167.7 252.2 167.8 256.0 168.0 254.4 168.1 254.7 168.3 254.4 168.4 251.7 168.6 255.0 168.7 253.2 168.9 252.3 169.0 256.1 169.2 253.7 169.3 254.7 169.5 255.6 169.6 256.7 169.8 251.6 169.9 253.2 170.1 255.3 170.2 253.3 170.4 249.4 170.5 254.6 170.7 254.7 170.8 255.6 171.0 254.7 171.1 253.7 171.3 254.7 171.4 254.4 171.6 253.7 171.7 254.8 171.9 255.0 172.0 253.0 172.2 256.0 172.3 255.8 172.5 255.7 172.6 250.5 172.8 254.7 172.9 254.4 173.1 253.1 173.2 255.5 173.4 252.4 173.5 256.5 173.7 255.2 173.9 253.9 174.0 256.8 174.2 255.4 174.3 255.2 174.5 252.8 174.6 255.5 174.8 256.8 174.9 256.3 175.1 252.8 175.2 256.8 175.4 257.1 175.5 256.0 175.7 254.2 175.8 252.5 176.0 253.4 176.1 253.9 176.3 255.2 176.4 255.6 176.6 253.7 176.7 252.4 176.9 254.2 177.0 252.8 177.2 256.8 177.3 253.0 177.5 255.5 177.6 256.0 177.8 253.3 177.9 256.3 178.1 254.6 178.2 253.6 178.4 253.4 178.5 255.0 178.7 256.4 178.8 252.0 179.0 255.7 179.1 254.6 179.3 253.7 179.4 254.6 179.6 254.8 179.7 254.7 179.9 256.0 180.0 253.5 180.2 257.7 180.4 256.1 180.5 254.0 180.7 252.0 180.8 254.8 181.0 254.3 181.1 256.0 181.3 255.9 181.4 257.7 181.6 254.7 181.7 256.1 181.9 254.3 182.0 254.4 182.2 257.2 182.3 254.7 182.5 254.8 182.6 254.4 182.8 255.4 182.9 255.8 183.1 254.8 183.2 253.3 183.4 255.5 183.5 253.8 183.7 254.5 183.8 255.3 184.0 255.4 184.1 251.6 184.3 257.5 184.4 256.2 184.6 257.9 184.7 258.7 184.9 253.6 185.0 254.2 185.2 255.4 185.3 256.4 185.5 254.3 185.6 254.5 185.8 256.6 185.9 253.7 186.1 255.3 186.2 256.6 186.4 254.6 186.5 256.2 186.7 254.8 186.9 252.7 187.0 254.2 187.2 254.7 187.3 254.5 187.5 255.0 187.6 255.6 187.8 255.4 187.9 255.2 188.1 254.4 188.2 254.7 188.4 254.4 188.5 254.1 188.7 257.0 188.8 252.2 189.0 255.3 189.1 252.6 189.3 254.1 189.4 256.1 189.6 254.5 189.7 257.0 189.9 253.6 190.0 254.5 190.2 254.0 190.3 254.9 190.5 254.5 190.6 254.4 190.8 255.0 190.9 256.5 191.1 255.1 191.2 255.0 191.4 254.5 191.5 253.9 191.7 252.8 191.8 253.3 192.0 254.9 192.1 252.1 192.3 255.8 192.4 254.2 192.6 253.5 192.7 254.1 192.9 255.8 193.0 255.4 193.2 255.3 193.4 257.5 193.5 258.3 193.7 253.1 193.8 256.2 194.0 253.9 194.1 253.0 194.3 254.3 194.4 256.5 194.6 254.6 194.7 254.4 194.9 257.2 195.0 255.9 195.2 255.0 195.3 257.8 195.5 255.9 195.6 254.2 195.8 253.7 195.9 254.6 196.1 255.5 196.2 256.7 196.4 256.5 196.5 255.5 196.7 253.6 196.8 256.7 197.0 255.5 197.1 253.7 197.3 253.5 197.4 255.6 197.6 255.8 197.7 256.5 197.9 253.5 198.0 258.1 198.2 252.7 198.3 255.3 198.5 257.3 198.6 256.8 198.8 253.9 198.9 256.2 199.1 257.1 199.2 256.4 199.4 253.9 199.6 257.8 199.7 253.0 199.9 255.4 200.0 253.8 200.2 254.7 200.3 254.8 200.5 256.0 200.6 253.5 200.8 255.6 200.9 257.2 201.1 255.4 201.2 256.1 201.4 255.9 201.5 254.2 201.7 254.8 201.8 255.4 202.0 256.0 202.1 258.3 202.3 257.7 202.4 254.7 202.6 254.7 202.7 253.9 202.9 252.0 203.0 257.3 203.2 256.1 203.3 252.5 203.5 255.4 203.6 258.8 203.8 256.1 203.9 256.1 204.1 255.7 204.2 254.3 204.4 253.7 204.5 254.2 204.7 255.6 204.8 255.1 205.0 256.4 205.1 258.0 205.3 256.3 205.4 256.7 205.6 254.9 205.7 253.6 205.9 258.6 206.1 256.5 206.2 257.2 206.4 254.9 206.5 253.0 206.7 257.4 206.8 252.4 207.0 255.3 207.1 254.7 207.3 255.8 207.4 256.7 207.6 256.7 207.7 252.5 207.9 257.0 208.0 252.8 208.2 256.5 208.3 254.9 208.5 253.9 208.6 254.8 208.8 253.6 208.9 255.5 209.1 256.9 209.2 256.7 209.4 255.6 209.5 257.2 209.7 256.3 209.8 258.7 210.0 256.3 210.1 254.7 210.3 255.2 210.4 254.5 210.6 255.2 210.7 255.4 210.9 256.6 211.0 256.7 211.2 255.7 211.3 256.2 211.5 254.5 211.6 254.8 211.8 252.0 211.9 254.5 212.1 254.9 212.2 259.4 212.4 253.7 212.6 255.7 212.7 255.1 212.9 253.3 213.0 256.0 213.2 255.7 213.3 253.5 213.5 252.3 213.6 255.6 213.8 253.6 213.9 256.6 214.1 255.3 214.2 256.4 214.4 255.2 214.5 257.9 214.7 256.7 214.8 257.9 215.0 255.9 215.1 254.2 215.3 253.7 215.4 255.0 215.6 256.2 215.7 254.8 215.9 259.3 216.0 255.7 216.2 256.4 216.3 255.9 216.5 253.9 216.6 257.3 216.8 256.7 216.9 257.0 217.1 254.4 217.2 255.8 217.4 255.8 217.5 257.5 217.7 253.8 217.8 256.8 218.0 257.7 218.1 255.2 218.3 254.7 218.4 257.8 218.6 256.2 218.7 257.5 218.9 257.0 219.1 257.4 219.2 255.6 219.4 252.8 219.5 256.8 219.7 254.9 219.8 256.8 220.0 255.1 220.1 258.3 220.3 255.6 220.4 257.1 220.6 257.5 220.7 255.8 220.9 256.4 221.0 255.9 221.2 254.6 221.3 258.1 221.5 254.6 221.6 253.7 221.8 255.2 221.9 256.1 222.1 256.0 222.2 255.4 222.4 255.3 222.5 252.8 222.7 256.9 222.8 258.5 223.0 254.9 223.1 253.3 223.3 257.0 223.4 255.7 223.6 250.1 223.7 254.9 223.9 253.8 224.0 254.2 224.2 258.9 224.3 257.4 224.5 255.7 224.6 256.0 224.8 258.3 224.9 254.4 225.1 257.1 225.2 255.1 225.4 257.2 225.6 256.3 225.7 254.9 225.9 257.6 226.0 256.8 226.2 258.7 226.3 255.4 226.5 256.2 226.6 255.0 226.8 257.8 226.9 254.9 227.1 256.0 227.2 258.0 227.4 256.8 227.5 256.5 227.7 256.4 227.8 256.5 228.0 257.0 228.1 255.6 228.3 253.1 228.4 258.0 228.6 254.5 228.7 258.7 228.9 256.5 229.0 260.7 229.2 257.8 229.3 256.7 229.5 257.4 229.6 254.0 229.8 256.3 229.9 255.5 230.1 256.0 230.2 253.0 230.4 252.8 230.5 257.1 230.7 256.1 230.8 255.3 231.0 255.8 231.1 255.0 231.3 255.3 231.4 257.0 231.6 255.6 231.7 257.0 231.9 254.9 232.1 253.3 232.2 255.0 232.4 255.7 232.5 254.3 232.7 255.3 232.8 255.2 233.0 257.3 233.1 257.1 233.3 257.5 233.4 254.8 233.6 256.4 233.7 257.8 233.9 256.1 234.0 255.8 234.2 254.7 234.3 257.1 234.5 256.1 234.6 257.3 234.8 255.6 234.9 258.8 235.1 255.8 235.2 254.0 235.4 256.1 235.5 256.5 235.7 257.7 235.8 255.1 236.0 255.0 236.1 255.4 236.3 255.2 236.4 252.6 236.6 256.8 236.7 257.5 236.9 254.6 237.0 254.2 237.2 255.5 237.3 254.5 237.5 256.8 237.6 254.7 237.8 256.5 237.9 253.8 238.1 253.5 238.2 253.3 238.4 253.5 238.6 256.2 238.7 256.8 238.9 255.7 239.0 255.8 239.2 252.2 239.3 257.1 239.5 253.6 239.6 257.3 239.8 258.9 239.9 255.5 240.1 256.2 240.2 256.2 240.4 253.3 240.5 253.6 240.7 254.2 240.8 255.4 241.0 256.4 241.1 255.3 241.3 256.7 241.4 254.3 241.6 252.9 241.7 254.9 241.9 254.8 242.0 252.7 242.2 256.2 242.3 253.3 242.5 253.5 242.6 254.8 242.8 252.8 242.9 255.2 243.1 254.8 243.2 254.7 243.4 253.9 243.5 253.0 243.7 252.4 243.8 253.8 244.0 255.0 244.1 253.8 244.3 252.8 244.4 253.2 244.6 253.1 244.7 248.7 244.9 249.6 245.1 250.4 245.2 246.4 245.4 245.3 245.5 245.2 245.7 242.1 245.8 242.0 246.0 237.3 246.1 235.9 246.3 235.6 246.4 230.3 246.6 223.1 246.7 219.7 246.9 215.8 247.0 213.2 247.2 207.1 247.3 205.9 247.5 203.8 247.6 199.9 247.8 193.4 247.9 191.4 248.1 189.4 248.2 187.4 248.4 190.7 248.5 187.6 248.7 188.2 248.8 192.4 249.0 195.0 249.1 199.9 249.3 203.4 249.4 204.8 249.6 206.1 249.7 214.2 249.9 218.4 250.0 223.8 250.2 222.7 250.3 226.9 250.5 234.2 250.6 237.3 250.8 239.6 250.9 240.1 251.1 244.2 251.2 243.5 251.4 244.1 251.6 247.2 251.7 248.7 251.9 250.7 252.0 252.0 252.2 248.6 252.3 252.1 252.5 252.9 252.6 250.8 252.8 252.6 252.9 253.3 253.1 254.1 253.2 252.4 253.4 253.0 253.5 252.4 253.7 254.6 253.8 253.8 254.0 253.5 254.1 255.4 254.3 254.3 254.4 252.8 254.6 256.3 254.7 256.1 254.9 255.4 255.0 253.3 255.2 256.5 255.3 254.1 255.5 252.3 255.6 254.8 255.8 257.7 255.9 254.4 256.1 256.0 256.2 257.1 256.4 255.5 256.5 254.8 256.7 255.3 256.8 256.1 257.0 254.6 257.1 255.8 257.3 256.2 257.4 254.8 257.6 256.4 257.7 256.2 257.9 255.0 258.1 255.2 258.2 255.6 258.4 255.3 258.5 255.2 258.7 254.1 258.8 255.7 259.0 256.6 259.1 256.5 259.3 254.4 259.4 256.4 259.6 256.5 259.7 254.3 259.9 256.4 260.0 255.4 260.2 255.1 260.3 256.0 260.5 255.4 260.6 252.5 260.8 256.0 260.9 254.1 261.1 255.6 261.2 256.7 261.4 255.4 261.5 255.1 261.7 255.9 261.8 256.4 262.0 254.6 262.1 254.9 262.3 256.5 262.4 258.0 262.6 255.8 262.7 257.0 262.9 254.7 263.0 255.8 263.2 255.9 263.3 254.0 263.5 255.8 263.6 255.5 263.8 252.2 263.9 255.7 264.1 256.2 264.2 256.1 264.4 256.2 264.6 254.2 264.7 254.8 264.9 255.5 265.0 254.6 265.2 255.1 265.3 257.5 265.5 254.6 265.6 255.3 265.8 258.4 265.9 255.6 266.1 254.4 266.2 256.2 266.4 256.1 266.5 256.0 266.7 253.5 266.8 256.2 267.0 256.4 267.1 258.8 267.3 256.8 267.4 255.3 267.6 256.3 267.7 256.9 267.9 255.7 268.0 255.9 268.2 257.9 268.3 256.6 268.5 256.7 268.6 254.6 268.8 256.6 268.9 253.3 269.1 257.7 269.2 255.4 269.4 256.9 269.5 258.0 269.7 254.5 269.8 257.7 270.0 256.4 270.1 257.7 270.3 255.5 270.4 255.1 270.6 257.9 270.7 256.7 270.9 256.1 271.1 254.5 271.2 257.9 271.4 255.6 271.5 255.8 271.7 255.1 271.8 256.1 272.0 256.9 272.1 256.0 272.3 256.0 272.4 255.3 272.6 258.2 272.7 258.3 272.9 255.7 273.0 254.8 273.2 256.4 273.3 253.8 273.5 256.4 273.6 256.4 273.8 256.3 273.9 258.3 274.1 258.6 274.2 256.7 274.4 255.6 274.5 257.5 274.7 257.7 274.8 254.4 275.0 255.0 275.1 255.7 275.3 253.7 275.4 254.5 275.6 258.3 275.7 254.3 275.9 257.2 276.0 254.9 276.2 257.4 276.3 256.5 276.5 257.3 276.6 254.1 276.8 256.5 276.9 255.3 277.1 257.1 277.2 257.1 277.4 256.3 277.6 255.9 277.7 256.0 277.9 256.4 278.0 255.3 278.2 255.4 278.3 255.2 278.5 254.6 278.6 257.5 278.8 254.2 278.9 257.9 279.1 257.0 279.2 253.7 279.4 253.5 279.5 256.1 279.7 254.6 279.8 256.2 280.0 257.4 280.1 256.5 280.3 255.7 280.4 255.8 280.6 258.1 280.7 255.5 280.9 258.5 281.0 258.9 281.2 255.5 281.3 256.5 281.5 258.4 281.6 255.1 281.8 256.7 281.9 257.5 282.1 254.6 282.2 256.6 282.4 256.3 282.5 255.4 282.7 258.2 282.8 255.9 283.0 259.3 283.1 257.1 283.3 255.1 283.4 256.5 283.6 255.0 283.7 257.2 283.9 257.0 284.1 254.4 284.2 255.5 284.4 256.8 284.5 256.2 284.7 254.7 284.8 257.6 285.0 258.0 285.1 254.0 285.3 258.1 285.4 253.2 285.6 255.9 285.7 255.1 285.9 255.3 286.0 256.3 286.2 254.4 286.3 255.9 286.5 258.4 286.6 256.7 286.8 258.1 286.9 257.2 287.1 253.8 287.2 258.5 287.4 257.2 287.5 256.9 287.7 255.5 287.8 255.3 288.0 254.6 288.1 255.8 288.3 256.2 288.4 255.8 288.6 255.8 288.7 253.3 288.9 255.0 289.0 254.9 289.2 256.4 289.3 255.4 289.5 255.4 289.6 256.1 289.8 255.3 289.9 255.6 290.1 257.5 290.3 255.7 290.4 254.7 290.6 256.8 290.7 257.1 290.9 256.8 291.0 254.1 291.2 257.3 291.3 256.0 291.5 256.1 291.6 256.1 291.8 256.6 291.9 256.6 292.1 258.0 292.2 256.3 292.4 255.8 292.5 256.8 292.7 255.8 292.8 257.4 293.0 256.2 293.1 257.0 293.3 255.2 293.4 257.3 293.6 256.8 293.7 254.8 293.9 255.4 294.0 256.0 294.2 254.1 294.3 254.4 294.5 256.6 294.6 256.6 294.8 257.7 294.9 254.1 295.1 255.4 295.2 253.1 295.4 258.3 295.5 254.1 295.7 255.5 295.8 258.5 296.0 257.8 296.1 254.7 296.3 258.9 296.4 256.5 296.6 254.4 296.8 256.2 296.9 256.7 297.1 256.7 297.2 252.9 297.4 258.3 297.5 253.6 297.7 255.5 297.8 257.7 298.0 256.3 298.1 255.7 298.3 254.9 298.4 256.5 298.6 257.6 298.7 255.0 298.9 256.3 299.0 255.2 299.2 255.1 299.3 252.9 299.5 256.1 299.6 257.0 299.8 255.5 299.9 257.1 300.1 255.9 300.2 257.4 300.4 255.9 300.5 255.2 300.7 255.0 300.8 255.8 301.0 256.0 301.1 254.6 301.3 255.4 301.4 253.8 301.6 253.8 301.7 256.5 301.9 256.1 302.0 256.8 302.2 255.7 302.3 255.9 302.5 258.0 302.6 254.4 302.8 255.9 302.9 257.6 303.1 258.2 303.3 256.2 303.4 255.2 303.6 253.9 303.7 255.1 303.9 255.5 304.0 255.3 304.2 256.0 304.3 256.0 304.5 254.6 304.6 254.0 304.8 254.7 304.9 255.7 305.1 257.3 305.2 252.8 305.4 256.4 305.5 254.5 305.7 256.4 305.8 257.4 306.0 255.4 306.1 253.2 306.3 254.1 306.4 255.0 306.6 254.0 306.7 254.3 306.9 253.2 307.0 253.9 307.2 253.2 307.3 255.0 307.5 254.1 307.6 254.4 307.8 251.0 307.9 252.2 308.1 251.5 308.2 251.4 308.4 250.3 308.5 249.9 308.7 252.2 308.8 248.9 309.0 246.6 309.1 246.7 309.3 248.8 309.4 245.3 309.6 241.5 309.8 240.6 309.9 238.8 310.1 236.8 310.2 232.0 310.4 230.8 310.5 229.4 310.7 224.7 310.8 224.3 311.0 222.1 311.1 220.6 311.3 218.7 311.4 214.9 311.6 213.7 311.7 212.9 311.9 212.4 312.0 210.6 312.2 209.5 312.3 211.8 312.5 213.1 312.6 213.5 312.8 215.8 312.9 219.2 313.1 218.7 313.2 220.8 313.4 222.8 313.5 227.3 313.7 230.6 313.8 231.1 314.0 236.6 314.1 235.6 314.3 238.9 314.4 240.3 314.6 244.1 314.7 243.0 314.9 247.5 315.0 246.3 315.2 245.9 315.3 247.8 315.5 249.2 315.6 252.4 315.8 250.1 315.9 251.2 316.1 254.4 316.3 252.2 316.4 251.4 316.6 251.5 316.7 250.6 316.9 253.3 317.0 254.6 317.2 252.5 317.3 251.7 317.5 253.5 317.6 253.2 317.8 253.0 317.9 253.9 318.1 253.3 318.2 252.8 318.4 254.6 318.5 250.8 318.7 251.7 318.8 252.8 319.0 251.4 319.1 255.2 319.3 250.2 319.4 254.0 319.6 253.8 319.7 253.5 319.9 253.5 320.0 252.1 320.2 251.9 320.3 254.7 320.5 252.5 320.6 250.6 320.8 250.8 320.9 250.3 321.1 252.7 321.2 253.7 321.4 251.6 321.5 252.1 321.7 251.0 321.8 252.7 322.0 252.5 322.1 252.3 322.3 253.2 322.4 248.8 322.6 251.2 322.8 247.6 322.9 250.1 323.1 249.7 323.2 248.9 323.4 248.1 323.5 245.9 323.7 244.2 323.8 244.8 324.0 241.4 324.1 241.5 324.3 237.4 324.4 236.7 324.6 234.1 324.7 229.6 324.9 226.8 325.0 224.5 325.2 218.7 325.3 213.8 325.5 205.2 325.6 196.1 325.8 178.6 325.9 153.8 326.1 110.6 326.2 28.2 326.4 28.2 326.5 28.2 326.7 28.2 326.8 28.2 327.0 28.2 327.1 28.2 327.3 28.2 327.4 28.2 327.6 28.2 327.7 28.2 327.9 28.2 328.0 28.2 328.2 28.2 328.3 28.2 328.5 28.2 328.6 28.2 328.8 28.2 328.9 28.2 329.1 28.2 329.3 28.2 329.4 28.2 329.6 28.2 329.7 28.2 329.9 28.2 330.0 28.2 330.2 28.2 330.3 28.2 330.5 28.2 330.6 28.2 330.8 28.2 330.9 28.2 331.1 28.2 331.2 28.2 331.4 28.2 331.5 28.2 331.7 28.2 331.8 28.2 332.0 28.2 332.1 28.2 332.3 28.2 332.4 28.2 332.6 28.2 332.7 28.2 332.9 28.2 333.0 28.2 333.2 28.2 333.3 28.2 333.5 28.2 333.6 28.2 333.8 28.2 333.9 108.4 334.1 154.7 334.2 180.9 334.4 197.3 334.5 206.2 334.7 213.2 334.8 217.5 335.0 222.8 335.1 226.9 335.3 230.7 335.4 232.9 335.6 235.0 335.8 238.3 335.9 237.5 336.1 240.5 336.2 242.9 336.4 245.7 336.5 245.4 336.7 245.8 336.8 249.0 337.0 248.6 337.1 251.2 337.3 249.6 337.4 249.4 337.6 250.3 337.7 253.4 337.9 253.4 338.0 251.9 338.2 253.3 338.3 250.3 338.5 253.9 338.6 252.9 338.8 252.5 338.9 252.8 339.1 253.2 339.2 252.4 339.4 252.6 339.5 251.6 339.7 255.3 339.8 252.2 340.0 253.2 340.1 254.8 340.3 255.2 340.4 255.5 340.6 252.9 340.7 253.2 340.9 253.7 341.0 251.4 341.2 255.1 341.3 251.8 341.5 253.8 341.6 255.2 341.8 255.2 341.9 253.6 342.1 255.4 342.3 255.6 342.4 252.0 342.6 254.0 342.7 255.2 342.9 255.0 343.0 254.2 343.2 254.3 343.3 257.6 343.5 254.1 343.6 256.0 343.8 253.1 343.9 255.4 344.1 256.1 344.2 254.2 344.4 254.0 344.5 257.3 344.7 254.6 344.8 256.3 345.0 253.1 345.1 257.3 345.3 252.4 345.4 253.9 345.6 254.3 345.7 255.1 345.9 255.5 346.0 257.4 346.2 258.0 346.3 257.8 346.5 256.4 346.6 255.7 346.8 252.7 346.9 255.3 347.1 254.7 347.2 256.3 347.4 254.2 347.5 254.4 347.7 254.6 347.8 256.4 348.0 255.8 348.1 254.2 348.3 253.3 348.4 254.9 348.6 254.8 348.8 254.9 348.9 255.8 349.1 256.6 349.2 256.7 349.4 254.8 349.5 254.7 349.7 257.8 349.8 255.5 350.0 256.7 350.1 256.1 350.3 256.3 350.4 257.9 350.6 255.6 350.7 257.3 350.9 256.6 351.0 255.7 351.2 255.3 351.3 255.2 351.5 257.5 351.6 257.3 351.8 254.9 351.9 256.5 352.1 253.6 352.2 256.1 352.4 258.7 352.5 254.5 352.7 256.5 352.8 255.2 353.0 256.2 353.1 254.7 353.3 256.3 353.4 253.0 353.6 255.8 353.7 255.7 353.9 256.0 354.0 258.8 354.2 254.6 354.3 255.2 354.5 254.3 354.6 256.8 354.8 256.2 354.9 254.6 355.1 257.4 355.3 256.5 355.4 258.1 355.6 257.2 355.7 256.3 355.9 255.1 356.0 253.3 356.2 255.4 356.3 257.7 356.5 255.9 356.6 255.1 356.8 256.5 356.9 257.2 357.1 259.9 357.2 254.9 357.4 255.8 357.5 254.7 357.7 255.3 357.8 257.4 358.0 256.1 358.1 254.3 358.3 258.0 358.4 258.6 358.6 257.3 358.7 254.9 358.9 254.8 359.0 258.0 359.2 254.9 359.3 255.5 359.5 254.3 359.6 258.8 359.8 255.4 359.9 256.0 360.1 255.3 360.2 255.4 360.4 254.7 360.5 257.8 360.7 255.4 360.8 258.2 361.0 254.6 361.1 256.9 361.3 257.6 361.4 254.7 361.6 256.6 361.8 255.5 361.9 254.8 362.1 255.7 362.2 253.8 362.4 255.9 362.5 254.2 362.7 257.2 362.8 258.3 363.0 258.2 363.1 255.3 363.3 256.1 363.4 259.0 363.6 258.0 363.7 257.2 363.9 253.5 364.0 255.9 364.2 259.3 364.3 257.0 364.5 255.8 364.6 256.5 364.8 259.6 364.9 258.1 365.1 254.7 365.2 254.9 365.4 256.5 365.5 258.2 365.7 255.4 365.8 255.6 366.0 252.9 366.1 255.6 366.3 257.2 366.4 257.2 366.6 254.4 366.7 257.5 366.9 255.3 367.0 254.5 367.2 257.1 367.3 254.1 367.5 255.7 367.6 255.2 367.8 256.1 367.9 256.6 368.1 255.7 368.3 255.2 368.4 255.6 368.6 253.1 368.7 256.2 368.9 259.2 369.0 256.9 369.2 258.0 369.3 256.4 369.5 256.5 369.6 257.1 369.8 257.4 369.9 257.4 370.1 255.4 370.2 256.5 370.4 254.5 370.5 257.9 370.7 256.5 370.8 256.1 371.0 254.8 371.1 257.2 371.3 257.9 371.4 257.2 371.6 258.1 371.7 255.5 371.9 257.8 372.0 256.6 372.2 252.9 372.3 257.0 372.5 255.2 372.6 256.4 372.8 255.7 372.9 255.4 373.1 258.1 373.2 255.9 373.4 256.9 373.5 257.6 373.7 256.1 373.8 255.0 374.0 256.8 374.1 256.6 374.3 255.5 374.4 256.9 374.6 258.5 374.8 258.1 374.9 258.9 375.1 258.7 375.2 257.0 375.4 256.8 375.5 255.3 375.7 258.4 375.8 256.0 376.0 257.6 376.1 259.1 376.3 257.0 376.4 254.8 376.6 255.4 376.7 256.3 376.9 258.6 377.0 256.4 377.2 256.6 377.3 255.3 377.5 257.3 377.6 257.0 377.8 257.9 377.9 255.5 378.1 257.7 378.2 254.9 378.4 255.9 378.5 256.1 378.7 256.5 378.8 257.3 379.0 253.6 379.1 256.7 379.3 256.3 379.4 255.0 379.6 256.4 379.7 257.4 379.9 256.2 380.0 256.1 380.2 257.7 380.3 255.8 380.5 258.3 380.6 257.4 380.8 257.4 381.0 257.7 381.1 258.6 381.3 255.9 381.4 258.4 381.6 255.7 381.7 257.4 381.9 257.7 382.0 257.1 382.2 255.4 382.3 255.2 382.5 255.4 382.6 256.8 382.8 257.1 382.9 257.7 383.1 254.8 383.2 257.3 383.4 258.3 383.5 257.1 383.7 256.9 383.8 258.0 384.0 259.1 384.1 259.0 384.3 259.1 384.4 255.2 384.6 258.9 384.7 256.5 384.9 258.1 385.0 256.2 385.2 257.5 385.3 256.2 385.5 256.6 385.6 259.6 385.8 255.4 385.9 258.4 386.1 257.1 386.2 255.5 386.4 258.8 386.5 257.1 386.7 256.3 386.8 257.5 387.0 255.9 387.1 259.3 387.3 255.0 387.5 256.3 387.6 254.3 387.8 257.4 387.9 258.2 388.1 258.3 388.2 259.2 388.4 257.1 388.5 256.5 388.7 258.3 388.8 256.3 389.0 257.6 389.1 256.5 389.3 256.1 389.4 257.0 389.6 258.6 389.7 258.4 389.9 257.3 390.0 253.5 390.2 257.1 390.3 257.7 390.5 257.9 390.6 256.2 390.8 258.5 390.9 257.6 391.1 254.6 391.2 258.2 391.4 259.4 391.5 257.5 391.7 256.1 391.8 259.7 392.0 258.5 392.1 254.7 392.3 258.6 392.4 257.7 392.6 257.6 392.7 254.8 392.9 254.9 393.0 257.4 393.2 259.8 393.3 257.4 393.5 257.3 393.6 256.3 393.8 256.6 394.0 258.5 394.1 256.1 394.3 259.7 394.4 257.8 394.6 257.5 394.7 256.9 394.9 256.1 395.0 256.7 395.2 255.0 395.3 257.1 395.5 254.4 395.6 260.0 395.8 256.9 395.9 254.9 396.1 257.3 396.2 257.1 396.4 256.2 396.5 257.3 396.7 255.8 396.8 256.7 397.0 256.6 397.1 257.5 397.3 256.1 397.4 257.3 397.6 253.0 397.7 258.3 397.9 257.1 398.0 257.6 398.2 256.5 398.3 258.1 398.5 256.8 398.6 257.1 398.8 256.9 398.9 256.1 399.1 255.6 399.2 257.5 399.4 257.6 399.5 256.7 399.7 258.4 399.8 256.9 400.0 257.3 400.1 258.1 400.3 257.5 400.5 256.2 400.6 254.8 400.8 255.2 400.9 254.6 401.1 257.0 401.2 250.9 401.4 258.3 401.5 254.1 401.7 256.6 401.8 255.3 402.0 255.3 402.1 252.4 402.3 255.3 402.4 253.3 402.6 253.9 402.7 251.4 402.9 252.2 403.0 250.8 403.2 251.7 403.3 251.8 403.5 250.1 403.6 250.6 403.8 250.3 403.9 249.1 404.1 248.5 404.2 246.0 404.4 249.9 404.5 248.6 404.7 248.0 404.8 248.6 405.0 247.7 405.1 248.2 405.3 249.6 405.4 247.2 405.6 249.2 405.7 250.3 405.9 248.3 406.0 249.4 406.2 253.1 406.3 254.8 406.5 252.7 406.6 253.7 406.8 252.0 407.0 255.4 407.1 253.9 407.3 254.5 407.4 255.2 407.6 254.2 407.7 254.3 407.9 255.5 408.0 254.3 408.2 255.1 408.3 252.6 408.5 254.9 408.6 257.0 408.8 258.0 408.9 257.4 409.1 255.6 409.2 256.9 409.4 255.5 409.5 255.4 409.7 258.3 409.8 256.5 410.0 256.6 410.1 257.3 410.3 258.3 410.4 257.3 410.6 256.8 410.7 257.6 410.9 257.1 411.0 256.8 411.2 254.2 411.3 256.0 411.5 257.1 411.6 255.9 411.8 259.8 411.9 260.4 412.1 259.6 412.2 256.1 412.4 258.0 412.5 257.9 412.7 257.9 412.8 255.3 413.0 258.7 413.1 259.7 413.3 258.5 413.5 260.3 413.6 257.1 413.8 258.4 413.9 259.2 414.1 256.3 414.2 257.4 414.4 256.5 414.5 258.7 414.7 256.0 414.8 258.0 415.0 256.8 415.1 258.8 415.3 256.9 415.4 257.4 415.6 257.9 415.7 256.6 415.9 257.0 416.0 257.3 416.2 256.9 416.3 257.9 416.5 256.6 416.6 257.7 416.8 257.2 416.9 256.7 417.1 256.1 417.2 255.0 417.4 256.6 417.5 258.2 417.7 257.0 417.8 259.5 418.0 256.2 418.1 256.9 418.3 255.3 418.4 259.0 418.6 255.6 418.7 258.0 418.9 257.8 419.0 260.9 419.2 259.2 419.3 258.5 419.5 257.6 419.6 260.0 419.8 257.0 420.0 255.8 420.1 258.7 420.3 257.4 420.4 256.6 420.6 258.0 420.7 258.2 420.9 255.4 421.0 258.8 421.2 260.2 421.3 257.0 421.5 255.5 421.6 257.9 421.8 257.4 421.9 258.6 422.1 258.8 422.2 257.4 422.4 259.6 422.5 255.0 422.7 256.6 422.8 257.8 423.0 258.1 423.1 257.4 423.3 258.2 423.4 255.8 423.6 254.5 423.7 258.7 423.9 259.4 424.0 257.6 424.2 256.0 424.3 256.7 424.5 258.4 424.6 257.9 424.8 259.4 424.9 259.9 425.1 259.3 425.2 257.3 425.4 259.1 425.5 258.3 425.7 257.9 425.8 257.9 426.0 257.5 426.1 256.3 426.3 258.1 426.5 256.6 426.6 257.6 426.8 258.7 426.9 258.7 427.1 255.1 427.2 256.7 427.4 256.1 427.5 258.0 427.7 256.6 427.8 258.9 428.0 257.0 428.1 258.2 428.3 256.3 428.4 256.6 428.6 257.2 428.7 258.2 428.9 254.8 429.0 257.7 429.2 255.6 429.3 257.8 429.5 255.2 429.6 257.0 429.8 259.2 429.9 259.5 430.1 256.2 430.2 259.9 430.4 257.0 430.5 257.6 430.7 258.2 430.8 257.7 431.0 258.0 431.1 257.8 431.3 258.7 431.4 257.8 431.6 257.0 431.7 256.2 431.9 256.1 432.0 257.4 432.2 258.5 432.3 258.0 432.5 257.1 432.6 258.1 432.8 256.8 433.0 257.7 433.1 258.1 433.3 257.0 433.4 259.3 433.6 259.0 433.7 257.1 433.9 258.4 434.0 257.8 434.2 258.0 434.3 258.0 434.5 259.3 434.6 258.0 434.8 258.0 434.9 258.8 435.1 258.8 435.2 259.9 435.4 256.5 435.5 258.5 435.7 255.2 435.8 257.6 436.0 255.9 436.1 255.9 436.3 257.5 436.4 256.2 436.6 257.2 436.7 254.0 436.9 259.4 437.0 254.0 437.2 256.7 437.3 259.9 437.5 255.8 437.6 259.9 437.8 259.1 437.9 257.5 438.1 257.1 438.2 257.2 438.4 258.0 438.5 258.9 438.7 259.4 438.8 254.8 439.0 258.8 439.1 258.4 439.3 256.0 439.5 258.8 439.6 258.9 439.8 258.8 439.9 257.5 440.1 258.7 440.2 259.2 440.4 256.7 440.5 257.0 440.7 256.8 440.8 259.2 441.0 257.6 441.1 256.6 441.3 256.2 441.4 255.9 441.6 257.9 441.7 258.7 441.9 259.3 442.0 256.3 442.2 256.3 442.3 256.3 442.5 256.4 442.6 255.6 442.8 259.6 442.9 258.2 443.1 256.9 443.2 254.1 443.4 259.4 443.5 258.6 443.7 257.7 443.8 258.5 444.0 256.6 444.1 258.4 444.3 256.8 444.4 258.1 444.6 257.3 444.7 255.8 444.9 256.1 445.0 258.9 445.2 258.8 445.3 257.2 445.5 256.5 445.6 256.9 445.8 258.0 446.0 255.6 446.1 258.8 446.3 256.4 446.4 256.0 446.6 257.4 446.7 260.0 446.9 256.5 447.0 256.9 447.2 255.9 447.3 257.8 447.5 257.8 447.6 257.4 447.8 256.9 447.9 257.9 448.1 258.5 448.2 256.8 448.4 257.0 448.5 256.5 448.7 256.6 448.8 258.9 449.0 256.0 449.1 257.5 449.3 258.7 449.4 256.6 449.6 258.0 449.7 258.2 449.9 255.3 450.0 258.5 450.2 255.8 450.3 257.3 450.5 255.1 450.6 254.9 450.8 256.7 450.9 259.1 451.1 260.4 451.2 260.6 451.4 258.6 451.5 258.3 451.7 257.7 451.8 257.4 452.0 255.9 452.1 255.6 452.3 256.6 452.5 256.4 452.6 254.7 452.8 253.7 452.9 254.0 453.1 259.1 453.2 253.3 453.4 255.7 453.5 254.9 453.7 254.2 453.8 251.4 454.0 254.4 454.1 251.4 454.3 249.6 454.4 248.8 454.6 248.9 454.7 251.2 454.9 246.0 455.0 246.2 455.2 246.6 455.3 246.7 455.5 244.1 455.6 243.8 455.8 244.1 455.9 245.6 456.1 244.4 456.2 244.4 456.4 245.1 456.5 245.3 456.7 246.8 456.8 245.0 457.0 246.5 457.1 246.2 457.3 248.7 457.4 249.5 457.6 248.7 457.7 251.3 457.9 250.1 458.0 252.9 458.2 251.1 458.3 251.6 458.5 250.8 458.6 251.9 458.8 253.2 459.0 251.3 459.1 254.6 459.3 256.1 459.4 256.0 459.6 255.8 459.7 256.7 459.9 255.3 460.0 255.6 460.2 257.5 460.3 256.4 460.5 258.0 460.6 256.1 460.8 257.8 460.9 258.6 461.1 256.9 461.2 259.4 461.4 259.2 461.5 253.9 461.7 260.8 461.8 255.0 462.0 260.6 462.1 256.1 462.3 254.4 462.4 255.5 462.6 257.9 462.7 256.0 462.9 256.6 463.0 259.0 463.2 256.0 463.3 258.1 463.5 259.1 463.6 254.9 463.8 255.8 463.9 257.7 464.1 257.4 464.2 257.8 464.4 254.7 464.5 256.3 464.7 258.0 464.8 258.3 465.0 259.2 465.1 257.0 465.3 256.5 465.5 256.2 465.6 256.3 465.8 254.7 465.9 259.8 466.1 256.9 466.2 256.6 466.4 256.7 466.5 258.3 466.7 257.7 466.8 256.5 467.0 258.9 467.1 257.9 467.3 257.3 467.4 257.5 467.6 259.1 467.7 258.5 467.9 257.4 468.0 258.9 468.2 254.6 468.3 258.5 468.5 256.4 468.6 256.7 468.8 257.2 468.9 260.1 469.1 257.3 469.2 257.4 469.4 258.4 469.5 254.8 469.7 257.2 469.8 258.5 470.0 256.2 470.1 258.3 470.3 256.5 470.4 255.5 470.6 258.8 470.7 257.7 470.9 258.6 471.0 257.8 471.2 256.1 471.3 259.0 471.5 258.2 471.7 258.2 471.8 257.1 472.0 256.1 472.1 259.6 472.3 258.7 472.4 257.9 472.6 256.9 472.7 259.5 472.9 256.5 473.0 256.6 473.2 260.6 473.3 258.5 473.5 258.9 473.6 258.7 473.8 260.6 473.9 258.3 474.1 258.4 474.2 256.5 474.4 257.8 474.5 255.6 474.7 257.2 474.8 257.7 475.0 258.7 475.1 259.5 475.3 256.8 475.4 256.3 475.6 258.1 475.7 256.5 475.9 260.0 476.0 259.4 476.2 256.4 476.3 258.0 476.5 259.4 476.6 256.5 476.8 257.1 476.9 257.6 477.1 259.6 477.2 258.3 477.4 257.4 477.5 258.1 477.7 257.8 477.8 257.9 478.0 258.3 478.2 258.0 478.3 258.6 478.5 257.7 478.6 257.3 478.8 257.3 478.9 255.5 479.1 257.0 479.2 260.1 479.4 257.6 479.5 258.4 479.7 258.8 479.8 257.0 480.0 257.2 480.1 258.4 480.3 256.4 480.4 258.9 480.6 258.6 480.7 258.0 480.9 258.0 481.0 258.6 481.2 257.8 481.3 254.3 481.5 258.3 481.6 256.4 481.8 257.0 481.9 257.1 482.1 257.1 482.2 255.4 482.4 255.1 482.5 257.6 482.7 257.7 482.8 258.3 483.0 256.0 483.1 257.3 483.3 258.8 483.4 257.2 483.6 256.9 483.7 260.5 483.9 255.5 484.0 256.6 484.2 256.3 484.3 257.1 484.5 262.0 484.7 256.3 484.8 257.4 485.0 257.0 485.1 256.7 485.3 258.9 485.4 257.1 485.6 259.2 485.7 259.7 485.9 257.1 486.0 259.7 486.2 256.2 486.3 258.2 486.5 259.2 486.6 256.4 486.8 257.7 486.9 258.5 487.1 258.6 487.2 258.3 487.4 260.5 487.5 257.6 487.7 259.5 487.8 260.7 488.0 257.0 488.1 257.3 488.3 256.4 488.4 258.8 488.6 259.8 488.7 255.5 488.9 256.6 489.0 257.0 489.2 260.9 489.3 257.3 489.5 258.4 489.6 256.2 489.8 259.0 489.9 256.4 490.1 257.8 490.2 256.5 490.4 257.7 490.5 257.7 490.7 258.2 490.8 258.1 491.0 260.3 491.2 256.9 491.3 259.7 491.5 258.3 491.6 257.6 491.8 258.3 491.9 258.2 492.1 259.0 492.2 259.0 492.4 258.7 492.5 258.2 492.7 255.7 492.8 259.0 493.0 259.4 493.1 258.4 493.3 258.3 493.4 256.7 493.6 258.3 493.7 259.1 493.9 256.1 494.0 257.3 494.2 257.2 494.3 259.5 494.5 257.3 494.6 255.4 494.8 258.1 494.9 259.6 495.1 257.6 495.2 257.3 495.4 258.1 495.5 260.1 495.7 257.5 495.8 257.5 496.0 258.4 496.1 256.8 496.3 255.6 496.4 258.0 496.6 257.4 496.7 258.3 496.9 258.0 497.0 258.6 497.2 256.4 497.3 258.3 497.5 256.6 497.7 258.3 497.8 257.3 498.0 260.1 498.1 256.6 498.3 254.8 498.4 258.0 498.6 257.2 498.7 256.6 498.9 258.1 499.0 260.0 499.2 257.6 499.3 256.9 499.5 259.7 499.6 259.3 499.8 257.8 499.9 257.1 500.1 258.8 500.2 256.9 500.4 256.9 500.5 256.7 500.7 258.5 500.8 259.8 501.0 257.9 501.1 260.1 501.3 255.1 501.4 257.7 501.6 255.5 501.7 259.0 501.9 259.5 502.0 255.4 502.2 256.7 502.3 257.8 502.5 255.7 502.6 256.5 502.8 256.4 502.9 257.8 503.1 256.7 503.2 256.1 503.4 256.6 503.5 257.5 503.7 257.7 503.8 257.4 504.0 259.2 504.2 257.1 504.3 257.7 504.5 258.4 504.6 257.1 504.8 259.4 504.9 258.6 505.1 258.7 505.2 256.5 505.4 257.5 505.5 258.4 505.7 259.0 505.8 256.8 506.0 257.0 506.1 255.9 506.3 255.7 506.4 259.1 506.6 257.7 506.7 258.4 506.9 259.1 507.0 257.7 507.2 257.9 507.3 256.3 507.5 256.9 507.6 258.3 507.8 259.6 507.9 259.1 508.1 256.8 508.2 256.7 508.4 258.7 508.5 258.4 508.7 258.5 508.8 258.1 509.0 259.4 509.1 258.1 509.3 259.7 509.4 258.5 509.6 257.8 509.7 256.3 509.9 258.2 510.0 259.0 510.2 258.0 510.3 256.5 510.5 255.4"/>
</g>
<rect x="57.0" y="48.2" width="453.5" height="451.8" fill="none" stroke="#000" stroke-width="3.2"/>
<path d="M132.6 500.0V488.0M132.6 48.2V60.2M208.2 500.0V488.0M208.2 48.2V60.2M283.8 500.0V488.0M283.8 48.2V60.2M359.3 500.0V488.0M359.3 48.2V60.2M434.9 500.0V488.0M434.9 48.2V60.2" stroke="#000" stroke-width="2.8" fill="none"/>
<text transform="translate(57.0 529.6) scale(0.94 1)" text-anchor="middle" font-size="35">20</text>
<text transform="translate(132.6 529.6) scale(0.94 1)" text-anchor="middle" font-size="35">30</text>
<text transform="translate(208.2 529.6) scale(0.94 1)" text-anchor="middle" font-size="35">40</text>
<text transform="translate(283.8 529.6) scale(0.94 1)" text-anchor="middle" font-size="35">50</text>
<text transform="translate(359.3 529.6) scale(0.94 1)" text-anchor="middle" font-size="35">60</text>
<text transform="translate(434.9 529.6) scale(0.94 1)" text-anchor="middle" font-size="35">70</text>
<text transform="translate(510.5 529.6) scale(0.94 1)" text-anchor="middle" font-size="35">80</text>
<text x="283.8" y="567" text-anchor="middle" font-size="33.3">Diffraction angle, 2θ (deg.)</text>
<text transform="translate(27 273.6) rotate(-90)" text-anchor="middle" font-size="32.5">Normalized intensity (a.u.)</text>
<text x="59.3" y="29.1" font-size="33.4">(a)</text>
<text transform="translate(182.3 240.3) scale(0.88 1)" text-anchor="middle" font-size="29.9" fill="#ff0000">76 nm</text>
<text transform="translate(181.7 350.8) scale(0.88 1)" text-anchor="middle" font-size="29.9" fill="#ffa500">46 nm</text>
<g transform="translate(181.2 418.3) scale(0.88 1)" fill="#008000"><text x="-41.55 -24.92 -8.29 0.01 16.64" font-size="29.9"> 9 nm</text><use href="#one" transform="translate(-41.55 0) scale(0.01460 -0.01460)"/></g>
<g transform="translate(181.0 473.3) scale(0.88 1)" fill="#0000ff"><text x="-41.55 -24.92 -8.29 0.01 16.64" font-size="29.9"> 2 nm</text><use href="#one" transform="translate(-41.55 0) scale(0.01460 -0.01460)"/></g>
<path d="M104.7 100.1H117.3L111.0 111.9Z" fill="#000"/>
<path d="M242.4 168.5H255.1L248.8 180.9Z" fill="#000"/>
<path d="M306.0 190.8H318.6L312.3 202.3Z" fill="#000"/>
<path d="M398.6 228.5H411.2L404.9 240.9Z" fill="#000"/>
<path d="M449.6 225.9H462.2L455.9 238.3Z" fill="#000"/>
<g transform="translate(119.81 73.50) rotate(-90) scale(0.93 1)"><text x="-22.34 -8.18 5.99" font-size="29.4">   </text><use href="#one" transform="translate(-22.34 0) scale(0.01436 -0.01436)"/><use href="#one" transform="translate(-8.18 0) scale(0.01436 -0.01436)"/><use href="#one" transform="translate(5.99 0) scale(0.01436 -0.01436)"/></g>
<text transform="translate(257.81 142.40) rotate(-90) scale(0.93 1)" text-anchor="middle" font-size="29.4">220</text>
<g transform="translate(323.31 164.15) rotate(-90) scale(0.93 1)"><text x="-23.44 -7.08 7.08" font-size="29.4">3  </text><use href="#one" transform="translate(-7.08 0) scale(0.01436 -0.01436)"/><use href="#one" transform="translate(7.08 0) scale(0.01436 -0.01436)"/></g>
<text transform="translate(413.21 200.25) rotate(-90) scale(0.93 1)" text-anchor="middle" font-size="29.4">400</text>
<g transform="translate(465.76 198.50) rotate(-90) scale(0.93 1)"><text x="-24.53 -8.18 8.18" font-size="29.4">33 </text><use href="#one" transform="translate(8.18 0) scale(0.01436 -0.01436)"/></g>
<g transform="translate(358.56 85.25) rotate(-90) scale(0.93 1)"><text x="-40.59 -20.98 -14.45 -6.28 10.07 24.24" font-size="29.4">Si 3  </text><use href="#one" transform="translate(10.07 0) scale(0.01436 -0.01436)"/><use href="#one" transform="translate(24.24 0) scale(0.01436 -0.01436)"/></g>
<rect x="652.5" y="52.6" width="427.1" height="445.5" fill="none" stroke="#000" stroke-width="3.2"/>
<path d="M705.9 498.1V490.1M705.9 52.6V60.6M759.3 498.1V485.6M759.3 52.6V65.1M812.7 498.1V490.1M812.7 52.6V60.6M866.0 498.1V485.6M866.0 52.6V65.1M919.4 498.1V490.1M919.4 52.6V60.6M972.8 498.1V485.6M972.8 52.6V65.1M1026.2 498.1V490.1M1026.2 52.6V60.6M652.5 475.8H660.5M1079.6 475.8H1071.6M652.5 453.6H660.5M1079.6 453.6H1071.6M652.5 431.3H660.5M1079.6 431.3H1071.6M652.5 409.0H660.5M1079.6 409.0H1071.6M652.5 386.7H665.0M1079.6 386.7H1067.1M652.5 364.5H660.5M1079.6 364.5H1071.6M652.5 342.2H660.5M1079.6 342.2H1071.6M652.5 319.9H660.5M1079.6 319.9H1071.6M652.5 297.6H660.5M1079.6 297.6H1071.6M652.5 275.4H665.0M1079.6 275.4H1067.1M652.5 253.1H660.5M1079.6 253.1H1071.6M652.5 230.8H660.5M1079.6 230.8H1071.6M652.5 208.5H660.5M1079.6 208.5H1071.6M652.5 186.2H660.5M1079.6 186.2H1071.6M652.5 164.0H665.0M1079.6 164.0H1067.1M652.5 141.7H660.5M1079.6 141.7H1071.6M652.5 119.4H660.5M1079.6 119.4H1071.6M652.5 97.2H660.5M1079.6 97.2H1071.6M652.5 74.9H660.5M1079.6 74.9H1071.6" stroke="#000" stroke-width="2.8" fill="none"/>
<text transform="translate(652.5 528.8) scale(0.94 1)" text-anchor="middle" font-size="35">0</text>
<text transform="translate(759.3 528.8) scale(0.94 1)" text-anchor="middle" font-size="35">20</text>
<text transform="translate(866.0 528.8) scale(0.94 1)" text-anchor="middle" font-size="35">40</text>
<text transform="translate(972.8 528.8) scale(0.94 1)" text-anchor="middle" font-size="35">60</text>
<text transform="translate(1079.6 528.8) scale(0.94 1)" text-anchor="middle" font-size="35">80</text>
<text transform="translate(646.2 509.6) scale(0.94 1)" text-anchor="end" font-size="35">0</text>
<text transform="translate(646.2 398.2) scale(0.94 1)" text-anchor="end" font-size="35">5</text>
<g transform="translate(646.2 286.9) scale(0.94 1)"><text x="-38.93 -19.47" font-size="35"> 0</text><use href="#one" transform="translate(-38.93 0) scale(0.01709 -0.01709)"/></g>
<g transform="translate(646.2 175.5) scale(0.94 1)"><text x="-38.93 -19.47" font-size="35"> 5</text><use href="#one" transform="translate(-38.93 0) scale(0.01709 -0.01709)"/></g>
<text transform="translate(646.2 64.1) scale(0.94 1)" text-anchor="end" font-size="35">20</text>
<text x="866.0" y="565.3" text-anchor="middle" font-size="32.6">Thickness (nm)</text>
<text transform="translate(593.8 275.4) rotate(-90)" text-anchor="middle" font-size="33.7">Grain size <tspan font-style="italic" dx="1.5">L</tspan><tspan font-size="22.5" dy="7.2">XRD</tspan><tspan dy="-7.2" dx="3"> (nm)</tspan></text>
<text x="660.2" y="29.1" font-size="33.4">(b)</text>
<polyline points="716.6,328.8 753.9,252.0 898.1,210.8 1058.2,213.9" fill="none" stroke="#0000ff" stroke-width="2" stroke-dasharray="6.4 2.5"/>
<path d="M708.6 328.8L724.6 320.8V336.8Z" fill="#fff" stroke="#0000ff" stroke-width="2"/>
<path d="M745.9 252.0L761.9 244.0V260.0Z" fill="#fff" stroke="#0000ff" stroke-width="2"/>
<path d="M890.1 210.8L906.1 202.8V218.8Z" fill="#fff" stroke="#0000ff" stroke-width="2"/>
<path d="M1050.2 213.9L1066.2 205.9V221.9Z" fill="#fff" stroke="#0000ff" stroke-width="2"/>
<polyline points="716.6,278.0 753.9,251.1 898.1,126.1 1058.2,104.3" fill="none" stroke="#ff0000" stroke-width="2" stroke-dasharray="6.4 2.5"/>
<circle cx="716.6" cy="278.0" r="8.2" fill="#fff" stroke="#ff0000" stroke-width="2"/>
<circle cx="753.9" cy="251.1" r="8.2" fill="#fff" stroke="#ff0000" stroke-width="2"/>
<circle cx="898.1" cy="126.1" r="8.2" fill="#fff" stroke="#ff0000" stroke-width="2"/>
<circle cx="1058.2" cy="104.3" r="8.2" fill="#fff" stroke="#ff0000" stroke-width="2"/>
<polyline points="716.6,233.7 753.9,221.9 898.1,137.7 1058.2,83.1" fill="none" stroke="#d4101a" stroke-width="2" stroke-dasharray="6.4 2.5"/>
<path d="M716.6 225.7L724.6 241.7H708.6Z" fill="#fff" stroke="#d4101a" stroke-width="2"/>
<path d="M753.9 213.9L761.9 229.9H745.9Z" fill="#fff" stroke="#d4101a" stroke-width="2"/>
<path d="M898.1 129.7L906.1 145.7H890.1Z" fill="#fff" stroke="#d4101a" stroke-width="2"/>
<path d="M1058.2 75.1L1066.2 91.1H1050.2Z" fill="#fff" stroke="#d4101a" stroke-width="2"/>
<polyline points="716.6,262.0 753.9,244.4 898.1,130.6 1058.2,72.2" fill="none" stroke="#a01818" stroke-width="2" stroke-dasharray="6.4 2.5"/>
<rect x="708.5" y="253.9" width="16.2" height="16.2" fill="#fff" stroke="#a01818" stroke-width="2"/>
<rect x="745.8" y="236.3" width="16.2" height="16.2" fill="#fff" stroke="#a01818" stroke-width="2"/>
<rect x="890.0" y="122.5" width="16.2" height="16.2" fill="#fff" stroke="#a01818" stroke-width="2"/>
<rect x="1050.1" y="64.1" width="16.2" height="16.2" fill="#fff" stroke="#a01818" stroke-width="2"/>
<polyline points="716.6,261.5 753.9,248.6 898.1,134.1 1058.2,106.7" fill="none" stroke="#6e0e0e" stroke-width="2" stroke-dasharray="6.4 2.5"/>
<path d="M716.6 269.5L724.6 253.5H708.6Z" fill="#fff" stroke="#6e0e0e" stroke-width="2"/>
<path d="M753.9 256.6L761.9 240.6H745.9Z" fill="#fff" stroke="#6e0e0e" stroke-width="2"/>
<path d="M898.1 142.1L906.1 126.1H890.1Z" fill="#fff" stroke="#6e0e0e" stroke-width="2"/>
<path d="M1058.2 114.7L1066.2 98.7H1050.2Z" fill="#fff" stroke="#6e0e0e" stroke-width="2"/>
<rect x="790" y="286.4" width="275.6" height="197.9" fill="#f2f2f2"/>
<path d="M800.7 306.4H854.5" stroke="#0000ff" stroke-width="2" stroke-dasharray="6.1 2.7"/>
<path d="M819.7 306.4L835.7 298.4V314.4Z" fill="#fff" stroke="#0000ff" stroke-width="2"/>
<text transform="translate(876.8 316.2) scale(0.96 1)" font-size="27.8">500 °C, 30 min</text>
<path d="M800.7 344.6H854.5" stroke="#ff0000" stroke-width="2" stroke-dasharray="6.1 2.7"/>
<circle cx="827.7" cy="344.6" r="8.2" fill="#fff" stroke="#ff0000" stroke-width="2"/>
<g transform="translate(876.8 354.4) scale(0.96 1)"><text x="0.00 15.46 30.92 46.38 54.11 65.22 85.30 93.02 100.75 116.21 123.93 147.09 153.27" font-size="27.8">900 °C,   min</text><use href="#one" transform="translate(100.75 0) scale(0.01357 -0.01357)"/></g>
<path d="M800.7 382.8H854.5" stroke="#d4101a" stroke-width="2" stroke-dasharray="6.1 2.7"/>
<path d="M827.7 374.8L835.7 390.8H819.7Z" fill="#fff" stroke="#d4101a" stroke-width="2"/>
<text transform="translate(876.8 392.6) scale(0.96 1)" font-size="27.8">900 °C, 5 min</text>
<path d="M800.7 421.0H854.5" stroke="#a01818" stroke-width="2" stroke-dasharray="6.1 2.7"/>
<rect x="819.6" y="412.9" width="16.2" height="16.2" fill="#fff" stroke="#a01818" stroke-width="2"/>
<g transform="translate(876.8 430.8) scale(0.96 1)"><text x="0.00 15.46 30.92 46.38 54.11 65.22 85.30 93.02 100.75 116.21 131.67 139.39 162.55 168.73" font-size="27.8">900 °C,  0 min</text><use href="#one" transform="translate(100.75 0) scale(0.01357 -0.01357)"/></g>
<path d="M800.7 459.2H854.5" stroke="#6e0e0e" stroke-width="2" stroke-dasharray="6.1 2.7"/>
<path d="M827.7 467.2L835.7 451.2H819.7Z" fill="#fff" stroke="#6e0e0e" stroke-width="2"/>
<text transform="translate(876.8 469.0) scale(0.96 1)" font-size="27.8">900 °C, 30 min</text>
</svg></body></html>
